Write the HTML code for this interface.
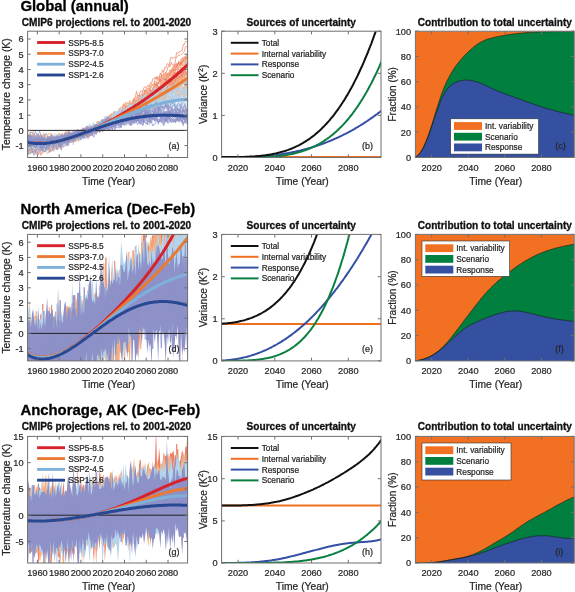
<!DOCTYPE html>
<html><head><meta charset="utf-8"><style>html,body{margin:0;padding:0;background:#fff;width:575px;height:592px;overflow:hidden}svg{display:block;will-change:transform}text{font-family:"Liberation Sans",sans-serif}</style></head>
<body><svg width="575" height="592" viewBox="0 0 575 592" font-family='"Liberation Sans", sans-serif'>
<rect width="575" height="592" fill="#fff"/>
<defs>
<clipPath id="c00"><rect x="27.6" y="31.2" width="160" height="126.3"/></clipPath>
<clipPath id="c01"><rect x="221.6" y="31.2" width="159.4" height="126.3"/></clipPath>
<clipPath id="c02"><rect x="415.4" y="31.2" width="158.8" height="126.3"/></clipPath>
<clipPath id="c10"><rect x="27.6" y="234.4" width="160" height="126.5"/></clipPath>
<clipPath id="c11"><rect x="221.6" y="234.4" width="159.4" height="126.5"/></clipPath>
<clipPath id="c12"><rect x="415.4" y="234.4" width="158.8" height="126.5"/></clipPath>
<clipPath id="c20"><rect x="27.6" y="436.4" width="160" height="126.6"/></clipPath>
<clipPath id="c21"><rect x="221.6" y="436.4" width="159.4" height="126.6"/></clipPath>
<clipPath id="c22"><rect x="415.4" y="436.4" width="158.8" height="126.6"/></clipPath>
</defs>
<g clip-path="url(#c00)">
<path d="M0 1415l1 17 1 -3 1 11 1 -18 1 -32 1 30 1 13 1 -20 1 -3 1 5 1 24 1 -12 1 -19 1 37 1 -7 1 28 1 -5 1 10 1 -32 1 11 1 -30 1 -7 1 4 1 50 1 -28 1 -20 1 -11 1 31 1 -15 1 5 1 -4 1 -42 1 25 1 -10 1 -25 1 22 1 -5 1 -9 1 -3 1 24 1 -23 1 -36 1 49 1 -39 1 1 1 15 1 -55 1 7 1 42 1 -18 1 -18 1 8 1 -20 1 8 1 -17 1 -24 1 35 1 -12 1 8 1 -14 1 21 1 -10 1 -17 1 -33 1 -20 1 41 1 -4 1 -37 1 40 1 -26 1 -20 1 -41 1 -5 1 14 1 0 1 -9 1 -46 1 23 1 -2 1 -21 1 -2 1 -4 1 12 1 -26 1 -5 1 -42 1 -8 1 6 1 -19 1 9 1 -33 1 6 1 -17 1 28 1 -33 1 27 1 8 1 -41 1 -6 1 -32 1 -60 1 40 1 1 1 -25 1 -21 1 1 1 -6 1 -29 1 -12 1 22 1 -21 1 -16 1 11 1 -33 1 7 1 -45 1 -5 1 -7 1 5 1 -17 1 27 1 -18 1 -45 1 31 1 -62 1 28 1 -53 1 9 1 -40 1 -6 1 24 1 -60 1 -31 1 14 1 0 1 -12 1 5 1 -51 1 10 1 -17 1 2 1 -12 1 0 1 -63 1 2 1 -33 1 0 1 6 1 -16" transform="translate(26.5,0) scale(1.0883,0.1)" fill="none" stroke="#EE7D62" stroke-width="0.7" vector-effect="non-scaling-stroke"/>
<path d="M0 1430l1 2 1 25 1 -4 1 -53 1 34 1 19 1 -23 1 -30 1 53 1 -11 1 6 1 25 1 -45 1 2 1 -2 1 17 1 -21 1 14 1 -5 1 18 1 7 1 -53 1 22 1 -11 1 2 1 8 1 2 1 -24 1 10 1 -1 1 -6 1 -28 1 0 1 5 1 20 1 21 1 -46 1 -16 1 17 1 -12 1 -11 1 -7 1 -6 1 25 1 -37 1 45 1 -34 1 -5 1 -13 1 -28 1 -3 1 53 1 24 1 -49 1 21 1 -18 1 -27 1 41 1 20 1 -49 1 -13 1 -1 1 -11 1 11 1 13 1 -30 1 4 1 10 1 -47 1 -7 1 -17 1 19 1 -6 1 1 1 -8 1 -30 1 6 1 -27 1 -14 1 -45 1 54 1 -38 1 4 1 -6 1 23 1 -20 1 -37 1 0 1 -9 1 0 1 -37 1 8 1 42 1 -25 1 14 1 25 1 -57 1 -63 1 2 1 21 1 -6 1 -52 1 -1 1 -5 1 -6 1 -10 1 -26 1 -9 1 -3 1 20 1 -35 1 9 1 -43 1 31 1 -22 1 -16 1 15 1 -67 1 -22 1 27 1 -25 1 -7 1 54 1 -52 1 -17 1 -15 1 12 1 -21 1 -17 1 -41 1 -3 1 -1 1 -41 1 24 1 -5 1 21 1 -74 1 -18 1 -13 1 -7 1 2 1 -11 1 -2 1 -10 1 -17 1 -46 1 -2 1 4 1 3" transform="translate(26.5,0) scale(1.0883,0.1)" fill="none" stroke="#EE7D62" stroke-width="0.7" vector-effect="non-scaling-stroke"/>
<path d="M0 1343l1 9 1 13 1 22 1 -15 1 -23 1 22 1 4 1 2 1 -5 1 35 1 -17 1 8 1 -33 1 25 1 -20 1 -27 1 32 1 16 1 -12 1 0 1 21 1 -24 1 -41 1 36 1 9 1 20 1 -24 1 26 1 4 1 -51 1 31 1 -34 1 -21 1 20 1 -2 1 -31 1 35 1 17 1 20 1 -25 1 -39 1 -3 1 38 1 8 1 -7 1 -21 1 3 1 -11 1 -6 1 8 1 -5 1 -9 1 1 1 -14 1 -36 1 14 1 13 1 39 1 -35 1 37 1 -4 1 -51 1 -16 1 10 1 33 1 -22 1 -3 1 -33 1 -47 1 25 1 26 1 12 1 -23 1 -8 1 14 1 -26 1 15 1 -47 1 -17 1 -9 1 26 1 -17 1 5 1 3 1 -4 1 15 1 4 1 -51 1 1 1 -12 1 -25 1 47 1 -11 1 -27 1 -18 1 7 1 -32 1 3 1 27 1 -3 1 -42 1 -10 1 43 1 -61 1 -7 1 -23 1 25 1 1 1 13 1 -79 1 30 1 -34 1 33 1 -13 1 30 1 -23 1 -41 1 30 1 -46 1 -3 1 23 1 -10 1 -9 1 -17 1 0 1 1 1 -17 1 5 1 2 1 -32 1 -35 1 36 1 -28 1 0 1 1 1 -45 1 10 1 -46 1 29 1 -22 1 0 1 5 1 -33 1 0 1 -23 1 1 1 16 1 -22 1 -17" transform="translate(26.5,0) scale(1.0883,0.1)" fill="none" stroke="#EE7D62" stroke-width="0.7" vector-effect="non-scaling-stroke"/>
<path d="M0 1462l1 37 1 -39 1 26 1 23 1 -30 1 -34 1 46 1 5 1 -7 1 6 1 -30 1 15 1 2 1 -28 1 20 1 -21 1 23 1 11 1 16 1 -76 1 23 1 -7 1 2 1 -4 1 -1 1 -42 1 49 1 24 1 -7 1 3 1 -46 1 -17 1 30 1 16 1 -19 1 -46 1 74 1 -52 1 16 1 -43 1 29 1 -10 1 19 1 -8 1 -56 1 -7 1 20 1 13 1 23 1 -29 1 -20 1 -8 1 -5 1 16 1 -21 1 -10 1 -35 1 -27 1 31 1 19 1 -13 1 3 1 0 1 -18 1 11 1 -36 1 0 1 -12 1 1 1 7 1 3 1 -19 1 -4 1 -22 1 -7 1 23 1 -29 1 17 1 -16 1 -16 1 28 1 -43 1 -19 1 -4 1 -1 1 -7 1 6 1 -19 1 -5 1 -20 1 16 1 -31 1 -13 1 -4 1 0 1 -27 1 34 1 -41 1 -14 1 -11 1 -11 1 13 1 -11 1 -28 1 -10 1 -4 1 29 1 -41 1 -32 1 -13 1 7 1 34 1 -50 1 2 1 45 1 -55 1 17 1 -6 1 -23 1 -54 1 12 1 -17 1 -43 1 -17 1 25 1 3 1 15 1 -14 1 -36 1 -17 1 -6 1 -28 1 22 1 -16 1 -30 1 -13 1 -22 1 0 1 8 1 -20 1 15 1 11 1 -53 1 -10 1 -19 1 29 1 -28 1 -11 1 -6" transform="translate(26.5,0) scale(1.0883,0.1)" fill="none" stroke="#EE7D62" stroke-width="0.7" vector-effect="non-scaling-stroke"/>
<path d="M0 1418l1 6 1 24 1 -5 1 -17 1 70 1 -35 1 -24 1 -10 1 -25 1 5 1 18 1 6 1 -9 1 25 1 -3 1 -22 1 -30 1 35 1 8 1 -4 1 -27 1 20 1 -27 1 43 1 -6 1 -2 1 -24 1 -14 1 49 1 0 1 -29 1 11 1 20 1 -51 1 -6 1 -3 1 17 1 -29 1 16 1 -27 1 33 1 6 1 -23 1 9 1 -29 1 -3 1 22 1 -18 1 1 1 -30 1 21 1 -1 1 -38 1 -37 1 -9 1 35 1 4 1 -31 1 23 1 22 1 -21 1 -17 1 21 1 21 1 -1 1 -48 1 14 1 -12 1 -14 1 -15 1 13 1 -17 1 22 1 -7 1 9 1 -46 1 8 1 14 1 -6 1 -8 1 -25 1 38 1 -3 1 -18 1 -71 1 10 1 22 1 -14 1 -36 1 35 1 10 1 -34 1 2 1 -7 1 20 1 -49 1 -14 1 17 1 -1 1 54 1 -44 1 1 1 -17 1 -14 1 14 1 30 1 -39 1 8 1 -10 1 -1 1 -9 1 35 1 -68 1 -4 1 -24 1 -29 1 29 1 44 1 -11 1 0 1 -19 1 -23 1 34 1 -44 1 22 1 -36 1 -6 1 -2 1 -10 1 3 1 -2 1 17 1 -34 1 -55 1 -23 1 2 1 9 1 28 1 -42 1 15 1 0 1 0 1 -13 1 3 1 -11 1 13 1 -17 1 -66 1 25" transform="translate(26.5,0) scale(1.0883,0.1)" fill="none" stroke="#EE7D62" stroke-width="0.7" vector-effect="non-scaling-stroke"/>
<path d="M0 1384l1 37 1 -8 1 -25 1 8 1 6 1 -28 1 40 1 -4 1 12 1 -39 1 62 1 -8 1 -6 1 -27 1 -7 1 -19 1 58 1 -33 1 12 1 11 1 -23 1 23 1 31 1 -28 1 15 1 -15 1 -27 1 -8 1 -31 1 27 1 36 1 -8 1 0 1 5 1 -36 1 11 1 30 1 -50 1 0 1 -12 1 0 1 -14 1 7 1 -26 1 7 1 1 1 -3 1 36 1 -19 1 -6 1 -15 1 27 1 -59 1 12 1 29 1 16 1 -28 1 -16 1 6 1 -19 1 7 1 -26 1 15 1 -13 1 -29 1 -46 1 59 1 2 1 5 1 -37 1 27 1 -10 1 -17 1 12 1 -1 1 -15 1 27 1 -10 1 -29 1 -25 1 -5 1 29 1 -24 1 -38 1 -11 1 6 1 15 1 -32 1 11 1 12 1 -9 1 -55 1 5 1 -23 1 24 1 -28 1 19 1 -8 1 -64 1 13 1 26 1 -6 1 -15 1 -29 1 23 1 29 1 -28 1 -20 1 -13 1 -35 1 6 1 -14 1 31 1 -38 1 -43 1 10 1 9 1 -1 1 -40 1 40 1 -11 1 -21 1 -18 1 14 1 -18 1 2 1 -14 1 -5 1 15 1 -26 1 -33 1 24 1 -15 1 -30 1 22 1 -26 1 12 1 -49 1 -47 1 -14 1 37 1 -16 1 2 1 -5 1 -40 1 43 1 -45 1 4 1 -37" transform="translate(26.5,0) scale(1.0883,0.1)" fill="none" stroke="#EE7D62" stroke-width="0.7" vector-effect="non-scaling-stroke"/>
<path d="M0 1445l1 -10 1 12 1 -5 1 20 1 41 1 -52 1 -12 1 9 1 4 1 -20 1 26 1 12 1 -7 1 -33 1 45 1 -43 1 26 1 16 1 -46 1 14 1 28 1 -12 1 -33 1 -17 1 28 1 -11 1 -11 1 23 1 -16 1 2 1 9 1 0 1 -14 1 -6 1 9 1 -3 1 -36 1 6 1 -15 1 -14 1 6 1 -36 1 52 1 -22 1 14 1 -45 1 -13 1 71 1 -3 1 -39 1 -17 1 -8 1 12 1 -11 1 -11 1 9 1 -25 1 59 1 -47 1 17 1 -41 1 10 1 13 1 -27 1 16 1 1 1 10 1 -33 1 -25 1 -23 1 14 1 -25 1 10 1 2 1 -18 1 -20 1 19 1 0 1 -6 1 -12 1 13 1 -41 1 13 1 -19 1 17 1 -24 1 -13 1 9 1 -54 1 14 1 -31 1 4 1 31 1 -2 1 -23 1 -4 1 -6 1 0 1 28 1 -31 1 28 1 -52 1 3 1 -5 1 -17 1 -21 1 24 1 9 1 -18 1 10 1 -25 1 -68 1 31 1 -33 1 27 1 -33 1 -2 1 -13 1 -23 1 -38 1 16 1 0 1 18 1 -34 1 1 1 -29 1 4 1 -43 1 60 1 -24 1 -39 1 8 1 5 1 -16 1 12 1 -35 1 -66 1 1 1 41 1 1 1 -17 1 -42 1 19 1 -4 1 -42 1 -19 1 13 1 13 1 5" transform="translate(26.5,0) scale(1.0883,0.1)" fill="none" stroke="#EE7D62" stroke-width="0.7" vector-effect="non-scaling-stroke"/>
<path d="M0 1502l1 25 1 -17 1 -34 1 4 1 50 1 -29 1 -15 1 35 1 14 1 -15 1 27 1 -59 1 64 1 -10 1 -22 1 -9 1 -13 1 -8 1 6 1 -29 1 60 1 -30 1 4 1 -19 1 -10 1 19 1 -3 1 -34 1 -3 1 18 1 -55 1 -25 1 70 1 -20 1 -55 1 16 1 14 1 10 1 7 1 -8 1 1 1 -30 1 11 1 1 1 13 1 -25 1 7 1 -17 1 -35 1 0 1 -7 1 -3 1 2 1 0 1 0 1 -27 1 26 1 -48 1 10 1 14 1 -5 1 -2 1 -21 1 9 1 -40 1 26 1 36 1 -26 1 17 1 -41 1 -39 1 -6 1 36 1 -4 1 -60 1 10 1 6 1 -24 1 -41 1 9 1 23 1 -1 1 -10 1 19 1 11 1 -24 1 10 1 -20 1 -13 1 -56 1 47 1 -6 1 -5 1 -19 1 -23 1 22 1 9 1 16 1 -15 1 -40 1 -6 1 16 1 -13 1 -17 1 -20 1 12 1 -8 1 27 1 -12 1 -67 1 56 1 -27 1 -25 1 0 1 4 1 -19 1 -12 1 -7 1 31 1 -33 1 0 1 -12 1 -25 1 -22 1 -17 1 19 1 -30 1 -20 1 -10 1 -15 1 23 1 2 1 -26 1 33 1 -29 1 1 1 -9 1 20 1 -17 1 -30 1 -35 1 -18 1 11 1 0 1 7 1 -30 1 -2 1 -25 1 -38" transform="translate(26.5,0) scale(1.0883,0.1)" fill="none" stroke="#EE7D62" stroke-width="0.7" vector-effect="non-scaling-stroke"/>
<path d="M0 1505l1 19 1 0 1 -53 1 7 1 39 1 -35 1 -23 1 27 1 14 1 -4 1 -15 1 -12 1 -17 1 -6 1 -3 1 -6 1 12 1 49 1 -16 1 -16 1 8 1 -26 1 17 1 15 1 -48 1 1 1 7 1 -15 1 -9 1 10 1 60 1 -22 1 -14 1 4 1 -26 1 -32 1 23 1 18 1 -65 1 31 1 22 1 -27 1 -16 1 17 1 -31 1 15 1 10 1 -23 1 -24 1 20 1 -19 1 0 1 -66 1 52 1 -33 1 17 1 2 1 -21 1 -14 1 -16 1 11 1 19 1 1 1 -26 1 -13 1 -24 1 9 1 -14 1 -18 1 20 1 37 1 1 1 1 1 -68 1 28 1 -40 1 -2 1 -29 1 2 1 20 1 4 1 -9 1 -9 1 8 1 -13 1 -43 1 53 1 -31 1 12 1 -25 1 -26 1 7 1 -21 1 40 1 -51 1 17 1 -26 1 -3 1 53 1 -28 1 -35 1 -43 1 8 1 -1 1 29 1 -56 1 -31 1 24 1 7 1 27 1 -51 1 -60 1 19 1 -11 1 6 1 29 1 -46 1 35 1 -17 1 -21 1 -25 1 -4 1 -6 1 17 1 10 1 -31 1 0 1 7 1 -5 1 -24 1 16 1 -12 1 -4 1 -47 1 -25 1 -48 1 54 1 -8 1 -43 1 5 1 -3 1 -51 1 22 1 17 1 1 1 -41 1 -19 1 23 1 -9" transform="translate(26.5,0) scale(1.0883,0.1)" fill="none" stroke="#EE7D62" stroke-width="0.7" vector-effect="non-scaling-stroke"/>
<path d="M0 1411l1 -21 1 -4 1 51 1 -16 1 -19 1 16 1 39 1 -27 1 -30 1 -26 1 73 1 -81 1 56 1 -28 1 -14 1 1 1 18 1 32 1 -28 1 19 1 44 1 -102 1 14 1 -20 1 51 1 -36 1 -15 1 -5 1 31 1 34 1 -14 1 38 1 -1 1 -40 1 9 1 -16 1 -8 1 -48 1 -2 1 25 1 -21 1 34 1 -1 1 -29 1 34 1 -12 1 16 1 -28 1 -44 1 36 1 -13 1 17 1 8 1 2 1 -60 1 -40 1 25 1 30 1 -25 1 12 1 -24 1 1 1 -4 1 -12 1 18 1 -2 1 23 1 -24 1 9 1 -28 1 4 1 -25 1 -20 1 30 1 -8 1 -5 1 -41 1 -38 1 2 1 22 1 -37 1 48 1 -55 1 25 1 48 1 -106 1 -14 1 46 1 -16 1 -2 1 -13 1 25 1 -14 1 -34 1 -11 1 -29 1 10 1 -51 1 45 1 -13 1 37 1 -9 1 -63 1 24 1 -30 1 -2 1 15 1 -16 1 -8 1 -8 1 -35 1 -14 1 16 1 6 1 -30 1 -7 1 -32 1 -51 1 17 1 18 1 2 1 9 1 -3 1 -5 1 -21 1 -12 1 -36 1 7 1 -8 1 12 1 -64 1 -2 1 -35 1 4 1 -21 1 24 1 -20 1 -56 1 60 1 -41 1 -30 1 10 1 -11 1 -22 1 27 1 -22 1 13 1 -8 1 -11" transform="translate(26.5,0) scale(1.0883,0.1)" fill="none" stroke="#EE7D62" stroke-width="0.7" vector-effect="non-scaling-stroke"/>
<path d="M0 1406l1 40 1 -62 1 1 1 10 1 28 1 2 1 -12 1 0 1 45 1 -39 1 -59 1 87 1 -37 1 3 1 11 1 -30 1 47 1 -16 1 -34 1 25 1 12 1 -9 1 9 1 -43 1 40 1 -28 1 37 1 -32 1 5 1 55 1 -42 1 9 1 -12 1 -49 1 41 1 10 1 -54 1 10 1 -30 1 16 1 28 1 -11 1 -34 1 -7 1 16 1 2 1 1 1 8 1 -55 1 22 1 29 1 -8 1 -32 1 -11 1 11 1 12 1 -15 1 30 1 -3 1 -50 1 10 1 -20 1 -27 1 0 1 11 1 -47 1 15 1 23 1 -21 1 -3 1 23 1 -17 1 -4 1 35 1 -33 1 -12 1 -4 1 21 1 -26 1 -18 1 -13 1 19 1 -38 1 25 1 -18 1 -44 1 27 1 -1 1 -39 1 15 1 -1 1 -17 1 -28 1 59 1 -18 1 -6 1 -4 1 -12 1 -8 1 -33 1 12 1 -24 1 -18 1 14 1 -20 1 -43 1 10 1 19 1 -12 1 10 1 -29 1 -26 1 23 1 -12 1 -38 1 19 1 -15 1 16 1 -5 1 -14 1 -67 1 29 1 5 1 -3 1 -15 1 -28 1 -5 1 -47 1 19 1 -26 1 11 1 -10 1 34 1 -24 1 -14 1 -7 1 32 1 -61 1 2 1 -5 1 -12 1 -11 1 -23 1 22 1 -8 1 -35 1 -14 1 0 1 -3" transform="translate(26.5,0) scale(1.0883,0.1)" fill="none" stroke="#EE7D62" stroke-width="0.7" vector-effect="non-scaling-stroke"/>
<path d="M0 1400l1 41 1 -41 1 3 1 29 1 -17 1 43 1 19 1 -3 1 -20 1 -8 1 2 1 -12 1 43 1 -43 1 27 1 -8 1 -8 1 12 1 8 1 -6 1 -24 1 -22 1 -6 1 30 1 3 1 3 1 -30 1 42 1 -58 1 17 1 10 1 -22 1 -24 1 6 1 -15 1 12 1 -21 1 -9 1 24 1 -28 1 16 1 4 1 21 1 -10 1 -29 1 34 1 -35 1 -7 1 -3 1 49 1 -33 1 -29 1 19 1 -16 1 45 1 -55 1 9 1 -34 1 45 1 -44 1 3 1 -25 1 26 1 -1 1 -65 1 43 1 7 1 -10 1 9 1 -47 1 -30 1 40 1 30 1 -56 1 -19 1 -3 1 -12 1 36 1 -8 1 20 1 3 1 -54 1 15 1 -62 1 25 1 18 1 -29 1 -34 1 14 1 36 1 -27 1 -33 1 25 1 10 1 -40 1 3 1 23 1 -13 1 0 1 -27 1 -8 1 -30 1 -3 1 42 1 -33 1 -25 1 -3 1 -18 1 24 1 11 1 -42 1 26 1 26 1 -65 1 13 1 -10 1 15 1 -2 1 -9 1 -25 1 -28 1 44 1 -58 1 19 1 -2 1 -43 1 -2 1 25 1 -70 1 32 1 -20 1 -10 1 -35 1 24 1 -30 1 23 1 -39 1 23 1 -7 1 -56 1 10 1 2 1 -51 1 19 1 25 1 -32 1 25 1 -48 1 -22" transform="translate(26.5,0) scale(1.0883,0.1)" fill="none" stroke="#EE7D62" stroke-width="0.7" vector-effect="non-scaling-stroke"/>
<path d="M0 1446l1 3 1 23 1 -26 1 49 1 -20 1 -6 1 -5 1 -13 1 28 1 -30 1 7 1 11 1 19 1 1 1 -34 1 18 1 -18 1 -27 1 -9 1 -15 1 34 1 26 1 -38 1 2 1 -19 1 17 1 -22 1 -1 1 1 1 3 1 1 1 2 1 -1 1 -19 1 24 1 -43 1 24 1 -19 1 15 1 5 1 -49 1 32 1 28 1 -7 1 -13 1 -60 1 21 1 -13 1 35 1 -22 1 -16 1 -33 1 41 1 -19 1 -3 1 24 1 -18 1 -4 1 40 1 -55 1 -18 1 11 1 20 1 -58 1 6 1 -18 1 -17 1 33 1 -23 1 13 1 -4 1 -4 1 -7 1 -29 1 8 1 5 1 1 1 -17 1 17 1 -7 1 -15 1 2 1 -13 1 3 1 -59 1 -8 1 13 1 10 1 -49 1 21 1 11 1 -10 1 -7 1 -30 1 17 1 -44 1 45 1 -24 1 24 1 -57 1 24 1 -3 1 -27 1 -19 1 39 1 -9 1 15 1 -33 1 -10 1 -2 1 1 1 -11 1 0 1 -33 1 -36 1 58 1 -26 1 -7 1 -27 1 18 1 -17 1 8 1 -40 1 -4 1 -2 1 -17 1 3 1 23 1 -45 1 -12 1 0 1 -30 1 -20 1 37 1 -1 1 -56 1 -20 1 34 1 14 1 -14 1 -13 1 13 1 -37 1 11 1 -5 1 -53 1 12 1 -16 1 -26" transform="translate(26.5,0) scale(1.0883,0.1)" fill="none" stroke="#EE7D62" stroke-width="0.7" vector-effect="non-scaling-stroke"/>
<path d="M0 1436l1 19 1 -48 1 10 1 41 1 -11 1 -18 1 0 1 -29 1 1 1 41 1 3 1 26 1 -26 1 -6 1 -56 1 38 1 57 1 -14 1 -22 1 22 1 -3 1 -12 1 -20 1 3 1 15 1 -33 1 17 1 3 1 18 1 -9 1 -35 1 36 1 -24 1 -27 1 14 1 -11 1 23 1 -47 1 -12 1 12 1 44 1 -5 1 -47 1 -32 1 17 1 -17 1 31 1 -2 1 -8 1 -14 1 34 1 -46 1 -25 1 42 1 14 1 -36 1 8 1 35 1 -61 1 -7 1 7 1 -56 1 21 1 21 1 -16 1 15 1 -5 1 -31 1 7 1 -5 1 -51 1 -2 1 -4 1 0 1 -4 1 -26 1 19 1 -39 1 43 1 -7 1 17 1 -21 1 -30 1 -34 1 30 1 -11 1 0 1 3 1 5 1 -31 1 24 1 -37 1 -15 1 5 1 3 1 4 1 -74 1 40 1 -55 1 -2 1 14 1 16 1 -48 1 -35 1 40 1 -7 1 -37 1 -2 1 -42 1 36 1 -19 1 26 1 -69 1 33 1 35 1 -41 1 -18 1 -56 1 25 1 -6 1 -21 1 -34 1 18 1 -25 1 -3 1 9 1 -12 1 -9 1 10 1 -49 1 33 1 -51 1 -18 1 9 1 10 1 -16 1 -27 1 -21 1 -4 1 -24 1 18 1 -19 1 25 1 -50 1 -10 1 1 1 -41 1 -11 1 64" transform="translate(26.5,0) scale(1.0883,0.1)" fill="none" stroke="#EE7D62" stroke-width="0.7" vector-effect="non-scaling-stroke"/>
<path d="M0 1462l1 -37 1 54 1 3 1 8 1 -10 1 -10 1 -17 1 43 1 -42 1 40 1 -14 1 -24 1 1 1 35 1 4 1 -5 1 -11 1 -30 1 41 1 -26 1 -13 1 -4 1 -2 1 -24 1 13 1 -6 1 2 1 -28 1 68 1 -49 1 15 1 3 1 13 1 21 1 -29 1 -4 1 -30 1 31 1 -56 1 5 1 10 1 9 1 2 1 4 1 -14 1 -20 1 -5 1 21 1 -21 1 3 1 -25 1 -48 1 9 1 19 1 29 1 1 1 2 1 -55 1 12 1 -19 1 5 1 -18 1 -36 1 30 1 -2 1 5 1 -38 1 26 1 6 1 3 1 -2 1 -45 1 -62 1 53 1 -29 1 2 1 25 1 -14 1 -10 1 3 1 -59 1 59 1 -35 1 -14 1 11 1 -17 1 -25 1 3 1 -9 1 -13 1 49 1 -65 1 -41 1 11 1 -3 1 46 1 -18 1 4 1 -8 1 -41 1 20 1 -13 1 29 1 -34 1 -21 1 6 1 -4 1 -62 1 43 1 3 1 -9 1 -51 1 -40 1 20 1 23 1 -5 1 -39 1 24 1 -48 1 -20 1 17 1 -13 1 -12 1 -27 1 42 1 -42 1 15 1 7 1 -23 1 -6 1 8 1 9 1 -17 1 -63 1 -36 1 10 1 -14 1 25 1 -9 1 -17 1 18 1 -4 1 -31 1 -7 1 6 1 -36 1 -4 1 -35 1 4" transform="translate(26.5,0) scale(1.0883,0.1)" fill="none" stroke="#EE7D62" stroke-width="0.7" vector-effect="non-scaling-stroke"/>
<path d="M0 1421l1 13 1 -1 1 -24 1 -4 1 -14 1 60 1 -10 1 -2 1 -12 1 9 1 5 1 -27 1 5 1 30 1 -45 1 -6 1 31 1 -21 1 26 1 -33 1 19 1 17 1 -6 1 6 1 -20 1 -6 1 -1 1 11 1 68 1 -61 1 23 1 -41 1 -33 1 7 1 14 1 -2 1 -3 1 5 1 1 1 5 1 -46 1 10 1 -21 1 18 1 -5 1 2 1 -16 1 -15 1 5 1 18 1 5 1 -53 1 22 1 4 1 -39 1 -7 1 6 1 19 1 -56 1 21 1 0 1 12 1 27 1 3 1 -40 1 -15 1 5 1 18 1 8 1 -25 1 13 1 -51 1 -24 1 -47 1 24 1 35 1 12 1 55 1 -49 1 -27 1 -37 1 -7 1 -6 1 2 1 -13 1 -25 1 41 1 -4 1 14 1 -65 1 -17 1 3 1 37 1 -22 1 -3 1 -12 1 -3 1 -20 1 8 1 -28 1 -1 1 7 1 -7 1 0 1 -32 1 9 1 -15 1 6 1 20 1 -51 1 22 1 -36 1 -10 1 36 1 -10 1 -17 1 -4 1 1 1 -46 1 1 1 -18 1 6 1 -19 1 11 1 -18 1 -24 1 -2 1 5 1 9 1 -30 1 -19 1 1 1 5 1 -32 1 -57 1 36 1 -9 1 -10 1 53 1 -47 1 -3 1 -52 1 13 1 8 1 -16 1 -20 1 3 1 -16 1 15" transform="translate(26.5,0) scale(1.0883,0.1)" fill="none" stroke="#EE7D62" stroke-width="0.7" vector-effect="non-scaling-stroke"/>
<path d="M0 1347l1 16 1 16 1 -14 1 1 1 -13 1 10 1 29 1 1 1 3 1 -1 1 2 1 22 1 35 1 -20 1 23 1 -38 1 -10 1 32 1 -41 1 -16 1 11 1 -31 1 -14 1 60 1 -30 1 3 1 0 1 -12 1 30 1 6 1 5 1 -1 1 -16 1 22 1 -3 1 -37 1 1 1 -11 1 43 1 -13 1 -10 1 -18 1 6 1 -33 1 9 1 -1 1 -3 1 -18 1 18 1 -31 1 2 1 4 1 2 1 -13 1 -17 1 -7 1 8 1 -12 1 10 1 -24 1 17 1 46 1 -63 1 4 1 25 1 -17 1 6 1 -65 1 11 1 43 1 -35 1 5 1 -51 1 44 1 35 1 -43 1 -8 1 -5 1 31 1 -49 1 -46 1 59 1 -53 1 18 1 -62 1 18 1 15 1 -28 1 0 1 19 1 -27 1 14 1 27 1 -78 1 22 1 8 1 -23 1 29 1 0 1 -23 1 -12 1 -21 1 -33 1 19 1 -20 1 -13 1 26 1 -25 1 13 1 -45 1 -5 1 2 1 25 1 -29 1 4 1 -35 1 2 1 9 1 -39 1 -13 1 18 1 -37 1 14 1 -1 1 -16 1 8 1 -10 1 -14 1 -47 1 -19 1 26 1 -39 1 18 1 -10 1 -20 1 1 1 -52 1 25 1 32 1 -51 1 15 1 -4 1 49 1 -77 1 -25 1 -14 1 -15 1 -27 1 22" transform="translate(26.5,0) scale(1.0883,0.1)" fill="none" stroke="#EE7D62" stroke-width="0.7" vector-effect="non-scaling-stroke"/>
<path d="M0 1462l1 -27 1 7 1 39 1 -24 1 5 1 15 1 -22 1 11 1 28 1 -2 1 -62 1 51 1 -22 1 -16 1 -6 1 37 1 -9 1 -13 1 -20 1 24 1 17 1 -42 1 -16 1 9 1 22 1 -17 1 0 1 -18 1 38 1 -20 1 -2 1 17 1 -25 1 -6 1 6 1 -18 1 31 1 -23 1 -19 1 -6 1 -21 1 40 1 15 1 -35 1 -18 1 -44 1 16 1 33 1 -29 1 23 1 18 1 -86 1 20 1 -6 1 -2 1 -31 1 20 1 -17 1 38 1 16 1 -59 1 -23 1 10 1 5 1 -2 1 14 1 -48 1 0 1 -1 1 -2 1 -19 1 1 1 -9 1 33 1 -31 1 -49 1 38 1 -2 1 -27 1 -15 1 -2 1 42 1 -37 1 19 1 -7 1 -36 1 2 1 -29 1 -63 1 26 1 3 1 30 1 -2 1 3 1 -16 1 2 1 -15 1 -19 1 5 1 5 1 -6 1 -46 1 -12 1 -30 1 -15 1 19 1 -22 1 32 1 -76 1 -6 1 22 1 21 1 -34 1 32 1 -20 1 -45 1 -6 1 4 1 -37 1 25 1 -27 1 1 1 2 1 -35 1 14 1 -65 1 27 1 -54 1 42 1 -31 1 23 1 2 1 -39 1 -30 1 25 1 -52 1 19 1 -22 1 -19 1 -19 1 38 1 -69 1 -6 1 11 1 8 1 8 1 -12 1 -53 1 -5" transform="translate(26.5,0) scale(1.0883,0.1)" fill="none" stroke="#EE7D62" stroke-width="0.7" vector-effect="non-scaling-stroke"/>
<path d="M0 1412l1 31 1 16 1 -36 1 8 1 12 1 18 1 26 1 -1 1 -15 1 -10 1 -16 1 -9 1 4 1 1 1 26 1 31 1 -26 1 0 1 -7 1 -11 1 16 1 1 1 -23 1 -13 1 12 1 -23 1 7 1 17 1 -19 1 -47 1 39 1 -30 1 -16 1 -9 1 45 1 -50 1 24 1 12 1 1 1 -20 1 3 1 3 1 -33 1 30 1 13 1 -38 1 -12 1 -15 1 38 1 -37 1 -2 1 -31 1 52 1 -19 1 1 1 25 1 -14 1 -48 1 17 1 6 1 -35 1 -17 1 -8 1 33 1 -9 1 -29 1 24 1 6 1 -35 1 -29 1 46 1 41 1 -15 1 -17 1 -28 1 -27 1 4 1 10 1 -19 1 15 1 -19 1 4 1 -74 1 14 1 36 1 10 1 -12 1 18 1 -18 1 -9 1 -41 1 12 1 7 1 10 1 -5 1 -29 1 -9 1 -36 1 23 1 -34 1 3 1 2 1 39 1 -7 1 -50 1 -34 1 11 1 -13 1 17 1 0 1 1 1 -39 1 -3 1 7 1 0 1 -24 1 -7 1 18 1 -54 1 10 1 4 1 -35 1 -6 1 17 1 -13 1 25 1 -7 1 28 1 -71 1 40 1 -48 1 12 1 2 1 -22 1 -21 1 -20 1 -36 1 14 1 -12 1 22 1 -27 1 -2 1 7 1 -11 1 -10 1 -15 1 -14 1 9 1 2" transform="translate(26.5,0) scale(1.0883,0.1)" fill="none" stroke="#EE7D62" stroke-width="0.7" vector-effect="non-scaling-stroke"/>
<path d="M0 1508l1 -42 1 79 1 -20 1 -35 1 39 1 -79 1 86 1 -60 1 -22 1 7 1 25 1 -5 1 24 1 -30 1 31 1 -11 1 -31 1 34 1 -7 1 -15 1 26 1 -48 1 2 1 38 1 -22 1 7 1 -3 1 -19 1 9 1 -35 1 22 1 -32 1 10 1 -19 1 21 1 3 1 12 1 -36 1 -22 1 -35 1 4 1 21 1 12 1 -12 1 2 1 -35 1 -3 1 34 1 3 1 -47 1 5 1 10 1 -32 1 20 1 0 1 0 1 28 1 -56 1 23 1 -11 1 -3 1 -37 1 2 1 -5 1 30 1 -28 1 16 1 -37 1 -17 1 -1 1 -48 1 13 1 -2 1 5 1 4 1 -29 1 -15 1 41 1 -42 1 -6 1 -16 1 1 1 31 1 3 1 -68 1 9 1 32 1 -32 1 0 1 26 1 12 1 -16 1 -50 1 -14 1 -5 1 -18 1 -18 1 47 1 -30 1 -4 1 2 1 -20 1 -20 1 -9 1 16 1 -21 1 -66 1 40 1 19 1 -42 1 -25 1 -11 1 24 1 -44 1 19 1 6 1 -15 1 -22 1 -31 1 -13 1 3 1 -26 1 4 1 -23 1 35 1 7 1 -54 1 23 1 -24 1 -18 1 -4 1 -9 1 -49 1 61 1 -61 1 -56 1 24 1 1 1 -23 1 -38 1 45 1 -21 1 -8 1 -26 1 -7 1 -21 1 9 1 -15 1 2" transform="translate(26.5,0) scale(1.0883,0.1)" fill="none" stroke="#EE7D62" stroke-width="0.7" vector-effect="non-scaling-stroke"/>
<path d="M0 1430l1 25 1 -50 1 23 1 34 1 -42 1 28 1 -19 1 7 1 -4 1 1 1 16 1 -8 1 -46 1 78 1 -27 1 -16 1 26 1 14 1 -72 1 32 1 -44 1 18 1 15 1 -6 1 -6 1 -15 1 9 1 8 1 0 1 -27 1 1 1 38 1 1 1 -22 1 11 1 -4 1 9 1 -14 1 -22 1 -21 1 13 1 -43 1 30 1 -63 1 25 1 15 1 24 1 53 1 -44 1 -23 1 -47 1 53 1 -57 1 26 1 -16 1 61 1 -41 1 -6 1 -27 1 2 1 23 1 -41 1 -12 1 -7 1 -15 1 -12 1 16 1 28 1 4 1 -62 1 -10 1 5 1 8 1 -13 1 -9 1 0 1 3 1 -66 1 17 1 17 1 15 1 -13 1 -41 1 -18 1 10 1 -8 1 0 1 11 1 -53 1 -2 1 -51 1 48 1 -4 1 -28 1 9 1 22 1 -8 1 -31 1 -20 1 -2 1 -30 1 -15 1 5 1 1 1 1 1 -23 1 -20 1 6 1 -12 1 7 1 19 1 -9 1 -46 1 -13 1 -35 1 17 1 -19 1 -21 1 -6 1 27 1 -8 1 -15 1 13 1 -34 1 -28 1 17 1 -53 1 25 1 -1 1 -6 1 2 1 -30 1 -8 1 -44 1 3 1 -5 1 8 1 20 1 -29 1 1 1 -46 1 0 1 -44 1 0 1 -10 1 2 1 -6 1 -20 1 -19" transform="translate(26.5,0) scale(1.0883,0.1)" fill="none" stroke="#F4AE7E" stroke-width="0.7" vector-effect="non-scaling-stroke"/>
<path d="M0 1344l1 43 1 19 1 16 1 22 1 -49 1 11 1 -1 1 -33 1 -23 1 66 1 -22 1 3 1 6 1 0 1 11 1 -32 1 11 1 9 1 -17 1 1 1 10 1 4 1 -30 1 17 1 17 1 20 1 -6 1 12 1 -23 1 -11 1 44 1 -33 1 -24 1 1 1 22 1 -43 1 28 1 17 1 0 1 -25 1 -31 1 -15 1 13 1 32 1 -4 1 1 1 -17 1 26 1 -35 1 -24 1 6 1 -13 1 23 1 15 1 -16 1 -46 1 -14 1 25 1 -31 1 20 1 -36 1 8 1 18 1 -26 1 21 1 6 1 8 1 -39 1 -9 1 -7 1 0 1 -43 1 21 1 9 1 -45 1 -21 1 12 1 43 1 -17 1 -35 1 -3 1 -38 1 45 1 -34 1 12 1 -43 1 12 1 -25 1 24 1 18 1 -6 1 -18 1 -1 1 -53 1 -24 1 11 1 25 1 -17 1 2 1 -50 1 4 1 -8 1 12 1 32 1 -22 1 -4 1 -39 1 -11 1 11 1 -11 1 -51 1 33 1 4 1 -19 1 -1 1 -12 1 -30 1 -40 1 58 1 -27 1 -14 1 -8 1 -6 1 -4 1 -36 1 15 1 -9 1 -11 1 -12 1 -3 1 -32 1 5 1 -8 1 -4 1 13 1 -6 1 -4 1 -34 1 3 1 1 1 -33 1 -23 1 35 1 -70 1 7 1 -1 1 -33 1 4 1 9" transform="translate(26.5,0) scale(1.0883,0.1)" fill="none" stroke="#F4AE7E" stroke-width="0.7" vector-effect="non-scaling-stroke"/>
<path d="M0 1469l1 -18 1 36 1 -9 1 -13 1 -46 1 56 1 -1 1 -15 1 7 1 30 1 -26 1 -2 1 -9 1 -17 1 -4 1 11 1 4 1 30 1 -13 1 -13 1 8 1 -9 1 15 1 -48 1 -29 1 43 1 -6 1 10 1 -31 1 6 1 7 1 6 1 -8 1 19 1 -32 1 17 1 -24 1 -1 1 -24 1 13 1 -21 1 32 1 -26 1 7 1 -10 1 -3 1 -23 1 53 1 -38 1 24 1 -53 1 48 1 -10 1 8 1 -72 1 37 1 -22 1 3 1 25 1 -28 1 -33 1 4 1 -28 1 15 1 -9 1 1 1 -20 1 -44 1 15 1 3 1 13 1 1 1 -51 1 34 1 1 1 -23 1 -4 1 -58 1 70 1 -43 1 -25 1 26 1 -8 1 -31 1 -40 1 37 1 20 1 -54 1 -33 1 24 1 41 1 -71 1 9 1 -32 1 10 1 5 1 -3 1 -47 1 -20 1 65 1 -12 1 -67 1 20 1 21 1 -28 1 -12 1 -10 1 0 1 -10 1 -6 1 -24 1 11 1 -14 1 -13 1 -41 1 1 1 5 1 -18 1 -9 1 -24 1 -1 1 -34 1 -7 1 21 1 8 1 -31 1 -9 1 5 1 24 1 8 1 -51 1 -31 1 -17 1 33 1 -46 1 12 1 -23 1 -14 1 14 1 -7 1 22 1 -25 1 4 1 -54 1 -16 1 -31 1 -5 1 12 1 -25" transform="translate(26.5,0) scale(1.0883,0.1)" fill="none" stroke="#F4AE7E" stroke-width="0.7" vector-effect="non-scaling-stroke"/>
<path d="M0 1388l1 28 1 -11 1 -3 1 8 1 -22 1 -23 1 39 1 12 1 44 1 -31 1 -3 1 37 1 -41 1 -19 1 22 1 -1 1 12 1 -33 1 38 1 -15 1 -53 1 23 1 -2 1 11 1 25 1 -19 1 -16 1 25 1 -23 1 -28 1 -6 1 53 1 2 1 12 1 -55 1 -9 1 -6 1 29 1 13 1 -24 1 -10 1 15 1 -19 1 -19 1 1 1 25 1 28 1 -34 1 -21 1 0 1 1 1 3 1 -32 1 4 1 -5 1 19 1 -5 1 -21 1 16 1 7 1 -20 1 -42 1 6 1 -29 1 23 1 7 1 22 1 -14 1 -50 1 5 1 -10 1 -6 1 10 1 4 1 -9 1 -18 1 -4 1 -6 1 3 1 16 1 -9 1 9 1 -43 1 50 1 -29 1 -67 1 34 1 24 1 -21 1 -37 1 16 1 -15 1 2 1 8 1 -77 1 39 1 21 1 2 1 -22 1 -11 1 -14 1 5 1 31 1 -36 1 3 1 -3 1 21 1 -17 1 -6 1 -20 1 20 1 -30 1 -14 1 18 1 -9 1 -1 1 -43 1 57 1 -34 1 14 1 -26 1 -39 1 16 1 -16 1 12 1 -60 1 0 1 -9 1 45 1 5 1 -50 1 8 1 0 1 -18 1 25 1 -41 1 0 1 -15 1 15 1 -25 1 14 1 -36 1 -20 1 -6 1 2 1 -7 1 64 1 -61 1 0" transform="translate(26.5,0) scale(1.0883,0.1)" fill="none" stroke="#F4AE7E" stroke-width="0.7" vector-effect="non-scaling-stroke"/>
<path d="M0 1463l1 -7 1 -27 1 -23 1 37 1 18 1 -44 1 37 1 -52 1 28 1 28 1 -31 1 -25 1 59 1 -46 1 25 1 -31 1 30 1 33 1 -35 1 -21 1 -32 1 -3 1 20 1 25 1 12 1 -3 1 9 1 -11 1 43 1 -47 1 -11 1 -61 1 18 1 30 1 -16 1 32 1 -7 1 23 1 -66 1 -4 1 34 1 -17 1 -29 1 -2 1 0 1 23 1 -1 1 -18 1 -27 1 27 1 11 1 -48 1 27 1 -38 1 3 1 -16 1 -26 1 11 1 -2 1 32 1 2 1 -32 1 -32 1 -9 1 -27 1 32 1 8 1 -18 1 12 1 2 1 18 1 -42 1 28 1 -29 1 29 1 -49 1 27 1 -35 1 37 1 -17 1 -43 1 25 1 -15 1 4 1 36 1 -49 1 -21 1 23 1 -33 1 15 1 5 1 -23 1 3 1 -66 1 58 1 -35 1 -20 1 53 1 7 1 -51 1 3 1 -22 1 -27 1 20 1 17 1 36 1 -55 1 3 1 -30 1 -11 1 27 1 -63 1 -9 1 -2 1 38 1 -9 1 -4 1 -9 1 9 1 -36 1 -10 1 -11 1 11 1 -39 1 7 1 60 1 -32 1 -26 1 -35 1 12 1 -2 1 4 1 -32 1 9 1 1 1 -2 1 -33 1 9 1 21 1 -47 1 9 1 -25 1 -14 1 -27 1 -10 1 27 1 -7 1 17 1 -64" transform="translate(26.5,0) scale(1.0883,0.1)" fill="none" stroke="#F4AE7E" stroke-width="0.7" vector-effect="non-scaling-stroke"/>
<path d="M0 1368l1 42 1 -62 1 14 1 5 1 5 1 -10 1 1 1 46 1 -42 1 23 1 6 1 -44 1 4 1 29 1 41 1 -30 1 -17 1 8 1 27 1 -2 1 10 1 -29 1 -23 1 -11 1 33 1 -11 1 -11 1 18 1 -3 1 -50 1 25 1 -9 1 25 1 -4 1 34 1 -27 1 -35 1 -32 1 8 1 12 1 15 1 17 1 -6 1 -21 1 22 1 -32 1 29 1 24 1 -12 1 9 1 -6 1 -58 1 9 1 -9 1 -25 1 -12 1 32 1 -32 1 8 1 8 1 -10 1 35 1 -8 1 -20 1 -25 1 10 1 -6 1 -29 1 -22 1 3 1 -13 1 28 1 2 1 -17 1 5 1 2 1 -50 1 21 1 19 1 -30 1 -41 1 20 1 -22 1 25 1 5 1 1 1 -15 1 -51 1 44 1 -50 1 37 1 -10 1 -29 1 -9 1 0 1 37 1 -36 1 15 1 -77 1 32 1 -3 1 23 1 -11 1 9 1 -50 1 7 1 -20 1 17 1 -4 1 -44 1 31 1 22 1 -44 1 15 1 -15 1 -38 1 21 1 -35 1 18 1 -45 1 -15 1 29 1 -2 1 8 1 -24 1 -33 1 41 1 -43 1 30 1 -6 1 13 1 -84 1 13 1 -5 1 13 1 -39 1 51 1 -35 1 -63 1 31 1 -5 1 -21 1 20 1 -17 1 -31 1 1 1 -9 1 7 1 -18" transform="translate(26.5,0) scale(1.0883,0.1)" fill="none" stroke="#F4AE7E" stroke-width="0.7" vector-effect="non-scaling-stroke"/>
<path d="M0 1343l1 19 1 55 1 -49 1 -14 1 33 1 34 1 -6 1 -45 1 30 1 -3 1 -15 1 -25 1 20 1 8 1 12 1 -43 1 0 1 24 1 36 1 -3 1 -30 1 18 1 -29 1 2 1 1 1 -8 1 0 1 28 1 -3 1 -59 1 57 1 0 1 -34 1 14 1 17 1 15 1 -37 1 -23 1 -16 1 22 1 -16 1 37 1 -16 1 11 1 -16 1 -20 1 -14 1 37 1 -39 1 24 1 16 1 -15 1 20 1 -27 1 -17 1 3 1 -17 1 10 1 -6 1 27 1 -27 1 9 1 -10 1 -13 1 -14 1 32 1 4 1 -29 1 -29 1 -10 1 -18 1 -17 1 8 1 10 1 21 1 1 1 -14 1 -23 1 -10 1 -2 1 -1 1 -21 1 -1 1 -6 1 -6 1 13 1 10 1 -33 1 -12 1 6 1 2 1 -61 1 43 1 -3 1 -15 1 22 1 -25 1 -47 1 1 1 2 1 -2 1 5 1 -20 1 13 1 6 1 -14 1 -25 1 0 1 -11 1 50 1 -58 1 -46 1 4 1 32 1 16 1 -23 1 16 1 -36 1 11 1 -32 1 -23 1 61 1 -36 1 6 1 13 1 -18 1 -18 1 -37 1 39 1 -48 1 -40 1 14 1 0 1 7 1 22 1 -34 1 -12 1 -16 1 -49 1 19 1 7 1 -27 1 49 1 5 1 -20 1 -6 1 -36 1 6 1 -48" transform="translate(26.5,0) scale(1.0883,0.1)" fill="none" stroke="#F4AE7E" stroke-width="0.7" vector-effect="non-scaling-stroke"/>
<path d="M0 1396l1 -16 1 -7 1 39 1 -17 1 -12 1 8 1 -25 1 1 1 44 1 -6 1 19 1 -24 1 24 1 -31 1 2 1 -12 1 20 1 34 1 -59 1 23 1 -27 1 12 1 -3 1 -26 1 23 1 -17 1 56 1 -35 1 12 1 0 1 -5 1 -10 1 -32 1 63 1 -23 1 8 1 -40 1 20 1 -15 1 12 1 -21 1 -16 1 23 1 -4 1 27 1 -31 1 -23 1 21 1 -32 1 56 1 9 1 -9 1 -25 1 -21 1 -7 1 -5 1 -21 1 16 1 19 1 3 1 -74 1 70 1 -30 1 -48 1 1 1 24 1 -15 1 -27 1 -20 1 34 1 -29 1 -3 1 -24 1 -18 1 27 1 27 1 -36 1 -45 1 5 1 6 1 -49 1 54 1 -31 1 18 1 -13 1 -10 1 -38 1 36 1 -3 1 17 1 -45 1 2 1 -23 1 19 1 -14 1 -39 1 9 1 -20 1 -9 1 11 1 24 1 -53 1 -3 1 -24 1 51 1 3 1 6 1 -31 1 -56 1 -11 1 3 1 -8 1 -21 1 11 1 -17 1 -6 1 43 1 -31 1 -53 1 16 1 -6 1 2 1 -7 1 -43 1 11 1 14 1 42 1 -47 1 10 1 -7 1 -63 1 -24 1 43 1 -53 1 -13 1 16 1 -34 1 33 1 -5 1 -3 1 -15 1 -53 1 24 1 -3 1 -13 1 -35 1 -6 1 -35 1 16" transform="translate(26.5,0) scale(1.0883,0.1)" fill="none" stroke="#F4AE7E" stroke-width="0.7" vector-effect="non-scaling-stroke"/>
<path d="M0 1442l1 22 1 -18 1 -37 1 40 1 0 1 -28 1 35 1 15 1 10 1 -29 1 -11 1 10 1 -1 1 -27 1 0 1 47 1 -16 1 -8 1 -16 1 14 1 12 1 -2 1 26 1 -31 1 2 1 -24 1 23 1 -8 1 8 1 2 1 -39 1 11 1 -18 1 25 1 -20 1 29 1 -19 1 -8 1 -28 1 -2 1 4 1 -23 1 4 1 -9 1 -10 1 11 1 6 1 -15 1 9 1 -18 1 -24 1 -5 1 22 1 22 1 -23 1 -8 1 -32 1 18 1 -1 1 -24 1 15 1 -6 1 -44 1 -11 1 12 1 9 1 26 1 -27 1 0 1 -7 1 11 1 -10 1 -2 1 -14 1 -31 1 11 1 43 1 -5 1 9 1 -17 1 -37 1 -10 1 15 1 -17 1 14 1 15 1 1 1 -14 1 -56 1 39 1 -46 1 -19 1 23 1 1 1 10 1 -13 1 -22 1 5 1 -23 1 -14 1 10 1 1 1 5 1 -10 1 24 1 -28 1 -7 1 17 1 -62 1 44 1 8 1 -25 1 36 1 -17 1 8 1 -14 1 -25 1 -20 1 -26 1 -5 1 -13 1 5 1 21 1 -31 1 21 1 5 1 -47 1 -2 1 8 1 -13 1 -10 1 41 1 -19 1 14 1 -27 1 4 1 -45 1 0 1 25 1 -14 1 17 1 -25 1 -23 1 -4 1 41 1 -26 1 -30 1 -9 1 -25" transform="translate(26.5,0) scale(1.0883,0.1)" fill="none" stroke="#F4AE7E" stroke-width="0.7" vector-effect="non-scaling-stroke"/>
<path d="M0 1416l1 -11 1 -6 1 -7 1 26 1 -7 1 28 1 14 1 -37 1 2 1 35 1 -6 1 -20 1 -38 1 -1 1 5 1 56 1 -19 1 -19 1 -4 1 -3 1 13 1 -40 1 -7 1 31 1 27 1 -58 1 37 1 -27 1 -25 1 52 1 -13 1 9 1 -18 1 -3 1 -37 1 15 1 16 1 -22 1 22 1 6 1 -56 1 46 1 5 1 -13 1 18 1 25 1 -63 1 18 1 -2 1 -7 1 8 1 2 1 -29 1 -59 1 15 1 2 1 45 1 -21 1 16 1 -40 1 6 1 -7 1 -2 1 8 1 19 1 -41 1 26 1 1 1 -21 1 0 1 -24 1 -26 1 6 1 0 1 1 1 -20 1 48 1 -35 1 14 1 8 1 -27 1 -3 1 -24 1 -22 1 64 1 -32 1 -56 1 4 1 -14 1 21 1 36 1 1 1 -41 1 -21 1 26 1 -5 1 -15 1 35 1 -23 1 -52 1 -30 1 36 1 -33 1 37 1 14 1 31 1 -62 1 7 1 -59 1 22 1 6 1 41 1 -61 1 18 1 -3 1 40 1 -58 1 -22 1 24 1 -12 1 -13 1 -19 1 9 1 -36 1 28 1 13 1 -3 1 40 1 -29 1 -51 1 -3 1 19 1 -23 1 39 1 -28 1 -30 1 -16 1 22 1 -33 1 -34 1 34 1 -18 1 39 1 17 1 -54 1 -9 1 -10 1 10 1 -8" transform="translate(26.5,0) scale(1.0883,0.1)" fill="none" stroke="#F4AE7E" stroke-width="0.7" vector-effect="non-scaling-stroke"/>
<path d="M0 1355l1 36 1 -50 1 2 1 0 1 12 1 -40 1 37 1 3 1 53 1 -10 1 0 1 -14 1 -11 1 21 1 -47 1 46 1 1 1 -14 1 28 1 -31 1 -11 1 17 1 -43 1 26 1 3 1 27 1 23 1 -17 1 -12 1 -2 1 -27 1 58 1 -11 1 11 1 -66 1 20 1 3 1 12 1 -40 1 14 1 -11 1 43 1 -57 1 -2 1 -6 1 -19 1 24 1 4 1 -20 1 -1 1 11 1 -4 1 8 1 -26 1 -15 1 13 1 -38 1 59 1 -13 1 -47 1 28 1 32 1 -59 1 -4 1 33 1 -37 1 24 1 10 1 -26 1 -5 1 7 1 -17 1 4 1 -25 1 -10 1 -24 1 15 1 19 1 1 1 -27 1 -50 1 -5 1 26 1 -30 1 31 1 -41 1 13 1 -25 1 -9 1 12 1 -13 1 21 1 -19 1 -35 1 -80 1 45 1 22 1 25 1 -41 1 41 1 -10 1 -33 1 19 1 -57 1 -13 1 27 1 4 1 12 1 1 1 -44 1 -22 1 -5 1 -5 1 12 1 -21 1 28 1 -28 1 -45 1 -15 1 28 1 1 1 -41 1 -26 1 57 1 -11 1 -22 1 -33 1 29 1 -29 1 7 1 -61 1 18 1 12 1 3 1 -35 1 -8 1 30 1 -24 1 20 1 -12 1 2 1 -5 1 -21 1 -6 1 -40 1 -24 1 9 1 15 1 -42" transform="translate(26.5,0) scale(1.0883,0.1)" fill="none" stroke="#F4AE7E" stroke-width="0.7" vector-effect="non-scaling-stroke"/>
<path d="M0 1492l1 -3 1 -7 1 24 1 29 1 -7 1 -26 1 21 1 4 1 16 1 -1 1 -45 1 -5 1 31 1 7 1 -11 1 -28 1 27 1 -15 1 36 1 -10 1 -41 1 -24 1 34 1 0 1 -36 1 12 1 5 1 -24 1 -3 1 -23 1 -3 1 26 1 -5 1 -6 1 23 1 -4 1 -46 1 37 1 -47 1 -2 1 5 1 -17 1 -7 1 -21 1 24 1 0 1 -3 1 -50 1 1 1 36 1 -5 1 2 1 -18 1 -14 1 -53 1 68 1 -44 1 -5 1 19 1 -11 1 0 1 -16 1 -26 1 43 1 -49 1 18 1 -36 1 9 1 -17 1 7 1 -11 1 16 1 21 1 -28 1 -12 1 -36 1 75 1 -19 1 -35 1 37 1 -14 1 -57 1 -4 1 45 1 -39 1 -9 1 4 1 7 1 2 1 22 1 -4 1 -30 1 1 1 -39 1 32 1 51 1 -31 1 -26 1 -12 1 0 1 16 1 -47 1 29 1 -23 1 11 1 20 1 -52 1 65 1 -19 1 -35 1 3 1 -26 1 8 1 7 1 -57 1 31 1 5 1 18 1 -4 1 -34 1 -12 1 6 1 13 1 -28 1 39 1 -20 1 -11 1 6 1 -23 1 8 1 2 1 -59 1 2 1 -12 1 17 1 -17 1 -5 1 -14 1 -32 1 42 1 -1 1 2 1 71 1 -27 1 -42 1 -29 1 13 1 -36 1 -18" transform="translate(26.5,0) scale(1.0883,0.1)" fill="none" stroke="#F4AE7E" stroke-width="0.7" vector-effect="non-scaling-stroke"/>
<path d="M0 1323l1 19 1 39 1 -39 1 25 1 13 1 -5 1 14 1 -29 1 -2 1 -9 1 12 1 34 1 -3 1 -23 1 21 1 -64 1 48 1 22 1 -31 1 -1 1 16 1 9 1 -12 1 -12 1 -3 1 21 1 -10 1 -13 1 -3 1 80 1 -24 1 -10 1 -17 1 -14 1 -22 1 -2 1 14 1 0 1 -39 1 37 1 -10 1 -32 1 15 1 53 1 -37 1 3 1 -7 1 -29 1 1 1 14 1 -22 1 0 1 5 1 -5 1 -3 1 10 1 3 1 -12 1 15 1 8 1 -55 1 14 1 -4 1 -1 1 -7 1 -6 1 -5 1 13 1 -36 1 21 1 -34 1 49 1 -6 1 -50 1 7 1 9 1 -22 1 20 1 -22 1 39 1 -29 1 -8 1 -31 1 -20 1 27 1 -48 1 30 1 36 1 14 1 -83 1 7 1 10 1 2 1 4 1 -55 1 11 1 -40 1 26 1 50 1 -56 1 5 1 -5 1 -44 1 22 1 -27 1 13 1 16 1 -26 1 12 1 -39 1 -10 1 12 1 -12 1 -6 1 12 1 -25 1 12 1 -18 1 24 1 -19 1 -17 1 17 1 -7 1 -4 1 -32 1 17 1 -24 1 -35 1 11 1 41 1 -30 1 -32 1 14 1 -30 1 -3 1 -1 1 10 1 3 1 -9 1 -14 1 -19 1 -8 1 8 1 -10 1 -15 1 34 1 -13 1 -9 1 -20" transform="translate(26.5,0) scale(1.0883,0.1)" fill="none" stroke="#F4AE7E" stroke-width="0.7" vector-effect="non-scaling-stroke"/>
<path d="M0 1450l1 -26 1 2 1 43 1 -22 1 19 1 -55 1 31 1 8 1 -8 1 4 1 -2 1 -35 1 18 1 -8 1 -10 1 42 1 -45 1 7 1 -5 1 37 1 -26 1 0 1 18 1 -55 1 18 1 21 1 -4 1 -18 1 -12 1 6 1 -14 1 -11 1 52 1 -2 1 6 1 -22 1 -38 1 3 1 35 1 -8 1 -33 1 21 1 -6 1 -13 1 39 1 -47 1 -8 1 -10 1 28 1 0 1 -6 1 -23 1 -7 1 -6 1 -40 1 -5 1 38 1 7 1 -52 1 25 1 -33 1 -17 1 37 1 2 1 -10 1 14 1 3 1 -14 1 -35 1 14 1 -4 1 1 1 16 1 -59 1 60 1 -21 1 -36 1 27 1 -38 1 -28 1 33 1 -17 1 20 1 -32 1 -5 1 -7 1 -31 1 7 1 -21 1 6 1 37 1 -24 1 -16 1 33 1 -53 1 7 1 -8 1 21 1 -18 1 -14 1 5 1 -11 1 40 1 -66 1 29 1 28 1 -22 1 -13 1 -37 1 16 1 -25 1 15 1 -67 1 12 1 -31 1 50 1 -25 1 23 1 -30 1 -15 1 40 1 -2 1 -4 1 1 1 -20 1 -5 1 4 1 -36 1 -24 1 28 1 -13 1 -20 1 -5 1 4 1 -36 1 -16 1 -6 1 12 1 -47 1 -14 1 36 1 1 1 -33 1 27 1 -22 1 -4 1 10 1 -13 1 20" transform="translate(26.5,0) scale(1.0883,0.1)" fill="none" stroke="#F4AE7E" stroke-width="0.7" vector-effect="non-scaling-stroke"/>
<path d="M0 1457l1 3 1 7 1 22 1 -8 1 -9 1 3 1 3 1 39 1 -18 1 15 1 17 1 4 1 -34 1 -24 1 43 1 -55 1 -12 1 34 1 10 1 -7 1 -27 1 20 1 19 1 -28 1 41 1 -37 1 -35 1 5 1 -11 1 0 1 -8 1 7 1 20 1 -9 1 -10 1 -34 1 -21 1 16 1 27 1 4 1 -14 1 -41 1 7 1 6 1 14 1 -35 1 -1 1 3 1 -6 1 -40 1 24 1 -36 1 -6 1 20 1 -16 1 13 1 15 1 -12 1 6 1 -33 1 -3 1 -17 1 -13 1 77 1 -53 1 26 1 -37 1 8 1 -22 1 -37 1 52 1 -29 1 -6 1 34 1 -47 1 -5 1 7 1 4 1 -87 1 48 1 41 1 -10 1 -18 1 -9 1 -12 1 13 1 -33 1 9 1 17 1 -9 1 -16 1 -35 1 -6 1 13 1 -8 1 -10 1 -45 1 39 1 -15 1 -13 1 28 1 -20 1 -9 1 7 1 -23 1 -21 1 -12 1 21 1 -6 1 -51 1 54 1 -16 1 -22 1 5 1 -13 1 2 1 -15 1 -20 1 22 1 -6 1 0 1 3 1 -11 1 16 1 -39 1 -36 1 -15 1 0 1 44 1 -44 1 30 1 -9 1 -48 1 44 1 -32 1 -2 1 4 1 12 1 -28 1 5 1 -35 1 -19 1 45 1 -9 1 -12 1 10 1 -3 1 -32 1 -8" transform="translate(26.5,0) scale(1.0883,0.1)" fill="none" stroke="#F4AE7E" stroke-width="0.7" vector-effect="non-scaling-stroke"/>
<path d="M0 1433l1 35 1 6 1 -51 1 -9 1 61 1 12 1 -32 1 24 1 -13 1 0 1 -21 1 59 1 10 1 -18 1 -54 1 8 1 35 1 -38 1 -17 1 15 1 4 1 -16 1 -23 1 15 1 -6 1 9 1 9 1 12 1 -24 1 3 1 -2 1 -28 1 -1 1 -11 1 47 1 -34 1 12 1 5 1 0 1 -46 1 -9 1 28 1 14 1 -23 1 1 1 -48 1 49 1 19 1 -31 1 -18 1 -11 1 -20 1 -37 1 37 1 12 1 26 1 -38 1 -28 1 12 1 -30 1 11 1 -31 1 13 1 32 1 -2 1 16 1 6 1 -43 1 -29 1 -34 1 30 1 10 1 19 1 -41 1 -3 1 18 1 -25 1 -7 1 47 1 -45 1 -3 1 8 1 0 1 -49 1 -13 1 -13 1 57 1 3 1 -35 1 32 1 -4 1 19 1 -75 1 -8 1 7 1 5 1 11 1 1 1 -25 1 18 1 -39 1 22 1 12 1 -46 1 14 1 -13 1 13 1 40 1 -50 1 22 1 -48 1 38 1 15 1 -44 1 -20 1 -2 1 25 1 -41 1 35 1 -14 1 -1 1 -12 1 -33 1 18 1 -23 1 -13 1 44 1 -2 1 -21 1 -5 1 -24 1 37 1 -49 1 -19 1 11 1 25 1 -26 1 1 1 -28 1 3 1 -21 1 15 1 -40 1 65 1 -12 1 -40 1 27 1 -44 1 24" transform="translate(26.5,0) scale(1.0883,0.1)" fill="none" stroke="#F4AE7E" stroke-width="0.7" vector-effect="non-scaling-stroke"/>
<path d="M0 1470l1 -9 1 4 1 8 1 -51 1 30 1 31 1 -31 1 -7 1 -11 1 -16 1 53 1 -27 1 -10 1 20 1 0 1 69 1 -32 1 -62 1 57 1 -11 1 -22 1 -15 1 -28 1 62 1 -21 1 -26 1 37 1 -18 1 -49 1 -5 1 13 1 69 1 -35 1 -23 1 5 1 -6 1 -72 1 46 1 27 1 -20 1 3 1 -3 1 -8 1 -24 1 1 1 28 1 -17 1 -22 1 11 1 -35 1 -6 1 33 1 -22 1 -45 1 -9 1 29 1 -15 1 25 1 20 1 -40 1 -9 1 -12 1 4 1 -9 1 11 1 -21 1 -17 1 10 1 -19 1 46 1 -11 1 -54 1 -27 1 21 1 10 1 24 1 -31 1 -22 1 38 1 -36 1 -13 1 -7 1 28 1 -31 1 30 1 -58 1 7 1 26 1 -49 1 -15 1 30 1 -56 1 48 1 -18 1 -28 1 62 1 -56 1 3 1 -5 1 17 1 -29 1 18 1 -1 1 -16 1 8 1 -62 1 40 1 -5 1 -15 1 -15 1 -26 1 -13 1 16 1 3 1 -13 1 -25 1 -9 1 19 1 34 1 -84 1 -4 1 9 1 -3 1 12 1 10 1 -16 1 -12 1 1 1 13 1 -25 1 -31 1 8 1 -13 1 36 1 -34 1 -17 1 14 1 10 1 -48 1 6 1 -30 1 4 1 -26 1 8 1 22 1 -29 1 -10 1 -29 1 10" transform="translate(26.5,0) scale(1.0883,0.1)" fill="none" stroke="#F4AE7E" stroke-width="0.7" vector-effect="non-scaling-stroke"/>
<path d="M0 1359l1 4 1 -3 1 13 1 -1 1 -2 1 11 1 12 1 2 1 -46 1 37 1 17 1 9 1 -5 1 -7 1 27 1 27 1 -41 1 28 1 -32 1 -7 1 -24 1 -19 1 21 1 25 1 20 1 -3 1 -20 1 38 1 -36 1 -10 1 -18 1 14 1 -7 1 15 1 -4 1 26 1 -35 1 -43 1 15 1 -2 1 27 1 -46 1 31 1 -26 1 4 1 22 1 -38 1 8 1 -4 1 -9 1 5 1 6 1 -18 1 10 1 -9 1 10 1 17 1 -14 1 -11 1 -17 1 -33 1 48 1 -27 1 39 1 -17 1 -20 1 29 1 -4 1 -47 1 -15 1 -4 1 10 1 -63 1 27 1 19 1 -51 1 4 1 18 1 -31 1 10 1 -11 1 1 1 24 1 -38 1 2 1 22 1 -2 1 -41 1 12 1 -9 1 -19 1 2 1 32 1 -40 1 -22 1 -8 1 -23 1 17 1 -8 1 -23 1 29 1 -38 1 -15 1 12 1 -23 1 11 1 36 1 -36 1 3 1 -5 1 0 1 -30 1 5 1 24 1 -22 1 -16 1 23 1 -4 1 -6 1 -1 1 -25 1 -26 1 -30 1 1 1 0 1 -6 1 -11 1 30 1 -19 1 -2 1 5 1 4 1 -2 1 -10 1 13 1 -38 1 -4 1 -9 1 -12 1 -17 1 19 1 -10 1 24 1 16 1 -6 1 -81 1 42 1 -41 1 -39" transform="translate(26.5,0) scale(1.0883,0.1)" fill="none" stroke="#F4AE7E" stroke-width="0.7" vector-effect="non-scaling-stroke"/>
<path d="M0 1312l1 10 1 -25 1 32 1 40 1 -13 1 18 1 25 1 8 1 -73 1 40 1 2 1 15 1 -12 1 5 1 6 1 19 1 10 1 -11 1 -25 1 -46 1 8 1 -15 1 24 1 19 1 32 1 -20 1 39 1 -28 1 -50 1 11 1 -14 1 27 1 28 1 -12 1 -7 1 -37 1 -30 1 48 1 5 1 -5 1 1 1 18 1 -25 1 -15 1 -7 1 30 1 -16 1 28 1 -50 1 24 1 -11 1 -2 1 0 1 8 1 15 1 -72 1 7 1 0 1 -42 1 32 1 -6 1 6 1 -26 1 4 1 2 1 10 1 -12 1 -26 1 59 1 -28 1 -5 1 -7 1 30 1 -52 1 15 1 -12 1 -1 1 21 1 -23 1 19 1 -17 1 -22 1 -16 1 -10 1 -2 1 -53 1 17 1 37 1 -5 1 -4 1 -15 1 1 1 2 1 -57 1 14 1 9 1 -3 1 -5 1 -40 1 4 1 -16 1 82 1 -53 1 -35 1 -34 1 28 1 42 1 -41 1 10 1 24 1 -21 1 -46 1 -21 1 0 1 34 1 -70 1 54 1 -11 1 22 1 -57 1 -2 1 -14 1 8 1 2 1 -8 1 37 1 -55 1 -18 1 18 1 -7 1 -13 1 -36 1 10 1 6 1 10 1 19 1 -18 1 -24 1 -5 1 -13 1 -23 1 -5 1 -3 1 -13 1 1 1 0 1 -16 1 37 1 -57" transform="translate(26.5,0) scale(1.0883,0.1)" fill="none" stroke="#F4AE7E" stroke-width="0.7" vector-effect="non-scaling-stroke"/>
<path d="M0 1382l1 -21 1 18 1 28 1 -33 1 10 1 6 1 3 1 -18 1 0 1 13 1 42 1 -11 1 -14 1 -40 1 18 1 15 1 -23 1 21 1 4 1 -3 1 34 1 -43 1 -2 1 14 1 21 1 -23 1 -34 1 33 1 17 1 -27 1 33 1 22 1 -33 1 -6 1 -13 1 1 1 -21 1 4 1 8 1 -3 1 -26 1 -17 1 -6 1 0 1 83 1 -26 1 -25 1 -21 1 31 1 -59 1 4 1 19 1 -14 1 4 1 7 1 -27 1 10 1 20 1 -13 1 -18 1 12 1 -49 1 33 1 -53 1 -1 1 37 1 -15 1 -30 1 18 1 24 1 -24 1 -50 1 57 1 -30 1 0 1 0 1 3 1 -4 1 -33 1 -3 1 30 1 -49 1 44 1 -32 1 -2 1 -26 1 7 1 -15 1 15 1 -20 1 5 1 -41 1 46 1 -30 1 4 1 4 1 14 1 -21 1 32 1 4 1 -47 1 32 1 -58 1 16 1 -10 1 -2 1 -12 1 9 1 1 1 -8 1 -31 1 -15 1 -10 1 13 1 12 1 32 1 -43 1 -21 1 17 1 -24 1 -21 1 15 1 -19 1 7 1 42 1 -18 1 -11 1 -26 1 18 1 -8 1 6 1 -22 1 -13 1 -27 1 -8 1 7 1 -3 1 -2 1 -5 1 -36 1 71 1 -32 1 -24 1 -29 1 35 1 -25 1 -22 1 16 1 32" transform="translate(26.5,0) scale(1.0883,0.1)" fill="none" stroke="#F4AE7E" stroke-width="0.7" vector-effect="non-scaling-stroke"/>
<path d="M0 1454l1 29 1 -47 1 21 1 27 1 2 1 13 1 -27 1 -32 1 26 1 -17 1 35 1 -17 1 -49 1 64 1 -38 1 -11 1 61 1 7 1 -9 1 -45 1 14 1 -2 1 -22 1 5 1 -3 1 9 1 -30 1 29 1 -46 1 27 1 16 1 -28 1 -7 1 47 1 -35 1 20 1 -8 1 -39 1 20 1 -23 1 6 1 -50 1 25 1 27 1 4 1 -6 1 -28 1 -8 1 -27 1 6 1 -1 1 -8 1 4 1 -11 1 -18 1 -8 1 22 1 29 1 -16 1 -31 1 46 1 -33 1 -35 1 6 1 9 1 -64 1 -16 1 25 1 -31 1 -14 1 43 1 -74 1 50 1 -5 1 12 1 -27 1 17 1 -28 1 -37 1 2 1 6 1 -42 1 35 1 -35 1 12 1 -13 1 -4 1 -9 1 -3 1 9 1 -6 1 -29 1 -1 1 17 1 -9 1 -8 1 -21 1 -15 1 -8 1 9 1 -16 1 21 1 34 1 -55 1 14 1 -16 1 -3 1 -44 1 22 1 -29 1 4 1 13 1 7 1 -45 1 -15 1 -17 1 -31 1 21 1 3 1 6 1 -6 1 4 1 10 1 -61 1 61 1 -30 1 -16 1 -1 1 21 1 -12 1 -1 1 11 1 -21 1 -1 1 1 1 -28 1 27 1 -25 1 13 1 -20 1 1 1 -5 1 23 1 2 1 1 1 -23 1 -19 1 -14 1 29" transform="translate(26.5,0) scale(1.0883,0.1)" fill="none" stroke="#B3D4EC" stroke-width="0.7" vector-effect="non-scaling-stroke"/>
<path d="M0 1539l1 -14 1 -8 1 16 1 10 1 -46 1 15 1 22 1 -78 1 21 1 17 1 -17 1 24 1 -43 1 52 1 10 1 -23 1 5 1 -47 1 49 1 -5 1 -24 1 -16 1 -16 1 7 1 -40 1 43 1 -3 1 -18 1 18 1 2 1 2 1 1 1 9 1 -13 1 15 1 -40 1 27 1 -72 1 -17 1 4 1 26 1 13 1 -38 1 7 1 -9 1 21 1 -35 1 25 1 -15 1 31 1 -17 1 -33 1 6 1 -2 1 -30 1 5 1 -30 1 65 1 -48 1 -17 1 35 1 1 1 -51 1 22 1 -7 1 -33 1 5 1 -20 1 18 1 -23 1 -29 1 3 1 50 1 -50 1 -7 1 14 1 -50 1 48 1 -68 1 29 1 -43 1 17 1 28 1 -26 1 -18 1 -14 1 -20 1 31 1 -24 1 -17 1 12 1 13 1 0 1 -40 1 -18 1 26 1 14 1 -55 1 39 1 -29 1 8 1 19 1 -39 1 -8 1 -41 1 -34 1 38 1 -18 1 -9 1 27 1 12 1 -53 1 23 1 -4 1 1 1 -6 1 5 1 -30 1 -23 1 25 1 26 1 -26 1 23 1 -14 1 -47 1 -39 1 27 1 36 1 -31 1 53 1 -19 1 -55 1 -2 1 43 1 17 1 -50 1 2 1 11 1 -19 1 13 1 32 1 -50 1 15 1 11 1 9 1 -31 1 12 1 -27 1 10" transform="translate(26.5,0) scale(1.0883,0.1)" fill="none" stroke="#B3D4EC" stroke-width="0.7" vector-effect="non-scaling-stroke"/>
<path d="M0 1456l1 34 1 -8 1 -40 1 -61 1 74 1 18 1 -23 1 -10 1 21 1 -9 1 33 1 -19 1 -31 1 -25 1 30 1 10 1 -13 1 -19 1 7 1 27 1 -16 1 -20 1 29 1 20 1 -34 1 -9 1 -17 1 11 1 18 1 -1 1 10 1 -1 1 -11 1 -7 1 -38 1 36 1 -17 1 4 1 -45 1 10 1 14 1 -24 1 6 1 11 1 -43 1 2 1 -24 1 2 1 6 1 12 1 27 1 -33 1 0 1 -16 1 7 1 13 1 7 1 -37 1 -27 1 22 1 -13 1 -26 1 34 1 -4 1 12 1 -50 1 1 1 11 1 25 1 -28 1 -38 1 12 1 3 1 -26 1 27 1 -23 1 -22 1 18 1 2 1 -26 1 -4 1 -3 1 -14 1 -9 1 18 1 -4 1 -29 1 -27 1 -17 1 37 1 -33 1 -7 1 10 1 -11 1 -15 1 -28 1 48 1 -25 1 5 1 -1 1 -32 1 -7 1 34 1 -9 1 -17 1 26 1 -44 1 4 1 -8 1 -9 1 -37 1 24 1 12 1 -44 1 31 1 7 1 18 1 -50 1 0 1 -7 1 1 1 5 1 12 1 2 1 -28 1 -4 1 -35 1 38 1 3 1 10 1 -49 1 38 1 -32 1 -26 1 24 1 -12 1 55 1 -22 1 19 1 -34 1 -8 1 13 1 -33 1 1 1 19 1 4 1 21 1 -21 1 -56" transform="translate(26.5,0) scale(1.0883,0.1)" fill="none" stroke="#B3D4EC" stroke-width="0.7" vector-effect="non-scaling-stroke"/>
<path d="M0 1417l1 -23 1 3 1 16 1 38 1 -14 1 -40 1 20 1 -12 1 20 1 35 1 -37 1 -9 1 16 1 1 1 -14 1 14 1 -16 1 6 1 47 1 -33 1 -1 1 3 1 -26 1 10 1 -19 1 -19 1 13 1 38 1 -7 1 -38 1 11 1 14 1 -13 1 -18 1 -2 1 -11 1 26 1 -6 1 -5 1 -8 1 39 1 -30 1 12 1 -56 1 -23 1 -12 1 13 1 28 1 -25 1 15 1 -16 1 25 1 -2 1 -26 1 -38 1 24 1 -44 1 -26 1 74 1 -7 1 14 1 -16 1 1 1 -12 1 -28 1 -11 1 9 1 5 1 -4 1 -4 1 -13 1 5 1 -12 1 32 1 -38 1 -34 1 20 1 37 1 -50 1 17 1 59 1 -44 1 -33 1 -8 1 -23 1 3 1 9 1 44 1 -7 1 -33 1 -23 1 27 1 -4 1 -26 1 40 1 10 1 -36 1 -24 1 6 1 38 1 -40 1 14 1 -40 1 1 1 -9 1 -13 1 18 1 -25 1 -19 1 10 1 -19 1 34 1 -25 1 5 1 25 1 -13 1 4 1 -1 1 -15 1 -27 1 19 1 -5 1 30 1 -26 1 -31 1 -4 1 5 1 21 1 14 1 -16 1 21 1 2 1 -46 1 24 1 -51 1 52 1 -25 1 26 1 -22 1 18 1 -18 1 -2 1 5 1 -19 1 -28 1 36 1 -21 1 10 1 5" transform="translate(26.5,0) scale(1.0883,0.1)" fill="none" stroke="#B3D4EC" stroke-width="0.7" vector-effect="non-scaling-stroke"/>
<path d="M0 1529l1 29 1 -23 1 -9 1 -88 1 46 1 -17 1 5 1 38 1 -9 1 -29 1 22 1 5 1 -6 1 39 1 -4 1 -27 1 -14 1 25 1 -7 1 -9 1 -3 1 -22 1 4 1 -2 1 30 1 -1 1 -31 1 28 1 -34 1 7 1 3 1 -33 1 15 1 5 1 -5 1 -20 1 -67 1 80 1 -24 1 -5 1 -31 1 15 1 46 1 -70 1 26 1 -17 1 18 1 -4 1 -17 1 -38 1 -15 1 22 1 -21 1 9 1 -12 1 -9 1 -16 1 17 1 -9 1 -15 1 -5 1 13 1 -55 1 25 1 -24 1 0 1 -27 1 60 1 -78 1 20 1 23 1 -28 1 -58 1 15 1 36 1 -11 1 -46 1 39 1 -20 1 -8 1 -60 1 29 1 -30 1 28 1 6 1 -41 1 -10 1 42 1 -42 1 -18 1 16 1 -17 1 -11 1 8 1 -1 1 -3 1 -14 1 14 1 -28 1 18 1 -32 1 -11 1 13 1 -41 1 -39 1 -3 1 51 1 -44 1 5 1 3 1 9 1 -14 1 -37 1 2 1 18 1 7 1 -7 1 -26 1 -39 1 47 1 -11 1 1 1 6 1 -26 1 -14 1 35 1 -1 1 -50 1 1 1 -6 1 17 1 0 1 -19 1 12 1 14 1 -21 1 -27 1 31 1 -36 1 -5 1 30 1 -11 1 -3 1 -16 1 -7 1 39 1 12 1 -48 1 5" transform="translate(26.5,0) scale(1.0883,0.1)" fill="none" stroke="#B3D4EC" stroke-width="0.7" vector-effect="non-scaling-stroke"/>
<path d="M0 1377l1 51 1 -32 1 32 1 -23 1 -18 1 52 1 -21 1 9 1 3 1 -6 1 22 1 5 1 -33 1 -14 1 25 1 26 1 -72 1 3 1 16 1 34 1 0 1 -19 1 19 1 -49 1 15 1 -3 1 28 1 5 1 -3 1 -25 1 3 1 -1 1 -14 1 -5 1 -29 1 24 1 23 1 -17 1 -38 1 29 1 -6 1 4 1 -17 1 -5 1 19 1 -9 1 -30 1 -15 1 -3 1 -3 1 22 1 4 1 -28 1 33 1 -17 1 30 1 -25 1 -3 1 6 1 -38 1 13 1 -7 1 -8 1 4 1 -47 1 22 1 -11 1 24 1 -13 1 -11 1 -7 1 0 1 -19 1 -39 1 20 1 3 1 2 1 -64 1 -3 1 17 1 -1 1 26 1 -8 1 -13 1 -6 1 15 1 0 1 -31 1 -8 1 44 1 -36 1 -39 1 25 1 -14 1 28 1 -43 1 25 1 7 1 -21 1 -65 1 39 1 22 1 -32 1 -8 1 -35 1 48 1 18 1 -24 1 -25 1 -10 1 -21 1 45 1 -3 1 -18 1 -28 1 -4 1 16 1 14 1 -37 1 -15 1 -44 1 45 1 -26 1 49 1 -1 1 1 1 -7 1 5 1 -7 1 -14 1 2 1 -24 1 7 1 -1 1 -33 1 13 1 6 1 5 1 -2 1 -12 1 24 1 -35 1 -20 1 2 1 35 1 32 1 -15 1 -17 1 -20" transform="translate(26.5,0) scale(1.0883,0.1)" fill="none" stroke="#B3D4EC" stroke-width="0.7" vector-effect="non-scaling-stroke"/>
<path d="M0 1405l1 38 1 -24 1 -3 1 46 1 -19 1 13 1 12 1 22 1 2 1 -42 1 5 1 -13 1 24 1 -9 1 -4 1 24 1 10 1 -42 1 -8 1 20 1 -13 1 -21 1 -32 1 46 1 -19 1 -39 1 29 1 -22 1 77 1 -64 1 10 1 40 1 -46 1 -21 1 -12 1 -6 1 22 1 19 1 -3 1 -12 1 -15 1 11 1 -10 1 -24 1 2 1 -43 1 -13 1 62 1 4 1 13 1 -2 1 -39 1 17 1 4 1 -19 1 -31 1 12 1 0 1 -30 1 -3 1 -4 1 -14 1 33 1 -18 1 9 1 -35 1 -10 1 34 1 -44 1 37 1 -41 1 4 1 21 1 9 1 -18 1 -15 1 7 1 -27 1 29 1 -23 1 -10 1 33 1 -39 1 18 1 28 1 -34 1 -21 1 -34 1 17 1 -40 1 -14 1 0 1 -7 1 15 1 20 1 -22 1 -16 1 8 1 9 1 28 1 -41 1 -9 1 30 1 -23 1 -23 1 8 1 -19 1 -7 1 42 1 -15 1 -23 1 -18 1 -19 1 62 1 -22 1 -25 1 -21 1 -18 1 48 1 0 1 13 1 -38 1 32 1 -45 1 -10 1 5 1 55 1 -16 1 -37 1 34 1 -17 1 -9 1 -25 1 4 1 0 1 14 1 -6 1 0 1 -19 1 12 1 -23 1 50 1 -46 1 14 1 -24 1 14 1 -12 1 -18 1 38" transform="translate(26.5,0) scale(1.0883,0.1)" fill="none" stroke="#B3D4EC" stroke-width="0.7" vector-effect="non-scaling-stroke"/>
<path d="M0 1427l1 39 1 -18 1 -3 1 11 1 -8 1 26 1 -53 1 4 1 -29 1 50 1 21 1 -25 1 34 1 -30 1 10 1 -6 1 -14 1 -1 1 -39 1 13 1 43 1 -36 1 37 1 -20 1 20 1 -4 1 -48 1 24 1 7 1 -2 1 -7 1 -41 1 41 1 11 1 -37 1 33 1 -19 1 -39 1 9 1 11 1 6 1 3 1 -8 1 -21 1 -32 1 -7 1 28 1 9 1 -30 1 41 1 -20 1 -11 1 10 1 -3 1 -32 1 30 1 -10 1 -12 1 -22 1 21 1 -49 1 12 1 -1 1 -1 1 3 1 4 1 -47 1 2 1 5 1 -26 1 25 1 -24 1 3 1 16 1 -33 1 34 1 -38 1 18 1 -26 1 -31 1 4 1 23 1 -8 1 1 1 14 1 -1 1 -27 1 -22 1 39 1 -27 1 -24 1 -2 1 20 1 -40 1 32 1 -32 1 -33 1 64 1 -33 1 -13 1 -5 1 16 1 -8 1 18 1 -29 1 -20 1 16 1 8 1 -10 1 -15 1 -9 1 -1 1 -7 1 24 1 35 1 -62 1 -38 1 46 1 -4 1 -23 1 -23 1 -3 1 -16 1 22 1 -6 1 -3 1 15 1 -32 1 1 1 -8 1 24 1 -24 1 35 1 -21 1 55 1 -18 1 -43 1 11 1 -11 1 33 1 -57 1 2 1 13 1 -6 1 -1 1 -24 1 18 1 40 1 -14" transform="translate(26.5,0) scale(1.0883,0.1)" fill="none" stroke="#B3D4EC" stroke-width="0.7" vector-effect="non-scaling-stroke"/>
<path d="M0 1413l1 -16 1 7 1 -7 1 45 1 0 1 -32 1 10 1 -9 1 -35 1 37 1 0 1 16 1 7 1 -10 1 26 1 21 1 -66 1 10 1 -23 1 13 1 3 1 -11 1 -5 1 37 1 -40 1 32 1 -16 1 -55 1 34 1 -25 1 33 1 -11 1 6 1 -7 1 22 1 6 1 -26 1 30 1 -8 1 -36 1 14 1 7 1 5 1 -28 1 1 1 -13 1 0 1 -45 1 32 1 39 1 -35 1 -10 1 -9 1 31 1 -50 1 6 1 -1 1 29 1 -37 1 -3 1 -33 1 24 1 20 1 -27 1 10 1 -29 1 18 1 -19 1 -7 1 -11 1 3 1 2 1 -19 1 1 1 -19 1 -1 1 36 1 -38 1 -46 1 4 1 -9 1 -4 1 14 1 18 1 -43 1 -23 1 0 1 -2 1 -4 1 4 1 -9 1 -2 1 -11 1 19 1 -4 1 -30 1 5 1 41 1 -44 1 33 1 -80 1 -4 1 -3 1 22 1 13 1 -18 1 -14 1 9 1 -20 1 -20 1 -8 1 28 1 29 1 -39 1 -1 1 -26 1 -36 1 -13 1 21 1 -13 1 -18 1 25 1 0 1 -14 1 11 1 11 1 6 1 -16 1 6 1 -29 1 12 1 -35 1 -7 1 46 1 -35 1 18 1 -32 1 6 1 12 1 -12 1 20 1 -13 1 -6 1 8 1 -10 1 25 1 -25 1 28 1 -29" transform="translate(26.5,0) scale(1.0883,0.1)" fill="none" stroke="#B3D4EC" stroke-width="0.7" vector-effect="non-scaling-stroke"/>
<path d="M0 1409l1 -67 1 47 1 8 1 22 1 -37 1 29 1 -20 1 33 1 -14 1 10 1 -24 1 18 1 18 1 -22 1 27 1 3 1 -34 1 42 1 -41 1 11 1 13 1 -20 1 -15 1 19 1 -4 1 -22 1 -6 1 13 1 17 1 7 1 -6 1 -30 1 -8 1 1 1 -23 1 25 1 8 1 0 1 -48 1 63 1 -30 1 -15 1 1 1 -47 1 7 1 7 1 34 1 -21 1 9 1 -8 1 -8 1 8 1 -22 1 -30 1 1 1 14 1 44 1 -50 1 -17 1 17 1 8 1 -23 1 18 1 -30 1 25 1 1 1 -22 1 20 1 -27 1 -23 1 27 1 -40 1 14 1 -22 1 -3 1 9 1 0 1 20 1 -18 1 -7 1 -54 1 -7 1 42 1 -35 1 -2 1 8 1 -18 1 -15 1 19 1 -4 1 -13 1 15 1 -22 1 -4 1 7 1 2 1 -26 1 -22 1 1 1 21 1 -29 1 0 1 -12 1 -18 1 33 1 -8 1 4 1 3 1 -59 1 1 1 51 1 -31 1 8 1 -34 1 8 1 5 1 -7 1 -9 1 1 1 4 1 -3 1 -16 1 26 1 -17 1 -5 1 4 1 -25 1 31 1 -11 1 5 1 -28 1 10 1 -9 1 -11 1 35 1 -32 1 13 1 -7 1 -6 1 -21 1 -6 1 -23 1 24 1 19 1 6 1 -22 1 -26 1 17 1 22" transform="translate(26.5,0) scale(1.0883,0.1)" fill="none" stroke="#B3D4EC" stroke-width="0.7" vector-effect="non-scaling-stroke"/>
<path d="M0 1411l1 17 1 42 1 -26 1 -38 1 6 1 51 1 -29 1 29 1 -67 1 16 1 33 1 -30 1 22 1 -20 1 4 1 25 1 -30 1 31 1 -45 1 11 1 24 1 22 1 -62 1 -17 1 48 1 -45 1 15 1 10 1 -1 1 2 1 -35 1 14 1 41 1 -67 1 2 1 37 1 -5 1 7 1 -19 1 -14 1 -4 1 13 1 6 1 -34 1 7 1 -48 1 44 1 -21 1 6 1 15 1 -41 1 10 1 20 1 -8 1 -32 1 33 1 -46 1 -2 1 15 1 -31 1 -20 1 14 1 9 1 -34 1 -7 1 43 1 -5 1 -4 1 -1 1 18 1 -46 1 -1 1 -4 1 -31 1 27 1 -6 1 -12 1 7 1 -8 1 -23 1 5 1 -29 1 30 1 -14 1 25 1 -22 1 2 1 -44 1 -4 1 0 1 -30 1 -5 1 10 1 28 1 21 1 -26 1 -4 1 1 1 -10 1 22 1 -60 1 32 1 -3 1 -29 1 33 1 -45 1 -16 1 17 1 18 1 -9 1 22 1 -61 1 6 1 15 1 5 1 -30 1 -31 1 45 1 -3 1 21 1 -45 1 -6 1 -46 1 33 1 14 1 7 1 -31 1 39 1 -38 1 -3 1 13 1 10 1 -38 1 -29 1 37 1 -10 1 -29 1 38 1 3 1 19 1 -17 1 -7 1 4 1 7 1 18 1 0 1 -8 1 -35 1 12" transform="translate(26.5,0) scale(1.0883,0.1)" fill="none" stroke="#B3D4EC" stroke-width="0.7" vector-effect="non-scaling-stroke"/>
<path d="M0 1384l1 25 1 7 1 -23 1 0 1 26 1 -14 1 3 1 -22 1 34 1 -25 1 2 1 31 1 -33 1 -7 1 43 1 -54 1 47 1 9 1 -10 1 -26 1 -4 1 11 1 -27 1 11 1 -18 1 -36 1 42 1 68 1 -25 1 5 1 -25 1 -8 1 22 1 4 1 -19 1 -9 1 45 1 -62 1 -1 1 -1 1 -9 1 22 1 -15 1 -30 1 -12 1 7 1 15 1 13 1 -42 1 1 1 17 1 39 1 -18 1 14 1 -64 1 -1 1 17 1 -7 1 -65 1 6 1 53 1 -13 1 17 1 12 1 -38 1 -61 1 -3 1 28 1 14 1 -10 1 -24 1 43 1 18 1 -75 1 8 1 -28 1 17 1 -23 1 34 1 -16 1 -30 1 0 1 28 1 -23 1 23 1 21 1 -38 1 -32 1 -1 1 41 1 -35 1 -9 1 19 1 46 1 -63 1 -19 1 1 1 44 1 6 1 -54 1 -14 1 0 1 14 1 -12 1 14 1 -3 1 8 1 -23 1 5 1 -30 1 -6 1 29 1 -50 1 46 1 -22 1 -21 1 -13 1 68 1 -49 1 -21 1 -13 1 72 1 -13 1 -17 1 0 1 -39 1 29 1 -33 1 3 1 43 1 1 1 -12 1 -16 1 -26 1 17 1 -20 1 47 1 44 1 -45 1 -32 1 7 1 16 1 -27 1 -41 1 31 1 22 1 9 1 -58 1 25" transform="translate(26.5,0) scale(1.0883,0.1)" fill="none" stroke="#B3D4EC" stroke-width="0.7" vector-effect="non-scaling-stroke"/>
<path d="M0 1346l1 39 1 -27 1 -4 1 8 1 -8 1 33 1 0 1 11 1 -23 1 24 1 -15 1 28 1 -12 1 2 1 -4 1 -7 1 5 1 2 1 40 1 -56 1 20 1 -3 1 11 1 -36 1 29 1 -22 1 -22 1 -18 1 4 1 12 1 41 1 -42 1 -12 1 3 1 0 1 14 1 15 1 -31 1 -15 1 43 1 -31 1 3 1 -14 1 7 1 -18 1 -6 1 -1 1 46 1 -35 1 3 1 24 1 -34 1 32 1 -41 1 -32 1 35 1 -23 1 1 1 -6 1 38 1 -33 1 -2 1 -18 1 6 1 -24 1 6 1 -10 1 -22 1 15 1 -16 1 7 1 -8 1 16 1 -26 1 -21 1 17 1 -17 1 -1 1 28 1 -26 1 -32 1 25 1 31 1 -36 1 3 1 -56 1 20 1 2 1 10 1 -19 1 7 1 6 1 -19 1 6 1 -46 1 35 1 -16 1 4 1 13 1 -63 1 56 1 -61 1 39 1 -23 1 -56 1 72 1 3 1 -58 1 3 1 13 1 -10 1 14 1 -21 1 -38 1 25 1 -6 1 -26 1 -27 1 43 1 -8 1 13 1 4 1 -7 1 1 1 21 1 10 1 -26 1 -27 1 -33 1 25 1 -2 1 -20 1 -9 1 14 1 1 1 -41 1 32 1 12 1 26 1 -36 1 2 1 -45 1 32 1 -15 1 -8 1 -18 1 56 1 -44 1 19" transform="translate(26.5,0) scale(1.0883,0.1)" fill="none" stroke="#B3D4EC" stroke-width="0.7" vector-effect="non-scaling-stroke"/>
<path d="M0 1441l1 3 1 43 1 -45 1 -4 1 21 1 -12 1 -52 1 24 1 24 1 -37 1 41 1 -1 1 8 1 -5 1 -22 1 -4 1 25 1 -6 1 -7 1 7 1 -6 1 11 1 2 1 -17 1 16 1 -27 1 3 1 15 1 -4 1 -6 1 -10 1 -11 1 2 1 12 1 -47 1 -5 1 13 1 -16 1 5 1 12 1 -6 1 -58 1 14 1 1 1 27 1 -15 1 -42 1 23 1 -10 1 -9 1 7 1 -21 1 19 1 -3 1 19 1 -65 1 26 1 9 1 -28 1 28 1 -5 1 11 1 -16 1 0 1 -22 1 4 1 8 1 -7 1 -9 1 2 1 -33 1 -7 1 5 1 26 1 -31 1 25 1 -26 1 -8 1 7 1 4 1 -5 1 -61 1 26 1 4 1 -27 1 1 1 -17 1 39 1 6 1 -92 1 38 1 14 1 -8 1 -23 1 35 1 -23 1 -3 1 -18 1 1 1 13 1 7 1 32 1 -63 1 28 1 -16 1 -50 1 25 1 -16 1 10 1 -19 1 6 1 10 1 -37 1 19 1 26 1 -15 1 -25 1 24 1 -34 1 -11 1 -34 1 45 1 -15 1 41 1 -15 1 -17 1 -13 1 4 1 0 1 9 1 -2 1 -17 1 -12 1 -7 1 -10 1 -9 1 58 1 -10 1 -11 1 5 1 -34 1 -5 1 16 1 -1 1 -24 1 25 1 6 1 -23 1 1" transform="translate(26.5,0) scale(1.0883,0.1)" fill="none" stroke="#B3D4EC" stroke-width="0.7" vector-effect="non-scaling-stroke"/>
<path d="M0 1390l1 23 1 17 1 -13 1 51 1 -46 1 -25 1 12 1 10 1 -23 1 16 1 -15 1 -30 1 22 1 2 1 9 1 7 1 2 1 4 1 -20 1 48 1 -14 1 -23 1 22 1 -9 1 8 1 -22 1 -17 1 -18 1 13 1 27 1 -14 1 -12 1 -22 1 64 1 -34 1 33 1 -44 1 -10 1 -6 1 -12 1 4 1 20 1 -16 1 -25 1 17 1 0 1 22 1 -44 1 18 1 8 1 -6 1 3 1 -14 1 -38 1 -4 1 -17 1 -9 1 43 1 -18 1 -30 1 -27 1 64 1 14 1 -38 1 0 1 9 1 -29 1 10 1 29 1 -41 1 -20 1 -21 1 -17 1 6 1 6 1 6 1 17 1 -24 1 -41 1 -9 1 -36 1 30 1 37 1 -46 1 -22 1 33 1 15 1 -36 1 -26 1 25 1 -13 1 1 1 5 1 -1 1 -33 1 -4 1 1 1 35 1 -82 1 27 1 -13 1 13 1 -31 1 25 1 -28 1 -7 1 -28 1 29 1 -4 1 -13 1 -55 1 53 1 -23 1 9 1 -21 1 -16 1 3 1 -5 1 -5 1 14 1 -7 1 25 1 -22 1 0 1 -13 1 -27 1 -3 1 -5 1 -17 1 64 1 -40 1 -5 1 -2 1 22 1 -32 1 -24 1 -6 1 19 1 -10 1 -11 1 -22 1 4 1 22 1 7 1 0 1 -3 1 14 1 -22 1 22" transform="translate(26.5,0) scale(1.0883,0.1)" fill="none" stroke="#B3D4EC" stroke-width="0.7" vector-effect="non-scaling-stroke"/>
<path d="M0 1419l1 -2 1 39 1 -46 1 4 1 4 1 -10 1 3 1 20 1 -49 1 36 1 -18 1 -23 1 43 1 -1 1 17 1 -33 1 18 1 21 1 -44 1 -6 1 35 1 -33 1 9 1 -49 1 4 1 46 1 7 1 13 1 -18 1 -5 1 -17 1 6 1 32 1 -6 1 -49 1 -11 1 21 1 4 1 0 1 -6 1 30 1 -45 1 15 1 -14 1 48 1 -44 1 -38 1 58 1 -61 1 0 1 22 1 21 1 -52 1 0 1 -10 1 12 1 11 1 -33 1 24 1 -33 1 39 1 -6 1 6 1 -57 1 42 1 -2 1 -40 1 -6 1 -45 1 -9 1 20 1 1 1 49 1 -7 1 -16 1 -11 1 18 1 -6 1 -6 1 -44 1 -3 1 12 1 -1 1 -14 1 13 1 -7 1 24 1 -44 1 -22 1 3 1 -4 1 -1 1 -38 1 24 1 36 1 2 1 -37 1 -21 1 -3 1 -5 1 10 1 34 1 -8 1 18 1 -26 1 10 1 -29 1 -6 1 33 1 -48 1 -16 1 36 1 -22 1 -21 1 13 1 -22 1 6 1 -19 1 11 1 9 1 -13 1 -12 1 6 1 15 1 10 1 -8 1 1 1 -17 1 -6 1 2 1 -2 1 -6 1 -31 1 -3 1 34 1 -11 1 11 1 -2 1 1 1 8 1 16 1 27 1 -47 1 -35 1 32 1 -20 1 12 1 -11 1 19" transform="translate(26.5,0) scale(1.0883,0.1)" fill="none" stroke="#B3D4EC" stroke-width="0.7" vector-effect="non-scaling-stroke"/>
<path d="M0 1476l1 -36 1 -3 1 48 1 -49 1 0 1 -4 1 -4 1 15 1 18 1 -7 1 -3 1 -55 1 -9 1 45 1 11 1 -12 1 -9 1 22 1 12 1 -57 1 -1 1 53 1 19 1 -15 1 -27 1 -17 1 12 1 28 1 -31 1 -19 1 5 1 10 1 -21 1 5 1 21 1 -21 1 20 1 -43 1 -5 1 27 1 -20 1 -30 1 59 1 -26 1 -48 1 49 1 -16 1 18 1 -25 1 37 1 -7 1 -28 1 -25 1 -16 1 -9 1 -20 1 0 1 -4 1 31 1 -11 1 -76 1 -7 1 25 1 6 1 -6 1 24 1 -45 1 32 1 1 1 -51 1 71 1 -33 1 31 1 -17 1 -19 1 -4 1 -15 1 12 1 -13 1 15 1 -15 1 13 1 -42 1 26 1 -38 1 9 1 -2 1 -35 1 9 1 42 1 -41 1 56 1 -53 1 -4 1 16 1 -28 1 -4 1 -52 1 32 1 -43 1 -3 1 38 1 13 1 -44 1 15 1 -4 1 5 1 19 1 -15 1 6 1 11 1 -25 1 -54 1 -14 1 28 1 3 1 -10 1 -23 1 13 1 19 1 2 1 -34 1 -43 1 54 1 45 1 -49 1 2 1 -5 1 -27 1 15 1 33 1 22 1 -35 1 11 1 -28 1 23 1 -13 1 18 1 -19 1 -4 1 -25 1 -24 1 25 1 21 1 -54 1 17 1 -1 1 -1 1 -18" transform="translate(26.5,0) scale(1.0883,0.1)" fill="none" stroke="#B3D4EC" stroke-width="0.7" vector-effect="non-scaling-stroke"/>
<path d="M0 1378l1 32 1 6 1 -7 1 -6 1 1 1 -5 1 6 1 12 1 29 1 -43 1 -7 1 29 1 -20 1 -4 1 6 1 42 1 -1 1 -14 1 -51 1 36 1 0 1 15 1 -9 1 -22 1 44 1 28 1 -67 1 -8 1 10 1 -32 1 -11 1 61 1 -25 1 -36 1 25 1 -2 1 -29 1 15 1 23 1 -6 1 9 1 -39 1 35 1 -50 1 39 1 -27 1 22 1 -20 1 -37 1 -16 1 -11 1 23 1 1 1 -5 1 -13 1 15 1 -30 1 5 1 -19 1 6 1 -5 1 25 1 -3 1 13 1 -21 1 -13 1 -29 1 32 1 -91 1 41 1 -22 1 -5 1 70 1 -32 1 -50 1 64 1 -53 1 16 1 -9 1 -21 1 34 1 -38 1 2 1 -1 1 -35 1 -74 1 41 1 4 1 10 1 13 1 -20 1 -37 1 13 1 -15 1 16 1 -58 1 68 1 -31 1 -12 1 -1 1 25 1 5 1 -22 1 -16 1 19 1 -1 1 -38 1 -25 1 24 1 6 1 0 1 -72 1 18 1 14 1 -21 1 -37 1 10 1 56 1 -15 1 0 1 -4 1 15 1 -15 1 7 1 -30 1 -5 1 28 1 12 1 -25 1 -33 1 -9 1 8 1 70 1 -41 1 -9 1 -12 1 13 1 -14 1 0 1 -74 1 20 1 24 1 3 1 1 1 -6 1 9 1 -5 1 -25 1 -4" transform="translate(26.5,0) scale(1.0883,0.1)" fill="none" stroke="#B3D4EC" stroke-width="0.7" vector-effect="non-scaling-stroke"/>
<path d="M0 1362l1 28 1 26 1 -13 1 -16 1 -13 1 -17 1 31 1 15 1 -28 1 -16 1 31 1 -8 1 -24 1 16 1 13 1 47 1 -58 1 -3 1 10 1 15 1 21 1 -18 1 -6 1 -29 1 41 1 -46 1 16 1 -21 1 39 1 -18 1 -25 1 15 1 37 1 -14 1 -25 1 33 1 9 1 -35 1 14 1 -33 1 28 1 21 1 -18 1 -56 1 31 1 -11 1 -10 1 20 1 -40 1 6 1 -7 1 42 1 11 1 23 1 -51 1 -16 1 -28 1 -27 1 26 1 6 1 -16 1 -30 1 37 1 -23 1 8 1 1 1 -27 1 22 1 9 1 -37 1 -1 1 2 1 -6 1 -18 1 9 1 -25 1 -3 1 -28 1 -7 1 3 1 20 1 -4 1 11 1 -74 1 40 1 -8 1 -23 1 48 1 -1 1 -13 1 6 1 4 1 -18 1 -47 1 -5 1 9 1 0 1 33 1 -43 1 -11 1 26 1 -22 1 -2 1 4 1 8 1 -7 1 1 1 -33 1 -10 1 -5 1 6 1 4 1 -53 1 64 1 -48 1 1 1 4 1 11 1 -5 1 17 1 7 1 -27 1 23 1 -49 1 -22 1 88 1 -15 1 -46 1 -14 1 -4 1 -9 1 -11 1 -8 1 -23 1 29 1 -10 1 48 1 -18 1 17 1 -52 1 -37 1 27 1 46 1 -12 1 -8 1 -6 1 -21 1 -4 1 75" transform="translate(26.5,0) scale(1.0883,0.1)" fill="none" stroke="#B3D4EC" stroke-width="0.7" vector-effect="non-scaling-stroke"/>
<path d="M0 1457l1 -37 1 25 1 32 1 10 1 -27 1 -25 1 -20 1 30 1 15 1 -40 1 32 1 -32 1 17 1 4 1 11 1 -9 1 12 1 8 1 -10 1 6 1 -19 1 -3 1 6 1 -2 1 -1 1 -44 1 22 1 18 1 -3 1 -24 1 10 1 -1 1 0 1 -11 1 -10 1 -7 1 40 1 -3 1 30 1 -66 1 -30 1 -15 1 17 1 -19 1 17 1 4 1 28 1 -10 1 -11 1 -38 1 -30 1 33 1 -11 1 -5 1 18 1 22 1 -17 1 6 1 -26 1 -14 1 -7 1 -6 1 -20 1 20 1 -38 1 39 1 -29 1 -20 1 14 1 18 1 -47 1 9 1 -32 1 -14 1 8 1 -3 1 -26 1 1 1 24 1 -21 1 -19 1 -2 1 -5 1 1 1 -4 1 11 1 10 1 -56 1 17 1 -18 1 27 1 -31 1 7 1 -82 1 56 1 11 1 -41 1 -20 1 58 1 -36 1 -28 1 32 1 -34 1 11 1 10 1 -14 1 -6 1 15 1 -76 1 30 1 12 1 -33 1 6 1 -31 1 21 1 -10 1 0 1 -5 1 4 1 -4 1 -42 1 35 1 5 1 -5 1 -24 1 -6 1 -15 1 41 1 -24 1 0 1 1 1 -12 1 40 1 -37 1 -11 1 29 1 -21 1 -43 1 27 1 -14 1 12 1 15 1 5 1 -10 1 -40 1 -2 1 30 1 -27 1 15" transform="translate(26.5,0) scale(1.0883,0.1)" fill="none" stroke="#B3D4EC" stroke-width="0.7" vector-effect="non-scaling-stroke"/>
<path d="M0 1423l1 22 1 -51 1 52 1 -33 1 35 1 -20 1 -2 1 6 1 39 1 -32 1 -11 1 16 1 -13 1 -27 1 28 1 -12 1 25 1 -25 1 -13 1 -44 1 19 1 15 1 -17 1 44 1 -32 1 24 1 7 1 -36 1 6 1 -23 1 50 1 -23 1 8 1 -5 1 31 1 -53 1 -2 1 22 1 12 1 -9 1 -52 1 13 1 6 1 -17 1 2 1 -6 1 -15 1 1 1 -13 1 37 1 -18 1 1 1 -12 1 -3 1 9 1 -6 1 -32 1 20 1 17 1 -35 1 -22 1 17 1 -5 1 17 1 -11 1 -33 1 -6 1 10 1 10 1 29 1 -34 1 -15 1 -19 1 -28 1 24 1 -7 1 39 1 -39 1 -6 1 -14 1 8 1 5 1 -21 1 36 1 -18 1 -16 1 32 1 16 1 -30 1 -4 1 -13 1 -6 1 27 1 -17 1 -23 1 23 1 4 1 18 1 -36 1 -36 1 57 1 -28 1 -12 1 26 1 3 1 14 1 -3 1 -21 1 -17 1 5 1 -14 1 9 1 30 1 -46 1 -8 1 36 1 -41 1 14 1 11 1 -34 1 82 1 5 1 -46 1 5 1 17 1 -47 1 8 1 39 1 -2 1 -31 1 -29 1 70 1 -25 1 5 1 30 1 -23 1 23 1 -15 1 -49 1 9 1 -3 1 3 1 7 1 -11 1 42 1 -4 1 -26 1 26 1 2" transform="translate(26.5,0) scale(1.0883,0.1)" fill="none" stroke="#8E92C8" stroke-width="0.7" vector-effect="non-scaling-stroke"/>
<path d="M0 1366l1 12 1 -24 1 2 1 22 1 -18 1 -3 1 11 1 -55 1 18 1 17 1 2 1 -39 1 28 1 46 1 -7 1 3 1 14 1 -12 1 -4 1 5 1 10 1 -25 1 43 1 -39 1 5 1 -5 1 53 1 -70 1 49 1 -4 1 -34 1 15 1 -1 1 36 1 -28 1 -24 1 -18 1 13 1 -8 1 -9 1 19 1 5 1 -56 1 39 1 -33 1 12 1 -27 1 34 1 -16 1 -3 1 9 1 -11 1 18 1 -12 1 2 1 -26 1 8 1 28 1 -16 1 -12 1 11 1 -45 1 1 1 -12 1 26 1 -4 1 -34 1 37 1 -30 1 -6 1 6 1 -14 1 17 1 -25 1 19 1 3 1 -58 1 24 1 33 1 -58 1 16 1 60 1 -58 1 -41 1 -3 1 -32 1 26 1 -10 1 28 1 -18 1 -37 1 8 1 7 1 45 1 -22 1 10 1 -42 1 17 1 -20 1 21 1 -56 1 45 1 -15 1 -59 1 32 1 31 1 -23 1 -17 1 -3 1 57 1 -29 1 39 1 -74 1 16 1 15 1 -20 1 -3 1 34 1 -50 1 24 1 39 1 -55 1 -20 1 0 1 14 1 35 1 -28 1 -28 1 14 1 -13 1 47 1 -24 1 -5 1 50 1 18 1 -13 1 -20 1 -14 1 11 1 0 1 2 1 -3 1 -11 1 -1 1 13 1 -3 1 15 1 -21 1 22" transform="translate(26.5,0) scale(1.0883,0.1)" fill="none" stroke="#8E92C8" stroke-width="0.7" vector-effect="non-scaling-stroke"/>
<path d="M0 1412l1 22 1 0 1 -10 1 2 1 15 1 17 1 -20 1 -7 1 -11 1 -17 1 28 1 44 1 -26 1 28 1 -4 1 -51 1 -6 1 23 1 6 1 -11 1 31 1 -39 1 5 1 -47 1 46 1 -31 1 24 1 -30 1 32 1 -29 1 14 1 11 1 -14 1 -19 1 -6 1 -30 1 6 1 72 1 -28 1 23 1 -30 1 -33 1 30 1 3 1 -30 1 -3 1 -43 1 11 1 -3 1 -30 1 36 1 -2 1 17 1 -24 1 -26 1 -18 1 22 1 18 1 4 1 12 1 -32 1 -38 1 63 1 10 1 -77 1 37 1 -35 1 19 1 -41 1 -17 1 4 1 -16 1 7 1 -12 1 -35 1 1 1 34 1 10 1 -13 1 -7 1 -12 1 7 1 -28 1 1 1 -9 1 1 1 -15 1 30 1 -52 1 7 1 -3 1 -7 1 -14 1 0 1 8 1 9 1 32 1 -33 1 0 1 -3 1 -60 1 70 1 -21 1 -33 1 -6 1 -10 1 50 1 6 1 -33 1 9 1 -42 1 18 1 5 1 -5 1 13 1 -5 1 15 1 -10 1 6 1 -15 1 31 1 10 1 -38 1 -7 1 23 1 -9 1 15 1 -62 1 59 1 -52 1 38 1 -14 1 10 1 6 1 -26 1 -4 1 22 1 21 1 -57 1 -2 1 27 1 18 1 -7 1 4 1 -22 1 40 1 -8 1 15 1 -39" transform="translate(26.5,0) scale(1.0883,0.1)" fill="none" stroke="#8E92C8" stroke-width="0.7" vector-effect="non-scaling-stroke"/>
<path d="M0 1406l1 -19 1 32 1 24 1 -33 1 2 1 17 1 -30 1 18 1 49 1 -31 1 0 1 -41 1 28 1 12 1 -11 1 1 1 34 1 -22 1 1 1 -37 1 -34 1 64 1 15 1 0 1 -5 1 -3 1 -18 1 -29 1 40 1 16 1 9 1 -62 1 -26 1 51 1 16 1 -36 1 -33 1 -11 1 12 1 -9 1 2 1 17 1 -50 1 23 1 28 1 -8 1 18 1 -30 1 -35 1 37 1 -43 1 -36 1 23 1 37 1 2 1 -13 1 13 1 1 1 -24 1 -11 1 -23 1 29 1 -63 1 -5 1 -3 1 28 1 -47 1 26 1 -43 1 -1 1 37 1 -2 1 -55 1 -2 1 20 1 -5 1 -6 1 15 1 -11 1 2 1 -7 1 -25 1 19 1 -34 1 0 1 -18 1 -11 1 -14 1 6 1 -3 1 15 1 -14 1 24 1 -9 1 -27 1 6 1 -11 1 27 1 -47 1 26 1 -15 1 2 1 -22 1 20 1 17 1 23 1 -29 1 9 1 -36 1 -31 1 67 1 -1 1 -35 1 -32 1 10 1 1 1 -4 1 -3 1 -25 1 14 1 44 1 -4 1 -16 1 17 1 -7 1 3 1 5 1 -28 1 14 1 20 1 -2 1 -16 1 -49 1 25 1 -18 1 16 1 62 1 -35 1 17 1 16 1 0 1 -61 1 55 1 -4 1 -38 1 0 1 52 1 -18 1 4" transform="translate(26.5,0) scale(1.0883,0.1)" fill="none" stroke="#8E92C8" stroke-width="0.7" vector-effect="non-scaling-stroke"/>
<path d="M0 1394l1 1 1 -36 1 62 1 -12 1 -20 1 33 1 -3 1 15 1 -26 1 10 1 -27 1 -13 1 17 1 15 1 -9 1 1 1 28 1 -42 1 6 1 -11 1 42 1 -36 1 -38 1 19 1 49 1 -18 1 -5 1 -8 1 6 1 -16 1 15 1 -13 1 15 1 -14 1 -26 1 23 1 -20 1 25 1 -5 1 -7 1 -36 1 31 1 -36 1 45 1 -17 1 -30 1 -7 1 33 1 12 1 -44 1 30 1 -33 1 12 1 -10 1 -55 1 -3 1 13 1 49 1 -25 1 -3 1 -1 1 -33 1 53 1 -30 1 -8 1 14 1 -52 1 47 1 -17 1 -8 1 44 1 -6 1 -14 1 -45 1 -19 1 0 1 5 1 52 1 -39 1 2 1 -38 1 -17 1 -27 1 23 1 3 1 39 1 -15 1 23 1 -42 1 31 1 -13 1 7 1 -7 1 -24 1 14 1 -15 1 21 1 -47 1 29 1 -29 1 -34 1 88 1 -7 1 -19 1 -37 1 24 1 -13 1 19 1 -23 1 31 1 -36 1 72 1 -3 1 -82 1 10 1 26 1 -60 1 7 1 0 1 33 1 -13 1 -1 1 46 1 -35 1 6 1 -30 1 -10 1 40 1 11 1 -14 1 -14 1 19 1 0 1 -16 1 0 1 -16 1 15 1 30 1 28 1 -47 1 11 1 4 1 1 1 28 1 -17 1 44 1 -34 1 1 1 -59" transform="translate(26.5,0) scale(1.0883,0.1)" fill="none" stroke="#8E92C8" stroke-width="0.7" vector-effect="non-scaling-stroke"/>
<path d="M0 1421l1 -11 1 31 1 -1 1 3 1 -60 1 36 1 56 1 -43 1 -52 1 62 1 -78 1 54 1 -7 1 31 1 3 1 21 1 2 1 24 1 -66 1 29 1 -25 1 -8 1 17 1 -11 1 -2 1 7 1 -12 1 -5 1 20 1 10 1 -9 1 -26 1 -38 1 -15 1 18 1 -10 1 12 1 -20 1 13 1 -4 1 11 1 -6 1 -46 1 52 1 -14 1 6 1 -35 1 -32 1 35 1 61 1 -58 1 -21 1 42 1 -22 1 -14 1 43 1 -56 1 -14 1 -3 1 25 1 -3 1 -5 1 -30 1 21 1 -51 1 5 1 55 1 -71 1 9 1 15 1 -12 1 35 1 -36 1 45 1 -22 1 -61 1 -19 1 27 1 19 1 -39 1 8 1 -6 1 -14 1 31 1 -34 1 52 1 -66 1 45 1 -9 1 -4 1 -35 1 -12 1 3 1 -5 1 -2 1 10 1 42 1 19 1 5 1 -51 1 -12 1 -7 1 -12 1 5 1 18 1 15 1 12 1 -66 1 -14 1 45 1 -12 1 -20 1 -32 1 38 1 -6 1 -25 1 57 1 -6 1 -17 1 9 1 -60 1 9 1 17 1 31 1 -31 1 -5 1 25 1 5 1 25 1 -24 1 -28 1 -11 1 7 1 -4 1 31 1 7 1 -35 1 7 1 30 1 -19 1 -13 1 0 1 13 1 19 1 -14 1 -33 1 25 1 27 1 -14" transform="translate(26.5,0) scale(1.0883,0.1)" fill="none" stroke="#8E92C8" stroke-width="0.7" vector-effect="non-scaling-stroke"/>
<path d="M0 1414l1 -23 1 14 1 -15 1 -31 1 48 1 29 1 -19 1 7 1 -3 1 17 1 -21 1 5 1 51 1 -28 1 -21 1 -26 1 31 1 14 1 -40 1 26 1 -9 1 -12 1 -10 1 12 1 27 1 -41 1 19 1 5 1 -56 1 7 1 43 1 -2 1 -7 1 6 1 26 1 -54 1 -18 1 4 1 13 1 -12 1 -15 1 30 1 -9 1 0 1 -30 1 -2 1 31 1 -8 1 -58 1 41 1 -15 1 10 1 -41 1 14 1 10 1 16 1 -18 1 -32 1 -9 1 39 1 -54 1 21 1 22 1 -21 1 8 1 0 1 -1 1 -14 1 3 1 26 1 -44 1 9 1 -38 1 2 1 -3 1 7 1 -24 1 27 1 21 1 -25 1 59 1 -36 1 -25 1 5 1 -37 1 0 1 11 1 13 1 -30 1 29 1 1 1 -26 1 -6 1 -34 1 38 1 47 1 -43 1 -27 1 22 1 -32 1 -16 1 49 1 9 1 19 1 -34 1 -15 1 -3 1 39 1 1 1 14 1 8 1 -4 1 4 1 -31 1 -22 1 -12 1 10 1 17 1 -9 1 -16 1 14 1 -4 1 7 1 7 1 -11 1 23 1 -41 1 45 1 -31 1 31 1 -54 1 -2 1 36 1 4 1 16 1 -19 1 -15 1 -52 1 71 1 -36 1 30 1 -10 1 -16 1 3 1 4 1 15 1 1 1 -3 1 -23" transform="translate(26.5,0) scale(1.0883,0.1)" fill="none" stroke="#8E92C8" stroke-width="0.7" vector-effect="non-scaling-stroke"/>
<path d="M0 1469l1 4 1 -1 1 -40 1 -35 1 8 1 59 1 -9 1 24 1 -28 1 -26 1 7 1 -4 1 21 1 45 1 13 1 -38 1 -27 1 -24 1 27 1 -2 1 -6 1 -21 1 17 1 26 1 -42 1 1 1 -2 1 34 1 -19 1 29 1 13 1 -37 1 -9 1 -27 1 -30 1 21 1 -36 1 39 1 -21 1 36 1 -23 1 0 1 -5 1 -22 1 45 1 -33 1 7 1 -21 1 -15 1 9 1 0 1 14 1 -36 1 13 1 -24 1 31 1 -55 1 33 1 -41 1 20 1 -19 1 7 1 -17 1 7 1 -27 1 3 1 -1 1 -23 1 43 1 -33 1 15 1 37 1 -33 1 3 1 -42 1 34 1 -4 1 -6 1 43 1 -41 1 19 1 -49 1 -21 1 29 1 41 1 -27 1 -10 1 -16 1 17 1 23 1 -17 1 11 1 -57 1 36 1 8 1 -11 1 21 1 -12 1 -11 1 4 1 -5 1 -35 1 6 1 40 1 -9 1 -29 1 22 1 -11 1 -1 1 -13 1 11 1 2 1 16 1 -22 1 21 1 -53 1 23 1 11 1 -19 1 13 1 0 1 3 1 15 1 9 1 -2 1 -41 1 26 1 3 1 2 1 -24 1 -36 1 53 1 -16 1 5 1 11 1 -15 1 35 1 -35 1 3 1 28 1 -48 1 2 1 -6 1 56 1 -9 1 3 1 -24 1 -22 1 64" transform="translate(26.5,0) scale(1.0883,0.1)" fill="none" stroke="#8E92C8" stroke-width="0.7" vector-effect="non-scaling-stroke"/>
<path d="M0 1404l1 18 1 34 1 -12 1 16 1 1 1 -17 1 7 1 -14 1 35 1 -73 1 2 1 12 1 47 1 33 1 -19 1 -20 1 -60 1 1 1 39 1 -27 1 -9 1 22 1 -21 1 12 1 23 1 17 1 -20 1 -32 1 40 1 15 1 -44 1 56 1 -85 1 22 1 -21 1 -33 1 60 1 6 1 -72 1 31 1 3 1 -9 1 -23 1 -16 1 19 1 13 1 -5 1 -12 1 -28 1 14 1 -35 1 45 1 -20 1 -35 1 -3 1 17 1 28 1 3 1 -15 1 -17 1 4 1 25 1 -11 1 -33 1 -20 1 40 1 -13 1 22 1 -20 1 -98 1 43 1 20 1 9 1 13 1 16 1 -37 1 -9 1 -43 1 53 1 -32 1 -31 1 60 1 -41 1 35 1 -38 1 -34 1 20 1 -3 1 19 1 -17 1 -26 1 20 1 3 1 -13 1 -14 1 47 1 -24 1 8 1 -25 1 -21 1 9 1 -20 1 42 1 -1 1 11 1 -20 1 -8 1 3 1 22 1 -19 1 2 1 -23 1 11 1 -28 1 11 1 48 1 -22 1 20 1 -47 1 -24 1 24 1 -3 1 40 1 29 1 -28 1 -15 1 23 1 -28 1 -14 1 -11 1 -23 1 10 1 28 1 -1 1 -11 1 33 1 -42 1 -3 1 25 1 16 1 -91 1 37 1 10 1 -15 1 13 1 22 1 -4 1 35 1 -25" transform="translate(26.5,0) scale(1.0883,0.1)" fill="none" stroke="#8E92C8" stroke-width="0.7" vector-effect="non-scaling-stroke"/>
<path d="M0 1389l1 45 1 -60 1 50 1 -31 1 26 1 -9 1 19 1 -62 1 14 1 -12 1 19 1 7 1 15 1 12 1 -14 1 5 1 7 1 29 1 -15 1 -26 1 15 1 -14 1 5 1 20 1 2 1 -4 1 -13 1 -6 1 -33 1 36 1 30 1 -52 1 7 1 -7 1 -62 1 3 1 18 1 -5 1 14 1 -16 1 27 1 8 1 -5 1 -49 1 -16 1 40 1 -29 1 17 1 -24 1 21 1 -24 1 13 1 6 1 -7 1 -9 1 12 1 18 1 -65 1 24 1 36 1 18 1 15 1 -45 1 -59 1 47 1 -17 1 26 1 -58 1 -3 1 -1 1 -25 1 -16 1 8 1 35 1 26 1 0 1 14 1 -76 1 20 1 -3 1 -3 1 -43 1 43 1 -27 1 10 1 11 1 41 1 -51 1 20 1 -2 1 -16 1 -4 1 -24 1 31 1 -10 1 -7 1 3 1 -15 1 15 1 -28 1 33 1 25 1 -24 1 -35 1 26 1 10 1 -4 1 -13 1 3 1 -10 1 41 1 -59 1 2 1 32 1 -40 1 8 1 -21 1 52 1 -47 1 21 1 53 1 -46 1 9 1 18 1 -12 1 34 1 -45 1 4 1 2 1 -36 1 20 1 21 1 13 1 -16 1 -29 1 28 1 18 1 -37 1 8 1 4 1 -44 1 59 1 -13 1 40 1 -20 1 -25 1 -19 1 47 1 -32" transform="translate(26.5,0) scale(1.0883,0.1)" fill="none" stroke="#8E92C8" stroke-width="0.7" vector-effect="non-scaling-stroke"/>
<path d="M0 1368l1 41 1 33 1 -18 1 46 1 -60 1 -4 1 29 1 -12 1 -2 1 -31 1 47 1 29 1 24 1 -31 1 19 1 -26 1 -21 1 11 1 14 1 -44 1 16 1 -6 1 -18 1 42 1 3 1 -76 1 34 1 28 1 -11 1 2 1 13 1 -16 1 -16 1 -7 1 -16 1 42 1 6 1 -51 1 9 1 -36 1 7 1 37 1 -35 1 22 1 -25 1 -31 1 -31 1 35 1 -8 1 3 1 -13 1 67 1 -30 1 -27 1 -15 1 20 1 -31 1 -19 1 15 1 8 1 2 1 -13 1 -30 1 -20 1 34 1 17 1 -1 1 -43 1 1 1 -5 1 -8 1 -4 1 7 1 19 1 -7 1 -21 1 -15 1 9 1 1 1 -42 1 25 1 -10 1 6 1 11 1 15 1 -19 1 -3 1 -39 1 29 1 -9 1 -29 1 6 1 -13 1 -14 1 49 1 -15 1 6 1 -51 1 15 1 -10 1 -31 1 34 1 -1 1 -9 1 11 1 -31 1 -1 1 -6 1 18 1 13 1 3 1 1 1 27 1 -37 1 -21 1 11 1 13 1 -8 1 -7 1 -5 1 -34 1 48 1 -13 1 -11 1 10 1 10 1 20 1 -4 1 -29 1 -25 1 39 1 -13 1 -5 1 -11 1 13 1 0 1 -9 1 42 1 -13 1 36 1 16 1 -20 1 10 1 -40 1 -22 1 22 1 3 1 4 1 3" transform="translate(26.5,0) scale(1.0883,0.1)" fill="none" stroke="#8E92C8" stroke-width="0.7" vector-effect="non-scaling-stroke"/>
<path d="M0 1412l1 13 1 0 1 -27 1 20 1 -34 1 28 1 -25 1 48 1 4 1 -23 1 -7 1 12 1 -44 1 30 1 4 1 19 1 -43 1 4 1 10 1 47 1 -30 1 7 1 -17 1 -17 1 29 1 -14 1 -19 1 8 1 11 1 17 1 -4 1 9 1 -47 1 3 1 27 1 -20 1 19 1 47 1 -85 1 -27 1 47 1 -5 1 -23 1 3 1 8 1 -7 1 -10 1 1 1 -19 1 2 1 9 1 -17 1 29 1 -61 1 48 1 -24 1 -19 1 -9 1 -3 1 -24 1 41 1 -13 1 -11 1 7 1 2 1 -43 1 27 1 1 1 -7 1 -6 1 -13 1 2 1 -15 1 -2 1 -10 1 -25 1 38 1 -45 1 29 1 -17 1 3 1 8 1 36 1 -67 1 28 1 7 1 -40 1 7 1 -38 1 -9 1 16 1 13 1 -9 1 40 1 -21 1 -8 1 10 1 -15 1 31 1 -42 1 -22 1 47 1 -18 1 -36 1 11 1 34 1 8 1 -38 1 -33 1 51 1 -9 1 14 1 -7 1 -16 1 3 1 14 1 -56 1 31 1 9 1 -25 1 16 1 9 1 -22 1 35 1 -27 1 -14 1 3 1 19 1 2 1 37 1 -22 1 -16 1 -16 1 10 1 15 1 14 1 -12 1 -7 1 -25 1 19 1 17 1 -3 1 7 1 -2 1 41 1 0 1 -8 1 -36 1 1" transform="translate(26.5,0) scale(1.0883,0.1)" fill="none" stroke="#8E92C8" stroke-width="0.7" vector-effect="non-scaling-stroke"/>
<path d="M0 1391l1 -36 1 7 1 28 1 -37 1 53 1 10 1 -14 1 -17 1 9 1 45 1 -25 1 -11 1 -59 1 8 1 29 1 34 1 -20 1 25 1 -21 1 -10 1 12 1 -10 1 8 1 7 1 -43 1 6 1 19 1 15 1 -17 1 -15 1 -12 1 -18 1 15 1 36 1 -57 1 -1 1 5 1 -11 1 55 1 -9 1 -2 1 -38 1 36 1 -9 1 -43 1 3 1 20 1 -43 1 52 1 -24 1 5 1 -16 1 9 1 13 1 -21 1 24 1 -34 1 6 1 -27 1 19 1 8 1 -22 1 -28 1 59 1 -31 1 -23 1 33 1 -4 1 -36 1 18 1 -2 1 -52 1 37 1 7 1 30 1 -19 1 -5 1 -66 1 -12 1 46 1 -56 1 6 1 20 1 -18 1 2 1 23 1 25 1 -12 1 -25 1 -1 1 5 1 -36 1 30 1 -33 1 17 1 -9 1 21 1 -18 1 9 1 22 1 -31 1 -10 1 -23 1 4 1 27 1 -1 1 37 1 -18 1 -57 1 -23 1 9 1 11 1 -3 1 0 1 47 1 -5 1 -45 1 -14 1 15 1 16 1 6 1 5 1 9 1 24 1 -37 1 2 1 -5 1 -42 1 11 1 31 1 -18 1 39 1 -42 1 4 1 11 1 -12 1 -22 1 34 1 22 1 -59 1 27 1 -22 1 39 1 -10 1 19 1 -20 1 13 1 13 1 -42" transform="translate(26.5,0) scale(1.0883,0.1)" fill="none" stroke="#8E92C8" stroke-width="0.7" vector-effect="non-scaling-stroke"/>
<path d="M0 1511l1 17 1 12 1 -9 1 -5 1 -12 1 14 1 26 1 -20 1 -37 1 36 1 -32 1 -7 1 16 1 -13 1 18 1 -4 1 10 1 -30 1 -30 1 33 1 -32 1 58 1 -11 1 -3 1 -61 1 28 1 -23 1 50 1 -33 1 -23 1 3 1 55 1 -48 1 -31 1 -23 1 9 1 44 1 -21 1 -34 1 23 1 -26 1 11 1 -12 1 -21 1 21 1 -73 1 32 1 2 1 20 1 -15 1 -1 1 21 1 4 1 -41 1 -8 1 48 1 0 1 -42 1 -22 1 -25 1 29 1 -35 1 7 1 3 1 -10 1 -30 1 -3 1 -10 1 27 1 -3 1 15 1 -11 1 -10 1 -4 1 -29 1 -5 1 -11 1 7 1 -20 1 12 1 -17 1 2 1 -7 1 13 1 27 1 10 1 -72 1 10 1 0 1 11 1 7 1 -70 1 62 1 -6 1 -4 1 21 1 7 1 -11 1 -13 1 -2 1 -30 1 32 1 -25 1 -32 1 2 1 43 1 50 1 -67 1 -13 1 18 1 -35 1 24 1 -4 1 22 1 -22 1 8 1 4 1 -33 1 8 1 38 1 -35 1 -14 1 31 1 0 1 -10 1 4 1 -7 1 -14 1 21 1 -49 1 45 1 10 1 -50 1 -24 1 44 1 18 1 24 1 -39 1 9 1 25 1 -19 1 -25 1 7 1 -30 1 14 1 20 1 17 1 -7 1 -15" transform="translate(26.5,0) scale(1.0883,0.1)" fill="none" stroke="#8E92C8" stroke-width="0.7" vector-effect="non-scaling-stroke"/>
<path d="M0 1370l1 -10 1 -10 1 28 1 35 1 -53 1 10 1 26 1 -5 1 9 1 35 1 -21 1 20 1 -28 1 -1 1 -27 1 18 1 -5 1 13 1 5 1 23 1 -45 1 4 1 16 1 -13 1 9 1 8 1 -20 1 -27 1 22 1 30 1 -10 1 -56 1 37 1 -33 1 19 1 -17 1 11 1 33 1 -17 1 -60 1 27 1 -8 1 14 1 -2 1 -12 1 -9 1 -42 1 32 1 12 1 11 1 15 1 9 1 -48 1 37 1 -61 1 -9 1 20 1 22 1 -21 1 -8 1 -29 1 30 1 -3 1 -12 1 -2 1 4 1 21 1 1 1 -23 1 -20 1 -35 1 -42 1 -3 1 24 1 -27 1 31 1 15 1 -59 1 52 1 -2 1 -6 1 -41 1 28 1 -23 1 16 1 19 1 -28 1 -9 1 23 1 -1 1 -5 1 -40 1 -4 1 1 1 -6 1 16 1 -17 1 16 1 19 1 -10 1 -24 1 -6 1 -24 1 50 1 -18 1 -19 1 21 1 -20 1 7 1 16 1 -44 1 39 1 -40 1 18 1 16 1 2 1 -2 1 1 1 -24 1 37 1 -55 1 -8 1 -14 1 45 1 43 1 -24 1 -17 1 -15 1 13 1 -5 1 -6 1 34 1 -61 1 45 1 -16 1 -22 1 33 1 -6 1 -36 1 31 1 -19 1 11 1 5 1 -8 1 18 1 6 1 -23 1 9 1 -2" transform="translate(26.5,0) scale(1.0883,0.1)" fill="none" stroke="#8E92C8" stroke-width="0.7" vector-effect="non-scaling-stroke"/>
<path d="M0 1392l1 2 1 14 1 24 1 10 1 -18 1 -25 1 22 1 -19 1 29 1 -24 1 41 1 -14 1 23 1 -30 1 -8 1 30 1 4 1 -6 1 19 1 -7 1 -4 1 -38 1 -25 1 30 1 4 1 -11 1 11 1 -4 1 -26 1 3 1 5 1 10 1 -42 1 29 1 -9 1 20 1 -6 1 -18 1 2 1 -21 1 1 1 28 1 26 1 -65 1 11 1 -43 1 16 1 19 1 -26 1 8 1 -7 1 16 1 -32 1 -22 1 25 1 -44 1 34 1 -10 1 35 1 13 1 -84 1 -14 1 1 1 58 1 -25 1 -14 1 1 1 -6 1 22 1 -11 1 16 1 -14 1 -22 1 17 1 -8 1 -1 1 -11 1 -24 1 5 1 -3 1 36 1 -13 1 -31 1 25 1 -3 1 9 1 -48 1 22 1 12 1 -27 1 -20 1 6 1 -10 1 13 1 9 1 9 1 3 1 2 1 -22 1 3 1 -4 1 -13 1 9 1 30 1 -4 1 5 1 18 1 -39 1 16 1 6 1 -3 1 -43 1 12 1 -25 1 15 1 12 1 -18 1 -7 1 8 1 27 1 -5 1 14 1 -15 1 -13 1 -33 1 -9 1 14 1 -2 1 14 1 -49 1 12 1 -21 1 43 1 12 1 -10 1 16 1 2 1 29 1 -32 1 7 1 -11 1 18 1 40 1 -37 1 -25 1 45 1 8 1 -12 1 -4" transform="translate(26.5,0) scale(1.0883,0.1)" fill="none" stroke="#8E92C8" stroke-width="0.7" vector-effect="non-scaling-stroke"/>
<path d="M0 1323l1 32 1 38 1 -33 1 -43 1 14 1 -1 1 46 1 -9 1 35 1 -63 1 13 1 61 1 14 1 -45 1 -6 1 9 1 -17 1 -35 1 24 1 54 1 -19 1 18 1 -6 1 -26 1 2 1 19 1 -17 1 11 1 -27 1 8 1 -12 1 9 1 -20 1 11 1 0 1 10 1 -13 1 35 1 -86 1 44 1 -5 1 9 1 2 1 -20 1 11 1 0 1 19 1 -6 1 1 1 -65 1 46 1 6 1 -27 1 -36 1 54 1 11 1 -34 1 -17 1 30 1 16 1 -15 1 -43 1 2 1 -18 1 12 1 0 1 -16 1 10 1 -7 1 21 1 -2 1 -25 1 6 1 11 1 -28 1 -7 1 8 1 17 1 -32 1 -45 1 56 1 30 1 -8 1 0 1 5 1 -1 1 -45 1 -15 1 -19 1 9 1 27 1 -26 1 28 1 1 1 17 1 -47 1 -10 1 27 1 4 1 -7 1 -6 1 -17 1 11 1 -4 1 38 1 -14 1 26 1 -68 1 -13 1 10 1 -6 1 -21 1 16 1 58 1 -12 1 41 1 -20 1 3 1 -26 1 -17 1 23 1 -7 1 -14 1 5 1 2 1 48 1 -27 1 -35 1 1 1 38 1 -15 1 -16 1 22 1 -28 1 23 1 -3 1 -5 1 -52 1 40 1 17 1 -22 1 19 1 -8 1 50 1 -39 1 -5 1 26 1 -48 1 20" transform="translate(26.5,0) scale(1.0883,0.1)" fill="none" stroke="#8E92C8" stroke-width="0.7" vector-effect="non-scaling-stroke"/>
<path d="M0 1513l1 -10 1 18 1 -36 1 -19 1 27 1 29 1 -17 1 9 1 -23 1 -8 1 10 1 -8 1 -24 1 -22 1 39 1 -15 1 14 1 21 1 -46 1 4 1 5 1 -5 1 7 1 20 1 -57 1 -1 1 12 1 -14 1 -14 1 25 1 -12 1 14 1 -20 1 11 1 -57 1 39 1 -10 1 -4 1 12 1 -26 1 10 1 8 1 -10 1 9 1 -41 1 -4 1 -12 1 43 1 -25 1 11 1 -18 1 -34 1 8 1 8 1 -29 1 -9 1 -25 1 69 1 -30 1 4 1 7 1 -22 1 19 1 25 1 -23 1 -23 1 -55 1 37 1 18 1 20 1 -31 1 -14 1 -15 1 27 1 -9 1 28 1 -46 1 21 1 29 1 -77 1 -11 1 -2 1 -2 1 26 1 -38 1 31 1 -55 1 17 1 48 1 -45 1 -39 1 34 1 -19 1 19 1 14 1 44 1 -69 1 13 1 -15 1 27 1 2 1 -44 1 18 1 5 1 18 1 -26 1 -22 1 20 1 -1 1 21 1 -51 1 28 1 -2 1 -41 1 28 1 36 1 -3 1 -13 1 -50 1 18 1 14 1 -18 1 -16 1 39 1 -35 1 2 1 9 1 63 1 -36 1 -36 1 25 1 -48 1 34 1 34 1 -25 1 0 1 -12 1 20 1 -27 1 33 1 -5 1 29 1 -1 1 -21 1 12 1 0 1 -5 1 -11 1 -13" transform="translate(26.5,0) scale(1.0883,0.1)" fill="none" stroke="#8E92C8" stroke-width="0.7" vector-effect="non-scaling-stroke"/>
<path d="M0 1373l1 18 1 30 1 -16 1 7 1 26 1 -66 1 57 1 -29 1 -13 1 15 1 -56 1 39 1 29 1 -46 1 42 1 26 1 -2 1 -8 1 -18 1 -12 1 36 1 -30 1 -51 1 48 1 0 1 -18 1 -18 1 34 1 15 1 4 1 -46 1 -11 1 62 1 16 1 -16 1 -1 1 -44 1 -10 1 -43 1 10 1 16 1 -20 1 36 1 20 1 -27 1 -30 1 44 1 -43 1 -14 1 23 1 -10 1 4 1 -9 1 -20 1 26 1 -34 1 -9 1 -6 1 59 1 13 1 -54 1 9 1 2 1 -2 1 9 1 -23 1 -1 1 -5 1 -29 1 24 1 -46 1 56 1 -89 1 54 1 -29 1 -19 1 12 1 -16 1 11 1 36 1 -37 1 -31 1 24 1 30 1 -17 1 -28 1 -10 1 -23 1 3 1 -1 1 53 1 -79 1 22 1 -13 1 20 1 0 1 -6 1 -37 1 -11 1 14 1 -27 1 43 1 -9 1 17 1 -34 1 16 1 -17 1 -23 1 75 1 -71 1 18 1 19 1 39 1 -24 1 36 1 -42 1 -8 1 -46 1 32 1 -21 1 -8 1 -23 1 44 1 -10 1 47 1 5 1 -17 1 -10 1 23 1 -11 1 -27 1 17 1 -1 1 16 1 -44 1 -22 1 28 1 16 1 -34 1 17 1 30 1 25 1 -9 1 -63 1 43 1 -63 1 45 1 19 1 -27" transform="translate(26.5,0) scale(1.0883,0.1)" fill="none" stroke="#8E92C8" stroke-width="0.7" vector-effect="non-scaling-stroke"/>
<path d="M0 1426l1 14 1 -4 1 -21 1 14 1 34 1 -42 1 3 1 4 1 9 1 39 1 -72 1 24 1 -15 1 -24 1 -1 1 19 1 10 1 -4 1 -15 1 2 1 22 1 -14 1 -4 1 -9 1 6 1 -24 1 16 1 -11 1 13 1 16 1 11 1 -16 1 -21 1 -25 1 20 1 14 1 1 1 -41 1 12 1 14 1 -25 1 35 1 -23 1 -6 1 -2 1 19 1 -43 1 -31 1 54 1 -18 1 -19 1 -44 1 43 1 22 1 -17 1 -51 1 24 1 1 1 -36 1 72 1 20 1 -64 1 -18 1 39 1 -33 1 -1 1 -7 1 18 1 -5 1 5 1 -21 1 -2 1 -45 1 7 1 48 1 -31 1 -34 1 13 1 -16 1 18 1 -13 1 30 1 -31 1 36 1 -49 1 44 1 25 1 -52 1 -2 1 -9 1 -11 1 5 1 19 1 -20 1 -11 1 -7 1 -37 1 48 1 -5 1 -13 1 16 1 21 1 -9 1 -39 1 16 1 -15 1 23 1 -19 1 18 1 8 1 -19 1 -5 1 -33 1 57 1 -30 1 -34 1 -5 1 36 1 18 1 0 1 -17 1 -3 1 -5 1 -7 1 35 1 11 1 6 1 4 1 -26 1 -17 1 -53 1 28 1 20 1 -25 1 40 1 -11 1 -17 1 -1 1 9 1 19 1 26 1 -16 1 6 1 -26 1 10 1 -11 1 44 1 -42 1 27" transform="translate(26.5,0) scale(1.0883,0.1)" fill="none" stroke="#8E92C8" stroke-width="0.7" vector-effect="non-scaling-stroke"/>
<path d="M27.6 130.4H187.6" stroke="#222" stroke-width="1"/>
<polyline points="26.5,142.2 27.6,142.4 28.7,142.5 29.8,142.7 30.9,142.8 32,142.9 33,142.9 34.1,143 35.2,143.1 36.3,143.1 37.4,143.1 38.5,143.1 39.6,143.1 40.7,143.1 41.8,143.1 42.8,143 43.9,143 45,142.9 46.1,142.8 47.2,142.7 48.3,142.6 49.4,142.5 50.5,142.3 51.5,142.2 52.6,142 53.7,141.9 54.8,141.7 55.9,141.5 57,141.3 58.1,141.1 59.2,140.9 60.3,140.6 61.3,140.4 62.4,140.1 63.5,139.9 64.6,139.6 65.7,139.3 66.8,139 67.9,138.7 69,138.4 70,138.1 71.1,137.8 72.2,137.4 73.3,137.1 74.4,136.7 75.5,136.4 76.6,136 77.7,135.6 78.8,135.2 79.8,134.8 80.9,134.4 82,134 83.1,133.6 84.2,133.2 85.3,132.7 86.4,132.3 87.5,131.8 88.6,131.4 89.6,130.9 90.7,130.4 91.8,130 92.9,129.5 94,129 95.1,128.5 96.2,128 97.3,127.5 98.3,127 99.4,126.4 100.5,125.9 101.6,125.4 102.7,124.8 103.8,124.3 104.9,123.7 106,123.1 107.1,122.6 108.1,122 109.2,121.4 110.3,120.8 111.4,120.2 112.5,119.7 113.6,119 114.7,118.4 115.8,117.8 116.8,117.2 117.9,116.6 119,115.9 120.1,115.3 121.2,114.7 122.3,114 123.4,113.4 124.5,112.7 125.6,112 126.6,111.4 127.7,110.7 128.8,110 129.9,109.3 131,108.6 132.1,108 133.2,107.3 134.3,106.5 135.3,105.8 136.4,105.1 137.5,104.4 138.6,103.7 139.7,102.9 140.8,102.2 141.9,101.5 143,100.7 144.1,100 145.1,99.2 146.2,98.4 147.3,97.7 148.4,96.9 149.5,96.1 150.6,95.3 151.7,94.5 152.8,93.7 153.8,92.9 154.9,92.1 156,91.3 157.1,90.5 158.2,89.6 159.3,88.8 160.4,88 161.5,87.1 162.6,86.3 163.6,85.4 164.7,84.6 165.8,83.7 166.9,82.8 168,81.9 169.1,81 170.2,80.1 171.3,79.2 172.3,78.3 173.4,77.4 174.5,76.5 175.6,75.6 176.7,74.6 177.8,73.7 178.9,72.7 180,71.8 181.1,70.8 182.1,69.9 183.2,68.9 184.3,67.9 185.4,66.9 186.5,65.9 187.6,64.9 188.7,63.9" fill="none" stroke="#D8212A" stroke-width="3"/>
<polyline points="26.5,142.1 27.6,142.3 28.7,142.5 29.8,142.7 30.9,142.8 32,142.9 33,143.1 34.1,143.2 35.2,143.2 36.3,143.3 37.4,143.3 38.5,143.3 39.6,143.3 40.7,143.3 41.8,143.3 42.8,143.3 43.9,143.2 45,143.1 46.1,143 47.2,142.9 48.3,142.8 49.4,142.7 50.5,142.5 51.5,142.4 52.6,142.2 53.7,142 54.8,141.8 55.9,141.6 57,141.4 58.1,141.2 59.2,141 60.3,140.7 61.3,140.4 62.4,140.2 63.5,139.9 64.6,139.6 65.7,139.3 66.8,139 67.9,138.7 69,138.3 70,138 71.1,137.7 72.2,137.3 73.3,137 74.4,136.6 75.5,136.2 76.6,135.8 77.7,135.4 78.8,135.1 79.8,134.7 80.9,134.2 82,133.8 83.1,133.4 84.2,133 85.3,132.6 86.4,132.1 87.5,131.7 88.6,131.2 89.6,130.8 90.7,130.3 91.8,129.9 92.9,129.4 94,128.9 95.1,128.5 96.2,128 97.3,127.5 98.3,127 99.4,126.5 100.5,126 101.6,125.6 102.7,125.1 103.8,124.6 104.9,124.1 106,123.5 107.1,123 108.1,122.5 109.2,122 110.3,121.5 111.4,121 112.5,120.4 113.6,119.9 114.7,119.4 115.8,118.9 116.8,118.3 117.9,117.8 119,117.3 120.1,116.7 121.2,116.2 122.3,115.6 123.4,115.1 124.5,114.6 125.6,114 126.6,113.5 127.7,112.9 128.8,112.3 129.9,111.8 131,111.2 132.1,110.7 133.2,110.1 134.3,109.5 135.3,109 136.4,108.4 137.5,107.8 138.6,107.3 139.7,106.7 140.8,106.1 141.9,105.5 143,105 144.1,104.4 145.1,103.8 146.2,103.2 147.3,102.6 148.4,102 149.5,101.4 150.6,100.8 151.7,100.2 152.8,99.6 153.8,99 154.9,98.4 156,97.8 157.1,97.2 158.2,96.5 159.3,95.9 160.4,95.3 161.5,94.7 162.6,94 163.6,93.4 164.7,92.7 165.8,92.1 166.9,91.4 168,90.8 169.1,90.1 170.2,89.5 171.3,88.8 172.3,88.1 173.4,87.4 174.5,86.7 175.6,86 176.7,85.3 177.8,84.6 178.9,83.9 180,83.2 181.1,82.5 182.1,81.7 183.2,81 184.3,80.3 185.4,79.5 186.5,78.7 187.6,78 188.7,77.2" fill="none" stroke="#EA7A33" stroke-width="3"/>
<polyline points="26.5,142.2 27.6,142.4 28.7,142.5 29.8,142.7 30.9,142.8 32,142.9 33,143 34.1,143.1 35.2,143.2 36.3,143.2 37.4,143.3 38.5,143.3 39.6,143.3 40.7,143.2 41.8,143.2 42.8,143.2 43.9,143.1 45,143 46.1,142.9 47.2,142.8 48.3,142.7 49.4,142.6 50.5,142.4 51.5,142.3 52.6,142.1 53.7,141.9 54.8,141.7 55.9,141.5 57,141.3 58.1,141.1 59.2,140.9 60.3,140.6 61.3,140.3 62.4,140.1 63.5,139.8 64.6,139.5 65.7,139.2 66.8,138.9 67.9,138.6 69,138.3 70,137.9 71.1,137.6 72.2,137.3 73.3,136.9 74.4,136.5 75.5,136.2 76.6,135.8 77.7,135.4 78.8,135 79.8,134.6 80.9,134.2 82,133.8 83.1,133.4 84.2,133 85.3,132.6 86.4,132.2 87.5,131.7 88.6,131.3 89.6,130.9 90.7,130.4 91.8,130 92.9,129.5 94,129.1 95.1,128.6 96.2,128.2 97.3,127.7 98.3,127.2 99.4,126.8 100.5,126.3 101.6,125.9 102.7,125.4 103.8,124.9 104.9,124.5 106,124 107.1,123.5 108.1,123 109.2,122.6 110.3,122.1 111.4,121.6 112.5,121.2 113.6,120.7 114.7,120.2 115.8,119.8 116.8,119.3 117.9,118.8 119,118.4 120.1,117.9 121.2,117.4 122.3,117 123.4,116.5 124.5,116.1 125.6,115.6 126.6,115.2 127.7,114.7 128.8,114.3 129.9,113.9 131,113.4 132.1,113 133.2,112.6 134.3,112.1 135.3,111.7 136.4,111.3 137.5,110.9 138.6,110.5 139.7,110.1 140.8,109.7 141.9,109.3 143,108.9 144.1,108.5 145.1,108.2 146.2,107.8 147.3,107.4 148.4,107.1 149.5,106.7 150.6,106.4 151.7,106 152.8,105.7 153.8,105.4 154.9,105.1 156,104.8 157.1,104.5 158.2,104.2 159.3,103.9 160.4,103.6 161.5,103.3 162.6,103 163.6,102.8 164.7,102.5 165.8,102.3 166.9,102 168,101.8 169.1,101.6 170.2,101.4 171.3,101.2 172.3,101 173.4,100.8 174.5,100.6 175.6,100.4 176.7,100.3 177.8,100.1 178.9,100 180,99.8 181.1,99.7 182.1,99.6 183.2,99.5 184.3,99.4 185.4,99.3 186.5,99.2 187.6,99.2 188.7,99.1" fill="none" stroke="#7EB0DA" stroke-width="3"/>
<polyline points="26.5,142 27.6,142.2 28.7,142.5 29.8,142.7 30.9,142.9 32,143.1 33,143.2 34.1,143.3 35.2,143.4 36.3,143.5 37.4,143.5 38.5,143.6 39.6,143.6 40.7,143.6 41.8,143.5 42.8,143.5 43.9,143.4 45,143.4 46.1,143.3 47.2,143.1 48.3,143 49.4,142.9 50.5,142.7 51.5,142.5 52.6,142.3 53.7,142.1 54.8,141.9 55.9,141.7 57,141.4 58.1,141.2 59.2,140.9 60.3,140.6 61.3,140.4 62.4,140.1 63.5,139.8 64.6,139.5 65.7,139.1 66.8,138.8 67.9,138.5 69,138.1 70,137.8 71.1,137.5 72.2,137.1 73.3,136.7 74.4,136.4 75.5,136 76.6,135.6 77.7,135.2 78.8,134.9 79.8,134.5 80.9,134.1 82,133.7 83.1,133.3 84.2,132.9 85.3,132.5 86.4,132.1 87.5,131.7 88.6,131.4 89.6,131 90.7,130.6 91.8,130.2 92.9,129.8 94,129.4 95.1,129 96.2,128.6 97.3,128.2 98.3,127.9 99.4,127.5 100.5,127.1 101.6,126.7 102.7,126.4 103.8,126 104.9,125.6 106,125.3 107.1,124.9 108.1,124.6 109.2,124.2 110.3,123.9 111.4,123.6 112.5,123.2 113.6,122.9 114.7,122.6 115.8,122.3 116.8,122 117.9,121.7 119,121.4 120.1,121.1 121.2,120.8 122.3,120.5 123.4,120.2 124.5,120 125.6,119.7 126.6,119.5 127.7,119.2 128.8,119 129.9,118.8 131,118.5 132.1,118.3 133.2,118.1 134.3,117.9 135.3,117.7 136.4,117.5 137.5,117.4 138.6,117.2 139.7,117 140.8,116.9 141.9,116.7 143,116.6 144.1,116.4 145.1,116.3 146.2,116.2 147.3,116.1 148.4,116 149.5,115.9 150.6,115.8 151.7,115.7 152.8,115.6 153.8,115.6 154.9,115.5 156,115.4 157.1,115.4 158.2,115.3 159.3,115.3 160.4,115.3 161.5,115.3 162.6,115.2 163.6,115.2 164.7,115.2 165.8,115.2 166.9,115.2 168,115.2 169.1,115.3 170.2,115.3 171.3,115.3 172.3,115.3 173.4,115.4 174.5,115.4 175.6,115.4 176.7,115.5 177.8,115.5 178.9,115.6 180,115.7 181.1,115.7 182.1,115.8 183.2,115.9 184.3,115.9 185.4,116 186.5,116.1 187.6,116.1 188.7,116.2" fill="none" stroke="#284894" stroke-width="3"/>
</g>
<path d="M37.1 42.5H65" stroke="#D8212A" stroke-width="2.9"/>
<text x="68.2" y="45.5" font-size="8.3" text-anchor="start" font-weight="normal" fill="#262626" stroke="#262626" stroke-width="0.22" >SSP5-8.5</text>
<path d="M37.1 53.4H65" stroke="#EA7A33" stroke-width="2.9"/>
<text x="68.2" y="56.4" font-size="8.3" text-anchor="start" font-weight="normal" fill="#262626" stroke="#262626" stroke-width="0.22" >SSP3-7.0</text>
<path d="M37.1 64.2H65" stroke="#7EB0DA" stroke-width="2.9"/>
<text x="68.2" y="67.2" font-size="8.3" text-anchor="start" font-weight="normal" fill="#262626" stroke="#262626" stroke-width="0.22" >SSP2-4.5</text>
<path d="M37.1 75H65" stroke="#284894" stroke-width="2.9"/>
<text x="68.2" y="78" font-size="8.3" text-anchor="start" font-weight="normal" fill="#262626" stroke="#262626" stroke-width="0.22" >SSP1-2.6</text>
<text x="168.6" y="149" font-size="9" text-anchor="start" font-weight="normal" fill="#262626" stroke="#262626" stroke-width="0.22" >(a)</text>
<rect x="27.6" y="31.2" width="160" height="126.3" fill="none" stroke="#707070" stroke-width="1"/>
<path d="M37.4 157.5v-3.2M37.4 31.2v3.2" stroke="#707070" stroke-width="1"/>
<path d="M59.2 157.5v-3.2M59.2 31.2v3.2" stroke="#707070" stroke-width="1"/>
<path d="M80.9 157.5v-3.2M80.9 31.2v3.2" stroke="#707070" stroke-width="1"/>
<path d="M102.7 157.5v-3.2M102.7 31.2v3.2" stroke="#707070" stroke-width="1"/>
<path d="M124.5 157.5v-3.2M124.5 31.2v3.2" stroke="#707070" stroke-width="1"/>
<path d="M146.2 157.5v-3.2M146.2 31.2v3.2" stroke="#707070" stroke-width="1"/>
<path d="M168 157.5v-3.2M168 31.2v3.2" stroke="#707070" stroke-width="1"/>
<path d="M27.6 145.6h3.2M187.6 145.6h-3.2" stroke="#707070" stroke-width="1"/>
<path d="M27.6 130.4h3.2M187.6 130.4h-3.2" stroke="#707070" stroke-width="1"/>
<path d="M27.6 115.2h3.2M187.6 115.2h-3.2" stroke="#707070" stroke-width="1"/>
<path d="M27.6 99.9h3.2M187.6 99.9h-3.2" stroke="#707070" stroke-width="1"/>
<path d="M27.6 84.7h3.2M187.6 84.7h-3.2" stroke="#707070" stroke-width="1"/>
<path d="M27.6 69.5h3.2M187.6 69.5h-3.2" stroke="#707070" stroke-width="1"/>
<path d="M27.6 54.2h3.2M187.6 54.2h-3.2" stroke="#707070" stroke-width="1"/>
<path d="M27.6 39h3.2M187.6 39h-3.2" stroke="#707070" stroke-width="1"/>
<text x="37.4" y="170.7" font-size="9.2" text-anchor="middle" font-weight="normal" fill="#262626" stroke="#262626" stroke-width="0.22" >1960</text>
<text x="59.2" y="170.7" font-size="9.2" text-anchor="middle" font-weight="normal" fill="#262626" stroke="#262626" stroke-width="0.22" >1980</text>
<text x="80.9" y="170.7" font-size="9.2" text-anchor="middle" font-weight="normal" fill="#262626" stroke="#262626" stroke-width="0.22" >2000</text>
<text x="102.7" y="170.7" font-size="9.2" text-anchor="middle" font-weight="normal" fill="#262626" stroke="#262626" stroke-width="0.22" >2020</text>
<text x="124.5" y="170.7" font-size="9.2" text-anchor="middle" font-weight="normal" fill="#262626" stroke="#262626" stroke-width="0.22" >2040</text>
<text x="146.2" y="170.7" font-size="9.2" text-anchor="middle" font-weight="normal" fill="#262626" stroke="#262626" stroke-width="0.22" >2060</text>
<text x="168" y="170.7" font-size="9.2" text-anchor="middle" font-weight="normal" fill="#262626" stroke="#262626" stroke-width="0.22" >2080</text>
<text x="23.6" y="148.9" font-size="9.2" text-anchor="end" font-weight="normal" fill="#262626" stroke="#262626" stroke-width="0.22" >-1</text>
<text x="23.6" y="133.7" font-size="9.2" text-anchor="end" font-weight="normal" fill="#262626" stroke="#262626" stroke-width="0.22" >0</text>
<text x="23.6" y="118.5" font-size="9.2" text-anchor="end" font-weight="normal" fill="#262626" stroke="#262626" stroke-width="0.22" >1</text>
<text x="23.6" y="103.2" font-size="9.2" text-anchor="end" font-weight="normal" fill="#262626" stroke="#262626" stroke-width="0.22" >2</text>
<text x="23.6" y="88" font-size="9.2" text-anchor="end" font-weight="normal" fill="#262626" stroke="#262626" stroke-width="0.22" >3</text>
<text x="23.6" y="72.8" font-size="9.2" text-anchor="end" font-weight="normal" fill="#262626" stroke="#262626" stroke-width="0.22" >4</text>
<text x="23.6" y="57.5" font-size="9.2" text-anchor="end" font-weight="normal" fill="#262626" stroke="#262626" stroke-width="0.22" >5</text>
<text x="23.6" y="42.3" font-size="9.2" text-anchor="end" font-weight="normal" fill="#262626" stroke="#262626" stroke-width="0.22" >6</text>
<text x="108.6" y="184.6" font-size="10.3" text-anchor="middle" font-weight="normal" fill="#262626" stroke="#262626" stroke-width="0.22" >Time (Year)</text>
<text transform="translate(9.6,94.3) rotate(-90)" font-size="10.4" text-anchor="middle" fill="#262626" stroke="#262626" stroke-width="0.22">Temperature change (K)</text>
<g clip-path="url(#c10)">
<path d="M0 3264l1 -74 1 129 1 -99 1 64 1 -67 1 180 1 -116 1 69 1 -132 1 119 1 -73 1 -76 1 84 1 -132 1 200 1 -10 1 65 1 -323 1 223 1 155 1 -175 1 -151 1 247 1 -215 1 191 1 -43 1 75 1 -85 1 30 1 -106 1 194 1 -222 1 150 1 -40 1 -47 1 -32 1 -132 1 212 1 -144 1 152 1 -2 1 -176 1 21 1 91 1 4 1 -264 1 263 1 -10 1 -50 1 54 1 32 1 -220 1 183 1 -37 1 -69 1 -163 1 244 1 -75 1 -91 1 -22 1 146 1 -195 1 133 1 -91 1 45 1 17 1 -223 1 70 1 -80 1 99 1 -103 1 200 1 -46 1 -55 1 -118 1 -3 1 90 1 63 1 -2 1 -13 1 -157 1 73 1 -49 1 -4 1 14 1 -101 1 -21 1 28 1 -65 1 141 1 -124 1 -199 1 234 1 98 1 -141 1 -79 1 135 1 -78 1 -15 1 -47 1 53 1 -36 1 -39 1 -64 1 87 1 20 1 -259 1 -112 1 90 1 212 1 -73 1 -63 1 136 1 -34 1 -142 1 -29 1 22 1 -3 1 38 1 -6 1 -156 1 116 1 -259 1 64 1 46 1 -164 1 110 1 -227 1 292 1 -47 1 -120 1 49 1 -51 1 74 1 -141 1 -41 1 109 1 -26 1 -33 1 -244 1 -57 1 292 1 -1 1 -233 1 58 1 -31 1 -73 1 -132 1 70L149 2512l-1 -97 -1 -58 -1 35 -1 88 -1 -70 -1 212 -1 -140 -1 87 -1 -90 -1 56 -1 476 -1 -373 -1 3 -1 83 -1 -30 -1 -10 -1 83 -1 190 -1 -107 -1 -66 -1 155 -1 -227 -1 39 -1 135 -1 -76 -1 59 -1 -9 -1 -179 -1 92 -1 148 -1 49 -1 236 -1 -377 -1 228 -1 287 -1 -82 -1 58 -1 -162 -1 -77 -1 -48 -1 -36 -1 130 -1 51 -1 -124 -1 351 -1 200 -1 -482 -1 -134 -1 127 -1 190 -1 -117 -1 118 -1 7 -1 183 -1 -322 -1 343 -1 -300 -1 264 -1 -318 -1 187 -1 49 -1 60 -1 -153 -1 -31 -1 88 -1 145 -1 216 -1 -331 -1 168 -1 -104 -1 121 -1 -159 -1 298 -1 -154 -1 -73 -1 -81 -1 167 -1 -117 -1 -35 -1 187 -1 149 -1 -114 -1 -133 -1 324 -1 -272 -1 -98 -1 183 -1 -55 -1 -40 -1 -109 -1 66 -1 271 -1 -226 -1 387 -1 130 -1 -494 -1 -68 -1 172 -1 -144 -1 476 -1 -333 -1 44 -1 113 -1 -117 -1 -34 -1 65 -1 -22 -1 55 -1 131 -1 -210 -1 285 -1 660 -1 -836 -1 7 -1 -166 -1 132 -1 156 -1 147 -1 -299 -1 -128 -1 196 -1 86 -1 -56 -1 -163 -1 242 -1 -168 -1 46 -1 19 -1 -39 -1 157 -1 -140 -1 -47 -1 20 -1 -31 -1 500 -1 -384 -1 6 -1 223 -1 -285 -1 240 -1 222 -1 -509 -1 188 -1 -228 -1 65 -1 309 -1 -137 -1 -118 -1 -215z" transform="translate(26.5,0) scale(1.0883,0.1)" fill="#EE7D62"/>
<path d="M0 3304l1 253 1 -6 1 338 1 -344 1 -49 1 -231 1 561 1 -85 1 35 1 -393 1 714 1 -299 1 -653 1 293 1 412 1 -263 1 -189 1 60 1 159 1 117 1 -339 1 172 1 -172 1 83 1 176 1 -399 1 399 1 -197 1 217 1 -88 1 -1 1 81 1 -192 1 -228 1 -119 1 82 1 327 1 -343 1 208 1 -292 1 627 1 -575 1 424 1 -371 1 329 1 -293 1 240 1 323 1 -197 1 -158 1 -63 1 460 1 -224 1 -105 1 -116 1 -98 1 206 1 135 1 -385 1 122 1 -262 1 283 1 -251 1 308 1 -249 1 27 1 -85 1 276 1 -178 1 140 1 -153 1 -172 1 -499 1 599 1 -151 1 113 1 -222 1 128 1 -131 1 131 1 -433 1 200 1 625 1 -425 1 34 1 460 1 -289 1 -95 1 45 1 -190 1 385 1 -537 1 -17 1 74 1 129 1 -82 1 85 1 -345 1 119 1 -320 1 474 1 -388 1 405 1 -97 1 167 1 -337 1 106 1 -154 1 -193 1 304 1 -104 1 -121 1 182 1 86 1 -201 1 -46 1 -72 1 -27 1 294 1 -246 1 -178 1 333 1 -187 1 185 1 -179 1 -341 1 304 1 217 1 -289 1 9 1 -205 1 493 1 -113 1 -192 1 283 1 -574 1 630 1 -267 1 111 1 -191 1 -322 1 18 1 -90 1 43 1 519 1 -505 1 417 1 -302 1 -48" transform="translate(26.5,0) scale(1.0883,0.1)" fill="none" stroke="#EE7D62" stroke-width="0.8" vector-effect="non-scaling-stroke"/>
<path d="M0 3425l1 274 1 -517 1 239 1 -115 1 91 1 -24 1 196 1 -410 1 623 1 -309 1 96 1 48 1 -110 1 220 1 -333 1 17 1 141 1 -133 1 364 1 157 1 -254 1 -73 1 -564 1 557 1 -263 1 35 1 -263 1 406 1 -115 1 170 1 133 1 24 1 -50 1 -461 1 230 1 85 1 -42 1 114 1 -116 1 -5 1 -149 1 -60 1 517 1 -392 1 -242 1 485 1 -166 1 -94 1 -199 1 95 1 160 1 -156 1 -119 1 124 1 -310 1 286 1 294 1 -64 1 -142 1 6 1 -180 1 46 1 -289 1 176 1 -148 1 452 1 -78 1 -239 1 112 1 -119 1 67 1 169 1 -487 1 105 1 544 1 -203 1 -142 1 -145 1 144 1 254 1 -461 1 203 1 -301 1 174 1 -154 1 23 1 -21 1 274 1 -326 1 158 1 286 1 -187 1 -23 1 -177 1 -56 1 357 1 -389 1 150 1 191 1 -400 1 314 1 76 1 -412 1 -42 1 306 1 -364 1 -2 1 298 1 -529 1 407 1 -72 1 521 1 -633 1 243 1 -232 1 426 1 -602 1 -77 1 -104 1 977 1 -741 1 33 1 674 1 -486 1 -149 1 -326 1 445 1 -231 1 36 1 -105 1 138 1 -283 1 -35 1 458 1 -528 1 363 1 -117 1 -308 1 189 1 -119 1 -66 1 17 1 210 1 62 1 -358 1 -40 1 58 1 87 1 -240" transform="translate(26.5,0) scale(1.0883,0.1)" fill="none" stroke="#EE7D62" stroke-width="0.8" vector-effect="non-scaling-stroke"/>
<path d="M0 3799l1 -332 1 -40 1 -50 1 346 1 -25 1 -218 1 163 1 -75 1 -203 1 113 1 -291 1 315 1 -290 1 133 1 -304 1 517 1 20 1 -286 1 371 1 -12 1 -148 1 -29 1 361 1 -342 1 112 1 -61 1 -45 1 70 1 -262 1 115 1 132 1 -58 1 -202 1 46 1 -104 1 280 1 -62 1 -389 1 412 1 -357 1 163 1 253 1 191 1 -422 1 265 1 -7 1 201 1 -603 1 213 1 8 1 -83 1 22 1 22 1 -95 1 153 1 461 1 -685 1 55 1 72 1 -328 1 599 1 296 1 -902 1 209 1 410 1 -262 1 -219 1 364 1 -370 1 -329 1 138 1 280 1 -83 1 249 1 -230 1 84 1 124 1 61 1 -678 1 365 1 215 1 -133 1 -400 1 -38 1 444 1 -176 1 -153 1 241 1 157 1 -52 1 -212 1 148 1 95 1 -228 1 -250 1 39 1 173 1 -447 1 536 1 -157 1 250 1 -449 1 171 1 304 1 -187 1 -547 1 205 1 111 1 -167 1 488 1 -171 1 87 1 -115 1 -106 1 -200 1 -112 1 -9 1 -363 1 632 1 -112 1 -124 1 256 1 -126 1 -158 1 246 1 -293 1 -171 1 459 1 221 1 -501 1 211 1 -266 1 107 1 -172 1 -189 1 44 1 219 1 145 1 246 1 -84 1 -303 1 -203 1 135 1 -39 1 181 1 -13 1 -9 1 -502 1 505" transform="translate(26.5,0) scale(1.0883,0.1)" fill="none" stroke="#EE7D62" stroke-width="0.8" vector-effect="non-scaling-stroke"/>
<path d="M0 3176l1 1 1 -8 1 -163 1 264 1 -81 1 149 1 -75 1 -124 1 57 1 -40 1 150 1 -119 1 79 1 -27 1 -16 1 112 1 -79 1 -51 1 -53 1 47 1 -42 1 123 1 14 1 -33 1 21 1 5 1 -41 1 -110 1 117 1 -289 1 245 1 -104 1 141 1 -11 1 -82 1 54 1 21 1 -48 1 -74 1 -74 1 209 1 -242 1 60 1 139 1 -265 1 77 1 77 1 -87 1 -112 1 265 1 -165 1 187 1 -303 1 132 1 65 1 -166 1 130 1 -7 1 16 1 70 1 -130 1 106 1 -182 1 102 1 -57 1 65 1 -64 1 63 1 -195 1 35 1 61 1 9 1 -67 1 83 1 -104 1 122 1 -12 1 -323 1 230 1 39 1 -287 1 236 1 -43 1 -24 1 -74 1 98 1 -138 1 -27 1 47 1 171 1 -178 1 -104 1 80 1 69 1 -41 1 9 1 13 1 -134 1 5 1 104 1 -117 1 19 1 58 1 -56 1 58 1 -400 1 307 1 -35 1 -34 1 -42 1 11 1 86 1 -85 1 -85 1 107 1 17 1 -102 1 -112 1 161 1 -23 1 -11 1 -348 1 154 1 238 1 -122 1 -87 1 -148 1 181 1 -51 1 -76 1 123 1 -136 1 192 1 -197 1 148 1 -136 1 -31 1 94 1 -67 1 -131 1 176 1 -77 1 -11 1 -57 1 84 1 -61 1 -206 1 239 1 -88L149 2643l-1 76 -1 207 -1 -63 -1 -229 -1 193 -1 895 -1 -996 -1 149 -1 -117 -1 -91 -1 -16 -1 387 -1 80 -1 -384 -1 167 -1 -130 -1 26 -1 556 -1 -229 -1 -288 -1 223 -1 -193 -1 415 -1 -341 -1 -53 -1 434 -1 -237 -1 -18 -1 -73 -1 -29 -1 37 -1 102 -1 -150 -1 247 -1 54 -1 -195 -1 90 -1 -129 -1 -3 -1 333 -1 -205 -1 174 -1 -64 -1 24 -1 59 -1 -8 -1 91 -1 -74 -1 -175 -1 202 -1 -26 -1 15 -1 -53 -1 374 -1 -160 -1 -12 -1 17 -1 -58 -1 568 -1 -688 -1 -62 -1 0 -1 147 -1 344 -1 -69 -1 -151 -1 -314 -1 129 -1 136 -1 -195 -1 308 -1 40 -1 -178 -1 -49 -1 -13 -1 513 -1 -556 -1 117 -1 -81 -1 185 -1 -189 -1 383 -1 -102 -1 -159 -1 -5 -1 -60 -1 72 -1 264 -1 -235 -1 131 -1 341 -1 -456 -1 41 -1 -133 -1 208 -1 -21 -1 55 -1 -144 -1 162 -1 85 -1 -248 -1 126 -1 16 -1 -52 -1 75 -1 34 -1 196 -1 -272 -1 123 -1 -146 -1 507 -1 -426 -1 51 -1 13 -1 -178 -1 141 -1 96 -1 -192 -1 60 -1 8 -1 38 -1 209 -1 -79 -1 150 -1 -191 -1 42 -1 -80 -1 207 -1 -330 -1 210 -1 -127 -1 143 -1 -113 -1 42 -1 73 -1 47 -1 -131 -1 125 -1 -88 -1 -2 -1 -37 -1 -92 -1 216 -1 -134 -1 109 -1 95 -1 132 -1 -4 -1 -252z" transform="translate(26.5,0) scale(1.0883,0.1)" fill="#F4AE7E"/>
<path d="M0 3225l1 425 1 -312 1 176 1 -187 1 230 1 587 1 -435 1 165 1 -485 1 81 1 105 1 -86 1 51 1 150 1 -492 1 334 1 83 1 248 1 -166 1 -125 1 35 1 56 1 -86 1 207 1 -224 1 300 1 -137 1 -28 1 -317 1 70 1 76 1 234 1 -151 1 -239 1 -93 1 526 1 -210 1 -110 1 -54 1 61 1 -136 1 406 1 -592 1 520 1 -242 1 -98 1 -133 1 44 1 -2 1 -86 1 271 1 -184 1 -163 1 440 1 117 1 -85 1 -481 1 25 1 304 1 -127 1 -53 1 -122 1 564 1 -268 1 -67 1 -122 1 38 1 68 1 -128 1 551 1 -1114 1 431 1 -21 1 293 1 -220 1 -330 1 36 1 332 1 249 1 -285 1 81 1 -235 1 408 1 -224 1 -99 1 135 1 -308 1 419 1 10 1 -183 1 -241 1 212 1 47 1 -284 1 104 1 137 1 -137 1 61 1 -176 1 81 1 175 1 -73 1 -23 1 -164 1 -11 1 227 1 -137 1 -108 1 -165 1 156 1 -344 1 368 1 -150 1 198 1 121 1 -227 1 -85 1 21 1 24 1 83 1 85 1 -113 1 -162 1 -107 1 823 1 -777 1 -104 1 -47 1 161 1 -68 1 208 1 -82 1 -133 1 307 1 -72 1 -206 1 288 1 -285 1 290 1 -343 1 20 1 103 1 61 1 -98 1 327 1 -376 1 -115 1 -228 1 323" transform="translate(26.5,0) scale(1.0883,0.1)" fill="none" stroke="#F4AE7E" stroke-width="0.8" vector-effect="non-scaling-stroke"/>
<path d="M0 3261l1 -63 1 443 1 -298 1 -21 1 134 1 299 1 -6 1 -296 1 -343 1 496 1 -342 1 -63 1 619 1 -127 1 -415 1 104 1 84 1 109 1 -127 1 246 1 -618 1 717 1 125 1 -386 1 -258 1 378 1 -90 1 187 1 -191 1 182 1 -8 1 88 1 -187 1 -480 1 373 1 -54 1 -408 1 559 1 66 1 -306 1 339 1 -315 1 -169 1 434 1 -117 1 -445 1 537 1 -82 1 -189 1 101 1 98 1 -491 1 422 1 -188 1 138 1 -44 1 217 1 -462 1 259 1 -345 1 472 1 -143 1 -199 1 64 1 142 1 -111 1 220 1 -276 1 524 1 -566 1 -243 1 82 1 -1 1 241 1 -189 1 167 1 -72 1 -7 1 635 1 -857 1 83 1 -86 1 344 1 -335 1 32 1 527 1 -103 1 -369 1 132 1 -138 1 113 1 -432 1 661 1 -116 1 -87 1 67 1 -166 1 -118 1 249 1 -348 1 -197 1 33 1 -191 1 162 1 220 1 -369 1 202 1 -242 1 398 1 367 1 -196 1 -276 1 -84 1 138 1 -249 1 414 1 -99 1 -346 1 174 1 -20 1 -270 1 50 1 363 1 -209 1 365 1 -345 1 -92 1 408 1 -662 1 -99 1 285 1 -97 1 -126 1 319 1 -253 1 118 1 365 1 -137 1 -79 1 -336 1 178 1 -188 1 275 1 145 1 -674 1 -144 1 448 1 101 1 -288" transform="translate(26.5,0) scale(1.0883,0.1)" fill="none" stroke="#F4AE7E" stroke-width="0.8" vector-effect="non-scaling-stroke"/>
<path d="M0 3571l1 248 1 -374 1 51 1 133 1 53 1 175 1 -134 1 -403 1 315 1 -317 1 421 1 -154 1 76 1 -39 1 -204 1 558 1 -553 1 8 1 136 1 -16 1 57 1 -183 1 123 1 176 1 -200 1 -162 1 112 1 63 1 -38 1 134 1 -12 1 277 1 -341 1 -235 1 265 1 97 1 -361 1 138 1 -1 1 -72 1 -51 1 140 1 148 1 -513 1 325 1 156 1 -196 1 -206 1 506 1 -544 1 276 1 -427 1 254 1 143 1 -275 1 -12 1 310 1 -123 1 139 1 -291 1 448 1 -250 1 374 1 -543 1 544 1 -238 1 -268 1 112 1 9 1 93 1 -107 1 243 1 -416 1 -103 1 -1 1 147 1 -256 1 140 1 -106 1 101 1 61 1 145 1 357 1 -650 1 139 1 -421 1 767 1 -562 1 340 1 -194 1 163 1 -252 1 65 1 -187 1 133 1 -75 1 -166 1 139 1 117 1 -278 1 254 1 -112 1 133 1 57 1 446 1 -732 1 351 1 -379 1 -219 1 599 1 -439 1 180 1 -118 1 312 1 -250 1 -35 1 -259 1 -150 1 346 1 122 1 -515 1 443 1 -21 1 -42 1 -82 1 -59 1 240 1 -102 1 -400 1 43 1 214 1 21 1 87 1 -257 1 289 1 -137 1 101 1 20 1 -142 1 -6 1 101 1 -113 1 -39 1 92 1 22 1 -114 1 -177 1 -93 1 165" transform="translate(26.5,0) scale(1.0883,0.1)" fill="none" stroke="#F4AE7E" stroke-width="0.8" vector-effect="non-scaling-stroke"/>
<path d="M0 3533l1 -373 1 199 1 369 1 -171 1 97 1 -29 1 260 1 -331 1 273 1 -148 1 -410 1 102 1 366 1 32 1 -24 1 190 1 -177 1 -140 1 151 1 -354 1 156 1 91 1 -447 1 200 1 122 1 -351 1 101 1 391 1 -205 1 144 1 191 1 -656 1 73 1 536 1 -350 1 412 1 -537 1 215 1 40 1 -309 1 238 1 46 1 -236 1 231 1 -238 1 164 1 -169 1 32 1 -40 1 345 1 -575 1 393 1 -385 1 454 1 -71 1 -11 1 -287 1 303 1 -175 1 381 1 -222 1 -147 1 56 1 339 1 -477 1 280 1 -581 1 410 1 -492 1 305 1 31 1 176 1 -81 1 -122 1 464 1 -590 1 418 1 -190 1 479 1 -639 1 -67 1 81 1 -17 1 127 1 -113 1 -219 1 313 1 -193 1 -55 1 181 1 -104 1 -6 1 131 1 -589 1 557 1 -435 1 117 1 605 1 -463 1 -165 1 32 1 331 1 -241 1 279 1 -42 1 -169 1 -95 1 -292 1 237 1 -150 1 438 1 -19 1 -144 1 -455 1 603 1 38 1 -310 1 -263 1 550 1 -285 1 209 1 -569 1 139 1 72 1 53 1 26 1 -86 1 145 1 35 1 34 1 -236 1 149 1 -345 1 581 1 -544 1 -6 1 -148 1 280 1 236 1 -128 1 -423 1 273 1 9 1 20 1 -117 1 19 1 251 1 -206 1 -334" transform="translate(26.5,0) scale(1.0883,0.1)" fill="none" stroke="#F4AE7E" stroke-width="0.8" vector-effect="non-scaling-stroke"/>
<path d="M0 3552l1 84 1 -368 1 311 1 204 1 -206 1 -161 1 -169 1 411 1 -203 1 176 1 -292 1 177 1 0 1 249 1 -132 1 0 1 654 1 -891 1 172 1 38 1 29 1 -80 1 -45 1 306 1 -289 1 -1 1 14 1 299 1 -273 1 224 1 -330 1 -198 1 84 1 236 1 35 1 0 1 -188 1 196 1 -32 1 388 1 -338 1 -19 1 -56 1 -357 1 507 1 -13 1 -393 1 309 1 -171 1 -75 1 24 1 150 1 -346 1 -124 1 491 1 -154 1 -251 1 221 1 149 1 -122 1 -261 1 356 1 -258 1 -35 1 198 1 -253 1 -30 1 -76 1 3 1 474 1 -486 1 53 1 -89 1 354 1 -360 1 96 1 295 1 -495 1 399 1 36 1 -292 1 190 1 -203 1 110 1 -116 1 -116 1 158 1 -190 1 -6 1 325 1 -348 1 36 1 86 1 -207 1 -117 1 167 1 433 1 -392 1 104 1 16 1 -133 1 123 1 -401 1 259 1 40 1 -163 1 -15 1 -87 1 98 1 122 1 -45 1 445 1 -149 1 -510 1 260 1 -437 1 -9 1 596 1 -322 1 -525 1 719 1 -247 1 113 1 -10 1 -4 1 -64 1 -168 1 300 1 -273 1 228 1 -257 1 29 1 205 1 -196 1 161 1 9 1 -414 1 582 1 -487 1 -43 1 245 1 -349 1 22 1 425 1 -377 1 -3 1 225 1 -276 1 -49" transform="translate(26.5,0) scale(1.0883,0.1)" fill="none" stroke="#F4AE7E" stroke-width="0.8" vector-effect="non-scaling-stroke"/>
<path d="M0 2969l1 207 1 -93 1 6 1 184 1 -45 1 -95 1 128 1 79 1 -54 1 -186 1 146 1 -53 1 8 1 -79 1 -32 1 251 1 -136 1 -94 1 93 1 -3 1 -99 1 155 1 -26 1 17 1 24 1 8 1 100 1 -149 1 86 1 3 1 -234 1 58 1 17 1 -8 1 -144 1 115 1 80 1 -65 1 27 1 -1 1 -21 1 -335 1 267 1 73 1 -91 1 147 1 -13 1 -121 1 122 1 -223 1 71 1 96 1 -260 1 146 1 -30 1 -15 1 3 1 28 1 70 1 -304 1 74 1 144 1 -40 1 30 1 20 1 -16 1 -124 1 -45 1 96 1 -227 1 201 1 -4 1 -39 1 71 1 -262 1 -106 1 364 1 -38 1 -306 1 258 1 -37 1 -143 1 85 1 31 1 -7 1 -118 1 -234 1 121 1 100 1 14 1 -46 1 36 1 -112 1 108 1 -25 1 -19 1 14 1 99 1 -27 1 -193 1 -30 1 149 1 -175 1 212 1 -105 1 155 1 -172 1 32 1 -196 1 73 1 -3 1 193 1 39 1 -131 1 -9 1 21 1 -76 1 110 1 -183 1 161 1 -371 1 282 1 -1 1 24 1 -156 1 50 1 131 1 -192 1 30 1 63 1 118 1 -188 1 -62 1 -33 1 261 1 -210 1 111 1 -226 1 148 1 30 1 26 1 -25 1 -51 1 -89 1 78 1 8 1 -42 1 -72 1 195L149 3079l-1 14 -1 -157 -1 255 -1 -212 -1 223 -1 213 -1 -353 -1 32 -1 124 -1 -237 -1 36 -1 -15 -1 -99 -1 321 -1 -94 -1 167 -1 -165 -1 163 -1 23 -1 -273 -1 53 -1 2 -1 -7 -1 154 -1 -130 -1 367 -1 -217 -1 -237 -1 83 -1 54 -1 -12 -1 -71 -1 335 -1 -278 -1 -55 -1 455 -1 -116 -1 -232 -1 -54 -1 97 -1 -21 -1 49 -1 -220 -1 200 -1 56 -1 -180 -1 281 -1 -138 -1 -17 -1 265 -1 -348 -1 109 -1 -7 -1 102 -1 81 -1 -135 -1 -32 -1 114 -1 188 -1 -73 -1 -213 -1 151 -1 -158 -1 -59 -1 239 -1 -121 -1 -84 -1 183 -1 226 -1 -235 -1 -12 -1 7 -1 42 -1 -128 -1 283 -1 -229 -1 31 -1 258 -1 -177 -1 252 -1 -229 -1 -14 -1 4 -1 41 -1 90 -1 48 -1 -85 -1 87 -1 11 -1 -27 -1 -234 -1 153 -1 58 -1 131 -1 -149 -1 49 -1 116 -1 -229 -1 291 -1 -80 -1 128 -1 -268 -1 317 -1 -159 -1 -148 -1 14 -1 220 -1 -309 -1 275 -1 53 -1 -297 -1 308 -1 -338 -1 612 -1 -213 -1 -366 -1 668 -1 -713 -1 340 -1 351 -1 -346 -1 -195 -1 310 -1 -85 -1 -70 -1 2 -1 -62 -1 65 -1 157 -1 -235 -1 -53 -1 36 -1 -4 -1 16 -1 -18 -1 27 -1 -72 -1 169 -1 -28 -1 4 -1 412 -1 -15 -1 -515 -1 279 -1 -267 -1 254 -1 -154 -1 27 -1 90z" transform="translate(26.5,0) scale(1.0883,0.1)" fill="#B3D4EC"/>
<path d="M0 3743l1 -140 1 80 1 -274 1 4 1 207 1 72 1 -487 1 -13 1 301 1 111 1 -233 1 -88 1 399 1 -469 1 396 1 -253 1 324 1 -118 1 104 1 -99 1 -202 1 385 1 -124 1 -173 1 201 1 -509 1 704 1 -813 1 642 1 -334 1 -135 1 215 1 388 1 -223 1 -87 1 -106 1 -91 1 -34 1 -77 1 485 1 -401 1 548 1 -390 1 240 1 137 1 -555 1 185 1 -214 1 515 1 -82 1 -235 1 107 1 -158 1 133 1 -65 1 155 1 -502 1 317 1 167 1 -387 1 32 1 45 1 -10 1 117 1 -62 1 415 1 -141 1 -75 1 -317 1 -199 1 274 1 12 1 -292 1 295 1 -216 1 38 1 350 1 -343 1 14 1 268 1 -32 1 41 1 -547 1 -159 1 278 1 -184 1 587 1 -570 1 -123 1 65 1 514 1 -421 1 237 1 -251 1 343 1 -141 1 112 1 -221 1 111 1 -255 1 52 1 76 1 86 1 47 1 -69 1 -159 1 120 1 -39 1 61 1 1 1 115 1 242 1 -507 1 -3 1 307 1 -595 1 624 1 -448 1 147 1 -18 1 -174 1 40 1 178 1 217 1 28 1 -293 1 -289 1 139 1 182 1 -78 1 -77 1 -216 1 504 1 -308 1 87 1 209 1 49 1 -471 1 189 1 107 1 -67 1 -184 1 179 1 -312 1 379 1 104 1 -140 1 166 1 -123" transform="translate(26.5,0) scale(1.0883,0.1)" fill="none" stroke="#B3D4EC" stroke-width="0.8" vector-effect="non-scaling-stroke"/>
<path d="M0 3183l1 226 1 95 1 231 1 24 1 -277 1 45 1 157 1 -25 1 -408 1 118 1 194 1 -35 1 -214 1 188 1 26 1 370 1 23 1 45 1 69 1 -460 1 -73 1 244 1 -271 1 -3 1 104 1 282 1 -601 1 10 1 396 1 -520 1 383 1 166 1 -82 1 291 1 -314 1 251 1 -566 1 160 1 345 1 -409 1 463 1 -391 1 -73 1 78 1 237 1 -215 1 7 1 -57 1 -300 1 -50 1 15 1 446 1 16 1 -166 1 -93 1 503 1 -305 1 -501 1 613 1 -111 1 -15 1 -254 1 105 1 44 1 236 1 -446 1 116 1 127 1 -151 1 -166 1 456 1 6 1 -119 1 -39 1 437 1 -512 1 -361 1 287 1 -286 1 789 1 -576 1 -317 1 -47 1 416 1 57 1 -257 1 320 1 -184 1 259 1 -369 1 7 1 -342 1 252 1 201 1 -125 1 237 1 -280 1 42 1 -139 1 -113 1 595 1 -487 1 -92 1 390 1 -644 1 531 1 -663 1 338 1 -45 1 136 1 -159 1 413 1 -54 1 231 1 -522 1 251 1 -307 1 25 1 392 1 -426 1 84 1 6 1 -59 1 94 1 -14 1 -220 1 416 1 37 1 -96 1 -375 1 274 1 -465 1 1022 1 -492 1 -60 1 -152 1 -224 1 309 1 166 1 -386 1 -151 1 841 1 -650 1 55 1 228 1 -78 1 -161 1 50 1 53" transform="translate(26.5,0) scale(1.0883,0.1)" fill="none" stroke="#B3D4EC" stroke-width="0.8" vector-effect="non-scaling-stroke"/>
<path d="M0 3475l1 201 1 -148 1 143 1 -157 1 -109 1 109 1 -83 1 423 1 -378 1 38 1 190 1 -94 1 543 1 -592 1 101 1 382 1 -571 1 235 1 -190 1 105 1 -151 1 80 1 74 1 -163 1 -73 1 634 1 -475 1 124 1 101 1 -500 1 67 1 405 1 12 1 -403 1 291 1 -67 1 332 1 -383 1 -267 1 321 1 -77 1 -389 1 171 1 -119 1 156 1 -124 1 581 1 -181 1 164 1 -804 1 411 1 55 1 122 1 45 1 359 1 -1045 1 470 1 -38 1 293 1 -285 1 -99 1 86 1 -152 1 290 1 -247 1 -126 1 61 1 28 1 92 1 173 1 -325 1 186 1 105 1 -359 1 479 1 -224 1 -282 1 -43 1 263 1 -98 1 -106 1 117 1 136 1 -255 1 47 1 5 1 -215 1 158 1 149 1 -135 1 -373 1 538 1 -100 1 102 1 -244 1 324 1 -358 1 -71 1 308 1 8 1 124 1 -321 1 232 1 -108 1 -48 1 48 1 -319 1 -162 1 758 1 -276 1 -224 1 261 1 -112 1 -159 1 -248 1 39 1 296 1 -92 1 96 1 -44 1 200 1 117 1 -292 1 -281 1 39 1 535 1 -348 1 85 1 -192 1 280 1 -416 1 225 1 -164 1 -65 1 574 1 -357 1 -359 1 303 1 -213 1 124 1 186 1 -163 1 -161 1 -52 1 -35 1 521 1 -400 1 450 1 -258" transform="translate(26.5,0) scale(1.0883,0.1)" fill="none" stroke="#B3D4EC" stroke-width="0.8" vector-effect="non-scaling-stroke"/>
<path d="M0 3406l1 70 1 -186 1 387 1 -294 1 97 1 83 1 250 1 -360 1 54 1 -95 1 172 1 45 1 -131 1 -15 1 -46 1 -247 1 514 1 -538 1 1016 1 -805 1 363 1 -581 1 590 1 -402 1 417 1 26 1 -400 1 -17 1 317 1 -640 1 553 1 -390 1 522 1 -15 1 -221 1 220 1 -307 1 527 1 -482 1 145 1 75 1 -246 1 82 1 39 1 -265 1 98 1 -24 1 -202 1 279 1 -194 1 249 1 -218 1 9 1 211 1 190 1 -56 1 -78 1 -314 1 132 1 25 1 -167 1 -60 1 -144 1 398 1 -243 1 -41 1 330 1 -228 1 203 1 -149 1 -141 1 425 1 -178 1 -23 1 -192 1 161 1 -236 1 243 1 -78 1 -238 1 50 1 26 1 30 1 -221 1 -84 1 348 1 64 1 55 1 -574 1 529 1 79 1 -333 1 -168 1 459 1 -235 1 260 1 -159 1 -481 1 290 1 80 1 -75 1 -50 1 71 1 214 1 -8 1 -658 1 559 1 -407 1 384 1 -418 1 116 1 179 1 -459 1 594 1 -149 1 121 1 -22 1 -90 1 115 1 -134 1 -394 1 671 1 -104 1 -67 1 -104 1 -306 1 54 1 44 1 52 1 -452 1 714 1 0 1 -234 1 -51 1 86 1 119 1 92 1 -215 1 84 1 -49 1 118 1 -497 1 178 1 -289 1 479 1 -120 1 59 1 -58 1 54" transform="translate(26.5,0) scale(1.0883,0.1)" fill="none" stroke="#B3D4EC" stroke-width="0.8" vector-effect="non-scaling-stroke"/>
<path d="M0 3235l1 -82 1 69 1 -11 1 70 1 -144 1 -49 1 106 1 97 1 -134 1 134 1 -218 1 232 1 -90 1 84 1 -79 1 13 1 35 1 -144 1 -150 1 222 1 -95 1 42 1 -28 1 -33 1 203 1 -54 1 -65 1 119 1 -416 1 414 1 -36 1 -76 1 106 1 -147 1 -85 1 -32 1 184 1 -105 1 -17 1 120 1 10 1 -116 1 -18 1 34 1 -33 1 100 1 -86 1 -76 1 -311 1 467 1 -157 1 139 1 -28 1 -112 1 -65 1 113 1 -203 1 -41 1 -68 1 247 1 37 1 -37 1 62 1 -270 1 202 1 -15 1 -6 1 -52 1 -131 1 72 1 -41 1 176 1 -66 1 29 1 -89 1 -211 1 230 1 -94 1 57 1 -55 1 21 1 -127 1 187 1 -145 1 118 1 7 1 -86 1 -127 1 74 1 17 1 -62 1 -119 1 271 1 -96 1 -26 1 -151 1 141 1 55 1 -166 1 185 1 -187 1 -41 1 172 1 -153 1 173 1 -153 1 -97 1 176 1 -303 1 133 1 151 1 29 1 -54 1 68 1 -175 1 161 1 -78 1 87 1 -198 1 123 1 -159 1 47 1 63 1 45 1 0 1 -84 1 19 1 170 1 -367 1 221 1 99 1 -38 1 -22 1 -123 1 41 1 218 1 -137 1 -68 1 157 1 -33 1 -13 1 -126 1 52 1 98 1 -129 1 177 1 -136 1 22 1 57L149 3329l-1 77 -1 -158 -1 170 -1 113 -1 -55 -1 79 -1 -275 -1 547 -1 -249 -1 -334 -1 155 -1 -94 -1 162 -1 114 -1 -365 -1 189 -1 33 -1 -159 -1 170 -1 -141 -1 351 -1 -216 -1 -107 -1 -29 -1 31 -1 -88 -1 3 -1 373 -1 -259 -1 -81 -1 144 -1 -92 -1 -68 -1 396 -1 -227 -1 25 -1 -70 -1 144 -1 -193 -1 -81 -1 97 -1 -102 -1 193 -1 -109 -1 -85 -1 95 -1 214 -1 -39 -1 142 -1 -272 -1 5 -1 421 -1 -466 -1 9 -1 -96 -1 320 -1 -111 -1 -66 -1 8 -1 12 -1 184 -1 -56 -1 -137 -1 -45 -1 -23 -1 82 -1 74 -1 -145 -1 269 -1 -205 -1 96 -1 337 -1 -157 -1 -227 -1 140 -1 -142 -1 37 -1 -30 -1 88 -1 -63 -1 -67 -1 154 -1 -41 -1 -101 -1 290 -1 -10 -1 -42 -1 -199 -1 75 -1 83 -1 343 -1 -212 -1 -86 -1 -190 -1 149 -1 -85 -1 535 -1 -213 -1 -174 -1 34 -1 -62 -1 206 -1 -151 -1 -124 -1 249 -1 245 -1 -529 -1 206 -1 -67 -1 244 -1 -269 -1 194 -1 -60 -1 -211 -1 206 -1 -77 -1 -29 -1 137 -1 -59 -1 72 -1 -63 -1 302 -1 -299 -1 28 -1 -50 -1 480 -1 -434 -1 111 -1 -36 -1 6 -1 -105 -1 142 -1 -193 -1 208 -1 -112 -1 644 -1 -315 -1 -386 -1 265 -1 -164 -1 271 -1 -320 -1 94 -1 331 -1 -229 -1 -4 -1 -202 -1 -12 -1 266z" transform="translate(26.5,0) scale(1.0883,0.1)" fill="#8E92C8"/>
<path d="M0 3461l1 -126 1 -51 1 160 1 153 1 397 1 -483 1 94 1 -294 1 11 1 164 1 -178 1 293 1 -6 1 163 1 -108 1 -106 1 -172 1 361 1 -311 1 -313 1 742 1 -221 1 -60 1 -201 1 -202 1 148 1 253 1 160 1 -165 1 -8 1 -62 1 225 1 -494 1 448 1 -289 1 88 1 259 1 -241 1 3 1 35 1 -208 1 252 1 -617 1 279 1 406 1 311 1 -765 1 196 1 27 1 206 1 86 1 78 1 -905 1 187 1 429 1 -500 1 748 1 -526 1 -9 1 309 1 -90 1 111 1 -228 1 -266 1 57 1 109 1 -150 1 581 1 -781 1 413 1 249 1 -197 1 46 1 -158 1 -52 1 530 1 -738 1 -103 1 555 1 -518 1 37 1 43 1 -133 1 609 1 -438 1 348 1 -695 1 674 1 46 1 -485 1 96 1 116 1 -28 1 -103 1 -232 1 493 1 -37 1 -1 1 -107 1 -22 1 261 1 -329 1 316 1 -199 1 -16 1 -5 1 -356 1 -35 1 111 1 -106 1 380 1 -350 1 297 1 -59 1 -12 1 328 1 -150 1 -94 1 -109 1 100 1 147 1 62 1 -240 1 244 1 -1 1 -220 1 -58 1 207 1 195 1 -423 1 -108 1 252 1 -6 1 401 1 -661 1 411 1 -370 1 270 1 -90 1 11 1 333 1 -931 1 888 1 -341 1 192 1 -116 1 -328 1 668 1 -350" transform="translate(26.5,0) scale(1.0883,0.1)" fill="none" stroke="#8E92C8" stroke-width="0.8" vector-effect="non-scaling-stroke"/>
<path d="M0 3516l1 -49 1 241 1 188 1 -62 1 -180 1 -232 1 139 1 -309 1 311 1 -17 1 0 1 398 1 -473 1 347 1 -150 1 -559 1 734 1 -279 1 -37 1 31 1 24 1 113 1 -526 1 817 1 -204 1 -519 1 188 1 265 1 23 1 -138 1 -598 1 436 1 307 1 -266 1 172 1 -442 1 241 1 -205 1 219 1 -392 1 327 1 20 1 260 1 -130 1 -174 1 175 1 -620 1 505 1 147 1 -367 1 304 1 -201 1 95 1 121 1 -441 1 258 1 -212 1 285 1 215 1 -46 1 -157 1 -77 1 -57 1 -102 1 353 1 -311 1 289 1 -118 1 -675 1 257 1 328 1 -450 1 68 1 101 1 -126 1 344 1 -33 1 143 1 -303 1 369 1 -161 1 -204 1 190 1 -181 1 -310 1 569 1 -496 1 422 1 45 1 -244 1 -171 1 351 1 -2 1 -65 1 52 1 -192 1 180 1 -99 1 -130 1 154 1 -327 1 371 1 16 1 -581 1 105 1 291 1 -159 1 97 1 171 1 -246 1 73 1 -203 1 639 1 -547 1 130 1 173 1 -55 1 -7 1 187 1 -155 1 -279 1 471 1 -235 1 407 1 -367 1 -199 1 90 1 -19 1 239 1 -346 1 302 1 -371 1 144 1 123 1 -382 1 387 1 -290 1 190 1 24 1 -204 1 118 1 93 1 25 1 -65 1 28 1 87 1 149 1 321 1 -505" transform="translate(26.5,0) scale(1.0883,0.1)" fill="none" stroke="#8E92C8" stroke-width="0.8" vector-effect="non-scaling-stroke"/>
<path d="M0 3292l1 164 1 -136 1 -117 1 384 1 155 1 -336 1 294 1 -67 1 -345 1 184 1 -110 1 503 1 -283 1 -222 1 493 1 -304 1 -43 1 555 1 -803 1 473 1 -121 1 -375 1 709 1 -465 1 183 1 -104 1 173 1 -452 1 505 1 -309 1 -42 1 125 1 32 1 -7 1 -270 1 111 1 103 1 201 1 -263 1 -83 1 109 1 -309 1 680 1 -911 1 542 1 189 1 117 1 -544 1 53 1 154 1 -42 1 -53 1 114 1 -331 1 100 1 145 1 304 1 -626 1 371 1 106 1 -485 1 154 1 508 1 -80 1 -268 1 169 1 -235 1 -576 1 -83 1 613 1 -181 1 -26 1 200 1 271 1 -531 1 250 1 -137 1 -59 1 304 1 -519 1 324 1 -37 1 128 1 -241 1 -68 1 316 1 -241 1 204 1 157 1 -191 1 -198 1 6 1 -114 1 356 1 -82 1 -82 1 -117 1 147 1 167 1 119 1 -565 1 19 1 352 1 -444 1 314 1 -110 1 -170 1 356 1 58 1 195 1 -422 1 -33 1 -87 1 52 1 101 1 -217 1 446 1 -292 1 -27 1 130 1 -381 1 265 1 -188 1 93 1 221 1 -435 1 170 1 225 1 29 1 190 1 -181 1 18 1 -90 1 131 1 -203 1 137 1 310 1 -219 1 83 1 80 1 -208 1 -238 1 421 1 185 1 -376 1 -646 1 740 1 -174 1 144" transform="translate(26.5,0) scale(1.0883,0.1)" fill="none" stroke="#8E92C8" stroke-width="0.8" vector-effect="non-scaling-stroke"/>
<path d="M0 3240l1 337 1 -270 1 472 1 -261 1 309 1 -296 1 169 1 -173 1 283 1 -276 1 26 1 142 1 49 1 79 1 -163 1 -164 1 109 1 -61 1 -230 1 326 1 -130 1 -112 1 62 1 23 1 60 1 -385 1 409 1 60 1 -206 1 -220 1 41 1 279 1 -170 1 63 1 82 1 -125 1 0 1 93 1 -333 1 426 1 -372 1 -152 1 -10 1 372 1 87 1 284 1 -325 1 -522 1 818 1 -12 1 -499 1 37 1 495 1 -371 1 -90 1 374 1 -518 1 463 1 -515 1 184 1 177 1 180 1 -269 1 -59 1 -1 1 87 1 -87 1 -232 1 359 1 -153 1 -146 1 91 1 -191 1 -150 1 385 1 -125 1 641 1 -541 1 -217 1 361 1 -512 1 655 1 -673 1 377 1 97 1 -117 1 -52 1 148 1 68 1 -183 1 -309 1 106 1 -199 1 396 1 -58 1 -10 1 -103 1 -71 1 -272 1 212 1 106 1 -249 1 436 1 105 1 -412 1 99 1 6 1 -171 1 257 1 -49 1 -104 1 -58 1 -72 1 176 1 -33 1 550 1 -752 1 574 1 -316 1 -532 1 587 1 258 1 -659 1 445 1 -81 1 0 1 -186 1 -9 1 186 1 -254 1 414 1 -324 1 268 1 -271 1 282 1 -46 1 -393 1 536 1 12 1 -358 1 175 1 35 1 -57 1 -463 1 651 1 -155 1 -87 1 230 1 -183" transform="translate(26.5,0) scale(1.0883,0.1)" fill="none" stroke="#8E92C8" stroke-width="0.8" vector-effect="non-scaling-stroke"/>
<path d="M27.6 333.4H187.6" stroke="#222" stroke-width="1"/>
<polyline points="26.5,352.8 27.6,353.4 28.7,354 29.8,354.5 30.9,355 32,355.5 33,355.9 34.1,356.2 35.2,356.5 36.3,356.8 37.4,357 38.5,357.1 39.6,357.3 40.7,357.4 41.8,357.4 42.8,357.4 43.9,357.4 45,357.4 46.1,357.3 47.2,357.2 48.3,357 49.4,356.8 50.5,356.6 51.5,356.3 52.6,356.1 53.7,355.7 54.8,355.4 55.9,355 57,354.7 58.1,354.2 59.2,353.8 60.3,353.3 61.3,352.8 62.4,352.3 63.5,351.8 64.6,351.2 65.7,350.7 66.8,350.1 67.9,349.5 69,348.8 70,348.2 71.1,347.5 72.2,346.8 73.3,346.1 74.4,345.4 75.5,344.7 76.6,343.9 77.7,343.2 78.8,342.4 79.8,341.6 80.9,340.8 82,340 83.1,339.2 84.2,338.3 85.3,337.5 86.4,336.6 87.5,335.7 88.6,334.8 89.6,333.9 90.7,333 91.8,332.1 92.9,331.2 94,330.3 95.1,329.3 96.2,328.4 97.3,327.4 98.3,326.5 99.4,325.5 100.5,324.5 101.6,323.5 102.7,322.5 103.8,321.5 104.9,320.5 106,319.5 107.1,318.4 108.1,317.4 109.2,316.4 110.3,315.3 111.4,314.3 112.5,313.2 113.6,312.1 114.7,311.1 115.8,310 116.8,308.9 117.9,307.8 119,306.7 120.1,305.5 121.2,304.4 122.3,303.3 123.4,302.2 124.5,301 125.6,299.8 126.6,298.7 127.7,297.5 128.8,296.3 129.9,295.1 131,293.9 132.1,292.7 133.2,291.5 134.3,290.2 135.3,289 136.4,287.7 137.5,286.5 138.6,285.2 139.7,283.9 140.8,282.6 141.9,281.2 143,279.9 144.1,278.6 145.1,277.2 146.2,275.8 147.3,274.4 148.4,273 149.5,271.6 150.6,270.1 151.7,268.6 152.8,267.2 153.8,265.7 154.9,264.1 156,262.6 157.1,261 158.2,259.4 159.3,257.8 160.4,256.2 161.5,254.5 162.6,252.8 163.6,251.1 164.7,249.4 165.8,247.6 166.9,245.8 168,244 169.1,242.1 170.2,240.2 171.3,238.3 172.3,236.4 173.4,234.4 174.5,232.4 175.6,230.3 176.7,228.3 177.8,226.1 178.9,224 180,221.8 181.1,219.5 182.1,217.3 183.2,214.9 184.3,212.6 185.4,210.2 186.5,207.7 187.6,205.2 188.7,202.7" fill="none" stroke="#D8212A" stroke-width="3"/>
<polyline points="26.5,353 27.6,353.6 28.7,354.1 29.8,354.6 30.9,355 32,355.4 33,355.7 34.1,356 35.2,356.3 36.3,356.5 37.4,356.7 38.5,356.9 39.6,357 40.7,357 41.8,357.1 42.8,357.1 43.9,357.1 45,357 46.1,356.9 47.2,356.8 48.3,356.6 49.4,356.4 50.5,356.2 51.5,356 52.6,355.7 53.7,355.4 54.8,355.1 55.9,354.7 57,354.4 58.1,354 59.2,353.5 60.3,353.1 61.3,352.6 62.4,352.1 63.5,351.6 64.6,351.1 65.7,350.6 66.8,350 67.9,349.4 69,348.8 70,348.2 71.1,347.5 72.2,346.9 73.3,346.2 74.4,345.5 75.5,344.8 76.6,344.1 77.7,343.4 78.8,342.6 79.8,341.9 80.9,341.1 82,340.3 83.1,339.5 84.2,338.7 85.3,337.9 86.4,337.1 87.5,336.3 88.6,335.4 89.6,334.6 90.7,333.7 91.8,332.8 92.9,332 94,331.1 95.1,330.2 96.2,329.3 97.3,328.4 98.3,327.5 99.4,326.5 100.5,325.6 101.6,324.7 102.7,323.7 103.8,322.8 104.9,321.9 106,320.9 107.1,320 108.1,319 109.2,318 110.3,317.1 111.4,316.1 112.5,315.1 113.6,314.1 114.7,313.2 115.8,312.2 116.8,311.2 117.9,310.2 119,309.2 120.1,308.2 121.2,307.2 122.3,306.2 123.4,305.2 124.5,304.2 125.6,303.2 126.6,302.2 127.7,301.2 128.8,300.1 129.9,299.1 131,298.1 132.1,297.1 133.2,296.1 134.3,295 135.3,294 136.4,293 137.5,291.9 138.6,290.9 139.7,289.8 140.8,288.8 141.9,287.7 143,286.7 144.1,285.6 145.1,284.6 146.2,283.5 147.3,282.4 148.4,281.4 149.5,280.3 150.6,279.2 151.7,278.1 152.8,277 153.8,276 154.9,274.9 156,273.7 157.1,272.6 158.2,271.5 159.3,270.4 160.4,269.3 161.5,268.1 162.6,267 163.6,265.8 164.7,264.7 165.8,263.5 166.9,262.3 168,261.1 169.1,259.9 170.2,258.7 171.3,257.5 172.3,256.3 173.4,255 174.5,253.8 175.6,252.5 176.7,251.2 177.8,250 178.9,248.7 180,247.3 181.1,246 182.1,244.7 183.2,243.3 184.3,241.9 185.4,240.5 186.5,239.1 187.6,237.7 188.7,236.3" fill="none" stroke="#EA7A33" stroke-width="3"/>
<polyline points="26.5,353.4 27.6,354 28.7,354.5 29.8,355 30.9,355.5 32,355.9 33,356.3 34.1,356.6 35.2,356.9 36.3,357.1 37.4,357.3 38.5,357.5 39.6,357.6 40.7,357.7 41.8,357.7 42.8,357.8 43.9,357.7 45,357.7 46.1,357.6 47.2,357.5 48.3,357.3 49.4,357.1 50.5,356.9 51.5,356.6 52.6,356.4 53.7,356.1 54.8,355.7 55.9,355.4 57,355 58.1,354.6 59.2,354.2 60.3,353.7 61.3,353.2 62.4,352.7 63.5,352.2 64.6,351.7 65.7,351.1 66.8,350.5 67.9,349.9 69,349.3 70,348.7 71.1,348 72.2,347.3 73.3,346.7 74.4,346 75.5,345.2 76.6,344.5 77.7,343.8 78.8,343 79.8,342.3 80.9,341.5 82,340.7 83.1,339.9 84.2,339.1 85.3,338.3 86.4,337.5 87.5,336.7 88.6,335.8 89.6,335 90.7,334.1 91.8,333.3 92.9,332.4 94,331.6 95.1,330.7 96.2,329.8 97.3,329 98.3,328.1 99.4,327.2 100.5,326.3 101.6,325.4 102.7,324.6 103.8,323.7 104.9,322.8 106,321.9 107.1,321 108.1,320.1 109.2,319.3 110.3,318.4 111.4,317.5 112.5,316.6 113.6,315.8 114.7,314.9 115.8,314 116.8,313.2 117.9,312.3 119,311.5 120.1,310.6 121.2,309.8 122.3,308.9 123.4,308.1 124.5,307.3 125.6,306.4 126.6,305.6 127.7,304.8 128.8,304 129.9,303.2 131,302.4 132.1,301.7 133.2,300.9 134.3,300.1 135.3,299.4 136.4,298.6 137.5,297.9 138.6,297.1 139.7,296.4 140.8,295.7 141.9,295 143,294.3 144.1,293.6 145.1,292.9 146.2,292.3 147.3,291.6 148.4,291 149.5,290.3 150.6,289.7 151.7,289.1 152.8,288.4 153.8,287.8 154.9,287.3 156,286.7 157.1,286.1 158.2,285.5 159.3,285 160.4,284.4 161.5,283.9 162.6,283.4 163.6,282.9 164.7,282.4 165.8,281.9 166.9,281.4 168,280.9 169.1,280.5 170.2,280 171.3,279.6 172.3,279.1 173.4,278.7 174.5,278.3 175.6,277.9 176.7,277.5 177.8,277.1 178.9,276.7 180,276.3 181.1,276 182.1,275.6 183.2,275.3 184.3,274.9 185.4,274.6 186.5,274.3 187.6,274 188.7,273.6" fill="none" stroke="#7EB0DA" stroke-width="3"/>
<polyline points="26.5,354.1 27.6,354.8 28.7,355.4 29.8,356 30.9,356.5 32,357 33,357.4 34.1,357.8 35.2,358.1 36.3,358.3 37.4,358.6 38.5,358.7 39.6,358.9 40.7,358.9 41.8,359 42.8,359 43.9,359 45,358.9 46.1,358.8 47.2,358.6 48.3,358.5 49.4,358.3 50.5,358 51.5,357.7 52.6,357.4 53.7,357.1 54.8,356.7 55.9,356.3 57,355.9 58.1,355.5 59.2,355 60.3,354.5 61.3,354 62.4,353.5 63.5,352.9 64.6,352.3 65.7,351.7 66.8,351.1 67.9,350.5 69,349.8 70,349.2 71.1,348.5 72.2,347.8 73.3,347.1 74.4,346.4 75.5,345.7 76.6,344.9 77.7,344.2 78.8,343.4 79.8,342.6 80.9,341.9 82,341.1 83.1,340.3 84.2,339.5 85.3,338.7 86.4,337.9 87.5,337.1 88.6,336.3 89.6,335.5 90.7,334.7 91.8,333.9 92.9,333.1 94,332.3 95.1,331.5 96.2,330.7 97.3,329.9 98.3,329.1 99.4,328.3 100.5,327.5 101.6,326.7 102.7,325.9 103.8,325.1 104.9,324.4 106,323.6 107.1,322.8 108.1,322.1 109.2,321.3 110.3,320.6 111.4,319.9 112.5,319.2 113.6,318.5 114.7,317.8 115.8,317.1 116.8,316.4 117.9,315.8 119,315.1 120.1,314.5 121.2,313.9 122.3,313.3 123.4,312.7 124.5,312.1 125.6,311.5 126.6,310.9 127.7,310.4 128.8,309.9 129.9,309.4 131,308.9 132.1,308.4 133.2,307.9 134.3,307.5 135.3,307 136.4,306.6 137.5,306.2 138.6,305.8 139.7,305.4 140.8,305.1 141.9,304.7 143,304.4 144.1,304.1 145.1,303.8 146.2,303.5 147.3,303.3 148.4,303.1 149.5,302.8 150.6,302.6 151.7,302.4 152.8,302.3 153.8,302.1 154.9,302 156,301.9 157.1,301.8 158.2,301.7 159.3,301.6 160.4,301.6 161.5,301.5 162.6,301.5 163.6,301.5 164.7,301.5 165.8,301.6 166.9,301.6 168,301.7 169.1,301.8 170.2,301.9 171.3,302 172.3,302.1 173.4,302.3 174.5,302.4 175.6,302.6 176.7,302.8 177.8,303 178.9,303.2 180,303.4 181.1,303.7 182.1,303.9 183.2,304.2 184.3,304.5 185.4,304.8 186.5,305.1 187.6,305.4 188.7,305.7" fill="none" stroke="#284894" stroke-width="3"/>
</g>
<path d="M37.1 245.7H65" stroke="#D8212A" stroke-width="2.9"/>
<text x="68.2" y="248.7" font-size="8.3" text-anchor="start" font-weight="normal" fill="#262626" stroke="#262626" stroke-width="0.22" >SSP5-8.5</text>
<path d="M37.1 256.6H65" stroke="#EA7A33" stroke-width="2.9"/>
<text x="68.2" y="259.6" font-size="8.3" text-anchor="start" font-weight="normal" fill="#262626" stroke="#262626" stroke-width="0.22" >SSP3-7.0</text>
<path d="M37.1 267.4H65" stroke="#7EB0DA" stroke-width="2.9"/>
<text x="68.2" y="270.4" font-size="8.3" text-anchor="start" font-weight="normal" fill="#262626" stroke="#262626" stroke-width="0.22" >SSP2-4.5</text>
<path d="M37.1 278.2H65" stroke="#284894" stroke-width="2.9"/>
<text x="68.2" y="281.2" font-size="8.3" text-anchor="start" font-weight="normal" fill="#262626" stroke="#262626" stroke-width="0.22" >SSP1-2.6</text>
<text x="168.6" y="352.4" font-size="9" text-anchor="start" font-weight="normal" fill="#262626" stroke="#262626" stroke-width="0.22" >(d)</text>
<rect x="27.6" y="234.4" width="160" height="126.5" fill="none" stroke="#707070" stroke-width="1"/>
<path d="M37.4 360.9v-3.2M37.4 234.4v3.2" stroke="#707070" stroke-width="1"/>
<path d="M59.2 360.9v-3.2M59.2 234.4v3.2" stroke="#707070" stroke-width="1"/>
<path d="M80.9 360.9v-3.2M80.9 234.4v3.2" stroke="#707070" stroke-width="1"/>
<path d="M102.7 360.9v-3.2M102.7 234.4v3.2" stroke="#707070" stroke-width="1"/>
<path d="M124.5 360.9v-3.2M124.5 234.4v3.2" stroke="#707070" stroke-width="1"/>
<path d="M146.2 360.9v-3.2M146.2 234.4v3.2" stroke="#707070" stroke-width="1"/>
<path d="M168 360.9v-3.2M168 234.4v3.2" stroke="#707070" stroke-width="1"/>
<path d="M27.6 348.6h3.2M187.6 348.6h-3.2" stroke="#707070" stroke-width="1"/>
<path d="M27.6 333.4h3.2M187.6 333.4h-3.2" stroke="#707070" stroke-width="1"/>
<path d="M27.6 318.2h3.2M187.6 318.2h-3.2" stroke="#707070" stroke-width="1"/>
<path d="M27.6 303h3.2M187.6 303h-3.2" stroke="#707070" stroke-width="1"/>
<path d="M27.6 287.8h3.2M187.6 287.8h-3.2" stroke="#707070" stroke-width="1"/>
<path d="M27.6 272.6h3.2M187.6 272.6h-3.2" stroke="#707070" stroke-width="1"/>
<path d="M27.6 257.4h3.2M187.6 257.4h-3.2" stroke="#707070" stroke-width="1"/>
<path d="M27.6 242.2h3.2M187.6 242.2h-3.2" stroke="#707070" stroke-width="1"/>
<text x="37.4" y="374.1" font-size="9.2" text-anchor="middle" font-weight="normal" fill="#262626" stroke="#262626" stroke-width="0.22" >1960</text>
<text x="59.2" y="374.1" font-size="9.2" text-anchor="middle" font-weight="normal" fill="#262626" stroke="#262626" stroke-width="0.22" >1980</text>
<text x="80.9" y="374.1" font-size="9.2" text-anchor="middle" font-weight="normal" fill="#262626" stroke="#262626" stroke-width="0.22" >2000</text>
<text x="102.7" y="374.1" font-size="9.2" text-anchor="middle" font-weight="normal" fill="#262626" stroke="#262626" stroke-width="0.22" >2020</text>
<text x="124.5" y="374.1" font-size="9.2" text-anchor="middle" font-weight="normal" fill="#262626" stroke="#262626" stroke-width="0.22" >2040</text>
<text x="146.2" y="374.1" font-size="9.2" text-anchor="middle" font-weight="normal" fill="#262626" stroke="#262626" stroke-width="0.22" >2060</text>
<text x="168" y="374.1" font-size="9.2" text-anchor="middle" font-weight="normal" fill="#262626" stroke="#262626" stroke-width="0.22" >2080</text>
<text x="23.6" y="351.9" font-size="9.2" text-anchor="end" font-weight="normal" fill="#262626" stroke="#262626" stroke-width="0.22" >-1</text>
<text x="23.6" y="336.7" font-size="9.2" text-anchor="end" font-weight="normal" fill="#262626" stroke="#262626" stroke-width="0.22" >0</text>
<text x="23.6" y="321.5" font-size="9.2" text-anchor="end" font-weight="normal" fill="#262626" stroke="#262626" stroke-width="0.22" >1</text>
<text x="23.6" y="306.3" font-size="9.2" text-anchor="end" font-weight="normal" fill="#262626" stroke="#262626" stroke-width="0.22" >2</text>
<text x="23.6" y="291.1" font-size="9.2" text-anchor="end" font-weight="normal" fill="#262626" stroke="#262626" stroke-width="0.22" >3</text>
<text x="23.6" y="275.9" font-size="9.2" text-anchor="end" font-weight="normal" fill="#262626" stroke="#262626" stroke-width="0.22" >4</text>
<text x="23.6" y="260.7" font-size="9.2" text-anchor="end" font-weight="normal" fill="#262626" stroke="#262626" stroke-width="0.22" >5</text>
<text x="23.6" y="245.5" font-size="9.2" text-anchor="end" font-weight="normal" fill="#262626" stroke="#262626" stroke-width="0.22" >6</text>
<text x="108.6" y="388" font-size="10.3" text-anchor="middle" font-weight="normal" fill="#262626" stroke="#262626" stroke-width="0.22" >Time (Year)</text>
<text transform="translate(9.6,297.6) rotate(-90)" font-size="10.4" text-anchor="middle" fill="#262626" stroke="#262626" stroke-width="0.22">Temperature change (K)</text>
<g clip-path="url(#c20)">
<path d="M0 4961l1 80 1 -152 1 74 1 -6 1 -79 1 94 1 -69 1 122 1 -11 1 -55 1 -57 1 -35 1 30 1 61 1 9 1 -103 1 129 1 -42 1 98 1 -115 1 12 1 53 1 -63 1 60 1 -39 1 -106 1 169 1 -2 1 -164 1 62 1 42 1 -117 1 87 1 -117 1 138 1 -9 1 79 1 -29 1 -96 1 73 1 57 1 -182 1 97 1 -93 1 35 1 47 1 -247 1 242 1 -38 1 -99 1 140 1 -73 1 -2 1 145 1 -95 1 16 1 -117 1 190 1 -73 1 -56 1 63 1 -6 1 -28 1 -13 1 -103 1 151 1 -210 1 27 1 152 1 40 1 2 1 -131 1 106 1 -126 1 -1 1 58 1 14 1 -11 1 64 1 -78 1 -29 1 14 1 -68 1 101 1 -113 1 66 1 -116 1 145 1 -65 1 66 1 -128 1 70 1 60 1 -31 1 -105 1 -52 1 121 1 78 1 -121 1 44 1 -9 1 65 1 -120 1 -105 1 1 1 176 1 -138 1 69 1 3 1 42 1 -88 1 -43 1 117 1 -59 1 89 1 -73 1 -24 1 -36 1 -368 1 415 1 -84 1 -122 1 175 1 61 1 -72 1 -117 1 41 1 -6 1 -13 1 61 1 2 1 -84 1 19 1 -19 1 -20 1 69 1 20 1 -19 1 50 1 -12 1 4 1 -48 1 -74 1 59 1 49 1 -140 1 14 1 -171 1 262L149 4998l-1 211 -1 -165 -1 116 -1 -152 -1 183 -1 51 -1 -54 -1 -127 -1 19 -1 -22 -1 -2 -1 75 -1 112 -1 -243 -1 112 -1 67 -1 -124 -1 126 -1 19 -1 -84 -1 84 -1 109 -1 -136 -1 44 -1 -52 -1 -62 -1 103 -1 -2 -1 79 -1 -126 -1 99 -1 -9 -1 -50 -1 -13 -1 21 -1 -62 -1 33 -1 89 -1 -81 -1 56 -1 -24 -1 35 -1 79 -1 -35 -1 -78 -1 153 -1 -21 -1 -127 -1 58 -1 -24 -1 3 -1 86 -1 -140 -1 167 -1 141 -1 -217 -1 113 -1 8 -1 -119 -1 107 -1 -125 -1 -40 -1 87 -1 -50 -1 119 -1 -12 -1 -77 -1 44 -1 135 -1 -86 -1 12 -1 -29 -1 99 -1 -95 -1 -47 -1 119 -1 156 -1 -295 -1 -5 -1 87 -1 -52 -1 142 -1 -120 -1 1 -1 276 -1 -265 -1 246 -1 -149 -1 -66 -1 -33 -1 68 -1 -47 -1 -29 -1 34 -1 31 -1 -70 -1 12 -1 18 -1 40 -1 40 -1 50 -1 96 -1 -237 -1 5 -1 165 -1 -62 -1 55 -1 -116 -1 -21 -1 233 -1 -122 -1 -125 -1 141 -1 -45 -1 31 -1 -9 -1 -125 -1 242 -1 -78 -1 23 -1 -129 -1 88 -1 -72 -1 16 -1 -48 -1 209 -1 52 -1 -161 -1 76 -1 -213 -1 95 -1 67 -1 -120 -1 61 -1 71 -1 -139 -1 89 -1 153 -1 -219 -1 -7 -1 30 -1 52 -1 -128 -1 101 -1 19 -1 14 -1 -34 -1 95 -1 -158z" transform="translate(26.5,0) scale(1.0883,0.1)" fill="#EE7D62"/>
<path d="M0 5402l1 -58 1 -170 1 50 1 271 1 -155 1 -150 1 -336 1 469 1 201 1 -408 1 170 1 114 1 -257 1 108 1 100 1 47 1 -162 1 -29 1 254 1 -377 1 307 1 -364 1 145 1 70 1 -71 1 126 1 -73 1 -234 1 302 1 -190 1 233 1 -120 1 -135 1 294 1 -210 1 338 1 -138 1 -101 1 -178 1 21 1 221 1 -108 1 -45 1 238 1 -273 1 -128 1 13 1 249 1 -27 1 70 1 -62 1 -36 1 -129 1 80 1 136 1 -241 1 -11 1 201 1 -52 1 -22 1 208 1 -246 1 -76 1 -177 1 237 1 62 1 -22 1 -106 1 -29 1 223 1 -147 1 -66 1 360 1 -465 1 213 1 -152 1 122 1 23 1 -27 1 -53 1 -83 1 151 1 113 1 -62 1 34 1 -241 1 230 1 -343 1 186 1 25 1 -194 1 223 1 -14 1 -151 1 1 1 232 1 -476 1 253 1 244 1 -152 1 -155 1 92 1 -92 1 -211 1 191 1 -152 1 176 1 179 1 -302 1 296 1 -231 1 36 1 200 1 -24 1 -78 1 -84 1 -132 1 167 1 -255 1 135 1 202 1 -8 1 -101 1 77 1 -63 1 -124 1 66 1 -102 1 222 1 19 1 69 1 47 1 -186 1 -75 1 32 1 -33 1 -282 1 424 1 -116 1 26 1 53 1 -312 1 185 1 -179 1 321 1 -413 1 -56 1 425 1 -121" transform="translate(26.5,0) scale(1.0883,0.1)" fill="none" stroke="#EE7D62" stroke-width="0.8" vector-effect="non-scaling-stroke"/>
<path d="M0 5135l1 253 1 -241 1 -36 1 181 1 227 1 -216 1 -39 1 -158 1 188 1 73 1 -242 1 34 1 -50 1 94 1 -138 1 74 1 313 1 -271 1 -79 1 100 1 -194 1 261 1 -158 1 263 1 -169 1 75 1 61 1 41 1 -210 1 -28 1 144 1 82 1 -50 1 -225 1 267 1 -320 1 382 1 -267 1 -54 1 -77 1 224 1 44 1 88 1 -319 1 140 1 43 1 -7 1 -93 1 28 1 -159 1 453 1 -411 1 186 1 -64 1 30 1 -34 1 -117 1 71 1 224 1 -190 1 2 1 -67 1 42 1 14 1 -154 1 286 1 -450 1 372 1 61 1 -252 1 -43 1 -27 1 -32 1 130 1 53 1 -46 1 48 1 70 1 -297 1 -33 1 243 1 29 1 31 1 159 1 -141 1 -27 1 -72 1 130 1 119 1 -354 1 -150 1 521 1 -276 1 -140 1 271 1 32 1 -205 1 32 1 50 1 -316 1 15 1 110 1 94 1 30 1 -170 1 147 1 -240 1 28 1 247 1 -191 1 -115 1 119 1 213 1 -97 1 4 1 -68 1 7 1 47 1 -170 1 -73 1 257 1 119 1 -257 1 45 1 -62 1 146 1 -138 1 159 1 -278 1 -85 1 351 1 223 1 -292 1 0 1 -103 1 20 1 -69 1 -308 1 443 1 -29 1 -114 1 307 1 -363 1 188 1 108 1 -84 1 -188 1 -49 1 -59" transform="translate(26.5,0) scale(1.0883,0.1)" fill="none" stroke="#EE7D62" stroke-width="0.8" vector-effect="non-scaling-stroke"/>
<path d="M0 5296l1 -175 1 86 1 -330 1 600 1 -501 1 114 1 50 1 68 1 64 1 54 1 81 1 -491 1 150 1 36 1 42 1 311 1 -224 1 -55 1 -142 1 294 1 -174 1 69 1 -37 1 110 1 -156 1 37 1 266 1 -422 1 -135 1 419 1 -277 1 289 1 -62 1 -313 1 211 1 -180 1 165 1 -99 1 159 1 -219 1 -50 1 150 1 168 1 -28 1 77 1 -214 1 10 1 165 1 -223 1 202 1 -329 1 134 1 -107 1 312 1 37 1 111 1 -340 1 239 1 -340 1 161 1 -87 1 277 1 -97 1 -109 1 -79 1 274 1 -226 1 156 1 -226 1 138 1 6 1 -103 1 -102 1 187 1 -203 1 299 1 -179 1 188 1 -186 1 150 1 -133 1 -84 1 212 1 103 1 -219 1 -99 1 35 1 151 1 -242 1 149 1 -149 1 220 1 -184 1 -105 1 245 1 -55 1 -129 1 9 1 18 1 60 1 191 1 -216 1 170 1 -192 1 324 1 -518 1 -68 1 193 1 170 1 -79 1 -166 1 26 1 179 1 -263 1 60 1 20 1 116 1 -53 1 91 1 -127 1 110 1 -253 1 149 1 -28 1 -21 1 -4 1 231 1 -371 1 156 1 83 1 52 1 -43 1 -14 1 -89 1 113 1 -135 1 -9 1 109 1 -397 1 311 1 -65 1 27 1 33 1 -117 1 -98 1 193 1 103 1 -194 1 363" transform="translate(26.5,0) scale(1.0883,0.1)" fill="none" stroke="#EE7D62" stroke-width="0.8" vector-effect="non-scaling-stroke"/>
<path d="M0 4948l1 61 1 -39 1 -78 1 9 1 63 1 35 1 -126 1 57 1 -49 1 -35 1 129 1 -47 1 1 1 72 1 -282 1 168 1 -89 1 -59 1 209 1 -39 1 62 1 -97 1 -26 1 130 1 -187 1 157 1 -157 1 226 1 -12 1 -212 1 225 1 -74 1 28 1 18 1 -66 1 0 1 -25 1 48 1 -197 1 205 1 7 1 -8 1 -13 1 -54 1 61 1 -51 1 42 1 -75 1 1 1 69 1 -101 1 129 1 -5 1 -46 1 -59 1 17 1 -57 1 121 1 46 1 -189 1 -32 1 115 1 103 1 -160 1 -3 1 43 1 -15 1 -19 1 56 1 -119 1 -15 1 111 1 82 1 -154 1 7 1 -5 1 -65 1 6 1 72 1 -11 1 52 1 -96 1 147 1 -65 1 35 1 -148 1 142 1 -71 1 -20 1 92 1 -78 1 -34 1 19 1 28 1 -72 1 50 1 -37 1 -66 1 -93 1 232 1 12 1 -115 1 81 1 -63 1 -15 1 -18 1 5 1 2 1 -76 1 147 1 -70 1 -59 1 49 1 7 1 40 1 -122 1 75 1 39 1 5 1 -139 1 55 1 54 1 -66 1 52 1 -77 1 11 1 -96 1 146 1 -66 1 -81 1 67 1 -28 1 47 1 106 1 -15 1 -21 1 -10 1 20 1 -150 1 74 1 44 1 33 1 -65 1 -110 1 60 1 -43 1 111 1 5 1 -69L149 5255l-1 -158 -1 67 -1 81 -1 -115 -1 207 -1 163 -1 -349 -1 192 -1 -210 -1 92 -1 -32 -1 43 -1 -118 -1 -32 -1 114 -1 -82 -1 66 -1 106 -1 -180 -1 56 -1 19 -1 102 -1 -148 -1 101 -1 -100 -1 94 -1 -26 -1 60 -1 82 -1 -116 -1 21 -1 -64 -1 65 -1 72 -1 134 -1 -141 -1 157 -1 -96 -1 -172 -1 129 -1 78 -1 -148 -1 -77 -1 165 -1 -91 -1 61 -1 105 -1 31 -1 -215 -1 114 -1 -107 -1 82 -1 37 -1 -79 -1 67 -1 -9 -1 -72 -1 -5 -1 44 -1 43 -1 97 -1 -170 -1 -15 -1 -23 -1 54 -1 124 -1 -121 -1 -18 -1 77 -1 129 -1 -144 -1 -8 -1 57 -1 89 -1 -138 -1 21 -1 81 -1 0 -1 26 -1 -44 -1 -48 -1 -44 -1 31 -1 58 -1 89 -1 -106 -1 112 -1 -76 -1 29 -1 -26 -1 35 -1 -104 -1 84 -1 -54 -1 -50 -1 111 -1 156 -1 -164 -1 1 -1 2 -1 -62 -1 32 -1 11 -1 8 -1 47 -1 -70 -1 32 -1 -62 -1 176 -1 -137 -1 87 -1 -35 -1 -93 -1 39 -1 402 -1 -319 -1 -24 -1 108 -1 -163 -1 110 -1 -94 -1 70 -1 -1 -1 -42 -1 -23 -1 -79 -1 303 -1 -235 -1 32 -1 -5 -1 -31 -1 10 -1 108 -1 -149 -1 -34 -1 195 -1 31 -1 -141 -1 69 -1 -107 -1 -4 -1 163 -1 -54 -1 -168 -1 76 -1 -42 -1 14 -1 -12 -1 517z" transform="translate(26.5,0) scale(1.0883,0.1)" fill="#F4AE7E"/>
<path d="M0 5181l1 214 1 -188 1 46 1 58 1 -33 1 -36 1 -150 1 -137 1 234 1 -182 1 181 1 211 1 -204 1 -162 1 -16 1 302 1 -413 1 393 1 -1 1 -28 1 -261 1 138 1 -68 1 413 1 -287 1 7 1 -108 1 154 1 -221 1 248 1 92 1 32 1 -385 1 66 1 202 1 -250 1 167 1 -7 1 175 1 -121 1 -89 1 -14 1 100 1 -207 1 -60 1 295 1 -162 1 253 1 -258 1 180 1 -109 1 -45 1 53 1 -172 1 238 1 -43 1 -107 1 45 1 -40 1 59 1 76 1 -196 1 74 1 -111 1 -59 1 219 1 49 1 -41 1 23 1 173 1 -481 1 159 1 -256 1 378 1 -155 1 39 1 42 1 -141 1 125 1 7 1 -35 1 312 1 -203 1 -1 1 -317 1 136 1 -29 1 17 1 104 1 -246 1 241 1 155 1 -272 1 -76 1 137 1 -38 1 -82 1 -78 1 120 1 -148 1 179 1 -241 1 453 1 -309 1 83 1 18 1 180 1 -313 1 163 1 101 1 -51 1 -56 1 -47 1 129 1 -2 1 -179 1 60 1 -271 1 310 1 -156 1 -135 1 252 1 -159 1 87 1 29 1 -207 1 338 1 -54 1 151 1 -220 1 -148 1 160 1 -143 1 204 1 -252 1 163 1 45 1 -280 1 215 1 -79 1 58 1 -78 1 74 1 172 1 -196 1 -27 1 11 1 80 1 -269" transform="translate(26.5,0) scale(1.0883,0.1)" fill="none" stroke="#F4AE7E" stroke-width="0.8" vector-effect="non-scaling-stroke"/>
<path d="M0 5183l1 -12 1 170 1 14 1 -243 1 -1 1 70 1 228 1 -172 1 -69 1 -50 1 -75 1 96 1 -66 1 -92 1 524 1 -437 1 187 1 -120 1 35 1 161 1 -16 1 -176 1 81 1 -120 1 145 1 -332 1 314 1 -305 1 370 1 -174 1 -74 1 318 1 -46 1 -181 1 -98 1 -30 1 105 1 -65 1 288 1 -98 1 -246 1 260 1 -42 1 194 1 -204 1 182 1 -257 1 -147 1 150 1 17 1 72 1 -126 1 215 1 -86 1 -345 1 451 1 -99 1 106 1 -345 1 189 1 133 1 -5 1 -311 1 55 1 -19 1 110 1 -129 1 -57 1 82 1 294 1 46 1 -69 1 -229 1 228 1 -57 1 -149 1 116 1 50 1 -296 1 58 1 -41 1 -21 1 -71 1 191 1 16 1 202 1 -201 1 43 1 -219 1 46 1 -108 1 47 1 -16 1 82 1 48 1 65 1 -51 1 119 1 -180 1 59 1 251 1 85 1 -262 1 -38 1 -25 1 -213 1 249 1 80 1 -219 1 -85 1 -88 1 345 1 -103 1 19 1 -257 1 103 1 85 1 -95 1 138 1 -23 1 -25 1 58 1 -36 1 -82 1 12 1 -166 1 79 1 119 1 275 1 -96 1 -131 1 -18 1 119 1 -124 1 -66 1 95 1 -66 1 -8 1 77 1 19 1 -97 1 -53 1 169 1 129 1 -143 1 -192 1 276 1 -332 1 196" transform="translate(26.5,0) scale(1.0883,0.1)" fill="none" stroke="#F4AE7E" stroke-width="0.8" vector-effect="non-scaling-stroke"/>
<path d="M0 5311l1 -176 1 69 1 -41 1 302 1 -348 1 313 1 -175 1 -111 1 93 1 -90 1 43 1 10 1 117 1 -236 1 -16 1 216 1 46 1 -143 1 124 1 -116 1 -89 1 20 1 -106 1 131 1 195 1 -25 1 -181 1 -178 1 292 1 72 1 -300 1 196 1 -107 1 -51 1 266 1 -82 1 24 1 -141 1 -17 1 147 1 -138 1 301 1 -277 1 0 1 42 1 186 1 -176 1 124 1 -327 1 222 1 -12 1 -14 1 -86 1 57 1 -61 1 187 1 -264 1 203 1 -163 1 65 1 -110 1 145 1 177 1 -44 1 -121 1 -210 1 229 1 -64 1 -156 1 230 1 -115 1 1 1 110 1 -110 1 -108 1 -3 1 174 1 -419 1 325 1 77 1 54 1 30 1 -234 1 471 1 -354 1 154 1 -158 1 -21 1 159 1 -44 1 -293 1 230 1 -74 1 36 1 -150 1 -54 1 35 1 43 1 -5 1 221 1 -324 1 236 1 38 1 -69 1 50 1 -159 1 -43 1 -75 1 172 1 61 1 -44 1 110 1 -59 1 -354 1 351 1 -43 1 -143 1 44 1 -69 1 206 1 23 1 -309 1 252 1 -77 1 -43 1 261 1 -216 1 56 1 -153 1 104 1 246 1 -392 1 425 1 -277 1 34 1 -13 1 -79 1 -126 1 232 1 -35 1 -176 1 28 1 -28 1 48 1 72 1 30 1 -3 1 -178 1 -76" transform="translate(26.5,0) scale(1.0883,0.1)" fill="none" stroke="#F4AE7E" stroke-width="0.8" vector-effect="non-scaling-stroke"/>
<path d="M0 5345l1 -102 1 -31 1 22 1 123 1 -424 1 86 1 215 1 37 1 -57 1 154 1 -112 1 -143 1 -114 1 99 1 -53 1 302 1 281 1 -594 1 153 1 34 1 -226 1 338 1 -1 1 -28 1 -304 1 85 1 351 1 -444 1 211 1 -54 1 154 1 -343 1 185 1 -114 1 298 1 -221 1 78 1 39 1 75 1 -16 1 60 1 -67 1 -84 1 -80 1 276 1 -70 1 -56 1 131 1 -177 1 -5 1 -11 1 -80 1 -71 1 16 1 66 1 -43 1 178 1 17 1 -209 1 9 1 -214 1 311 1 97 1 -169 1 94 1 54 1 -295 1 -76 1 199 1 130 1 -121 1 37 1 170 1 -292 1 60 1 -121 1 231 1 -73 1 9 1 205 1 -553 1 594 1 -127 1 -106 1 153 1 -262 1 112 1 -74 1 -25 1 17 1 -7 1 28 1 -79 1 -54 1 135 1 21 1 -11 1 -96 1 84 1 -2 1 143 1 -453 1 409 1 -385 1 111 1 -33 1 95 1 -34 1 22 1 -43 1 -37 1 -93 1 325 1 -198 1 -152 1 25 1 313 1 -179 1 1 1 0 1 324 1 -412 1 320 1 -501 1 197 1 95 1 -99 1 61 1 85 1 -61 1 -61 1 149 1 -203 1 -56 1 3 1 -17 1 -18 1 75 1 -82 1 162 1 -48 1 -135 1 -71 1 300 1 144 1 -477 1 129 1 -90 1 121" transform="translate(26.5,0) scale(1.0883,0.1)" fill="none" stroke="#F4AE7E" stroke-width="0.8" vector-effect="non-scaling-stroke"/>
<path d="M0 4876l1 94 1 -85 1 101 1 20 1 -127 1 62 1 16 1 -89 1 148 1 -100 1 11 1 -30 1 9 1 -98 1 197 1 -17 1 -21 1 85 1 -67 1 -44 1 -211 1 280 1 -44 1 -40 1 -6 1 20 1 15 1 -29 1 -36 1 -98 1 105 1 -95 1 90 1 83 1 -16 1 -48 1 28 1 -44 1 21 1 55 1 19 1 -132 1 85 1 -66 1 12 1 -11 1 -63 1 19 1 120 1 -54 1 -95 1 184 1 -62 1 -4 1 -38 1 7 1 -104 1 12 1 96 1 -2 1 -47 1 67 1 -111 1 -25 1 -61 1 215 1 -76 1 5 1 9 1 -125 1 160 1 30 1 -155 1 -3 1 110 1 -60 1 -72 1 159 1 -42 1 -82 1 41 1 12 1 -65 1 36 1 -39 1 76 1 -117 1 45 1 -138 1 156 1 -159 1 107 1 68 1 -38 1 -39 1 24 1 -101 1 46 1 121 1 -165 1 131 1 -11 1 -20 1 20 1 -139 1 62 1 -6 1 -32 1 0 1 15 1 124 1 -114 1 65 1 -10 1 -4 1 -43 1 0 1 -75 1 134 1 -90 1 54 1 25 1 -53 1 -38 1 85 1 -175 1 149 1 -84 1 71 1 -94 1 124 1 -72 1 -98 1 148 1 -80 1 -83 1 166 1 -177 1 54 1 -5 1 50 1 112 1 -225 1 233 1 -150 1 29 1 61 1 12 1 -152L149 5184l-1 52 -1 -30 -1 138 -1 -43 -1 -119 -1 69 -1 -101 -1 29 -1 167 -1 -174 -1 152 -1 -131 -1 236 -1 -131 -1 2 -1 -39 -1 155 -1 -161 -1 -13 -1 248 -1 -305 -1 90 -1 -30 -1 121 -1 -189 -1 75 -1 -68 -1 187 -1 -51 -1 27 -1 -28 -1 -22 -1 12 -1 -103 -1 37 -1 -40 -1 62 -1 -31 -1 6 -1 108 -1 57 -1 -128 -1 -47 -1 174 -1 -179 -1 67 -1 161 -1 44 -1 -187 -1 -41 -1 63 -1 -61 -1 80 -1 305 -1 -271 -1 98 -1 -193 -1 53 -1 -3 -1 -13 -1 7 -1 48 -1 -52 -1 147 -1 149 -1 -160 -1 -36 -1 28 -1 32 -1 -97 -1 156 -1 -71 -1 -29 -1 -68 -1 89 -1 -86 -1 72 -1 -35 -1 231 -1 -211 -1 -55 -1 -57 -1 4 -1 73 -1 19 -1 9 -1 31 -1 25 -1 -39 -1 2 -1 168 -1 -152 -1 -70 -1 72 -1 74 -1 40 -1 -115 -1 128 -1 -62 -1 -80 -1 56 -1 -109 -1 99 -1 -86 -1 88 -1 -95 -1 78 -1 -66 -1 -6 -1 64 -1 18 -1 -37 -1 29 -1 -150 -1 68 -1 226 -1 -215 -1 174 -1 -137 -1 -25 -1 303 -1 -247 -1 -68 -1 152 -1 -94 -1 104 -1 -158 -1 -1 -1 27 -1 77 -1 -14 -1 -11 -1 15 -1 7 -1 10 -1 -7 -1 -58 -1 -34 -1 -10 -1 92 -1 25 -1 12 -1 -101 -1 8 -1 51 -1 -156 -1 269 -1 -122 -1 -42z" transform="translate(26.5,0) scale(1.0883,0.1)" fill="#B3D4EC"/>
<path d="M0 5370l1 -297 1 208 1 -44 1 -237 1 74 1 323 1 -92 1 -122 1 58 1 -142 1 204 1 163 1 -132 1 -100 1 -100 1 -27 1 -69 1 138 1 59 1 -127 1 113 1 49 1 0 1 -192 1 -76 1 22 1 397 1 -368 1 301 1 -107 1 -127 1 261 1 -16 1 -66 1 -334 1 82 1 269 1 -143 1 -1 1 -26 1 138 1 -295 1 247 1 -165 1 340 1 -285 1 32 1 -167 1 538 1 -432 1 -37 1 145 1 -218 1 -109 1 164 1 8 1 -76 1 122 1 -110 1 84 1 173 1 48 1 -307 1 77 1 171 1 -98 1 -199 1 432 1 -114 1 -221 1 -20 1 270 1 -27 1 -161 1 -172 1 187 1 316 1 -460 1 141 1 56 1 93 1 -324 1 123 1 -21 1 4 1 -14 1 -58 1 -123 1 376 1 -137 1 48 1 -295 1 267 1 177 1 -219 1 93 1 -2 1 -43 1 115 1 83 1 -534 1 281 1 108 1 -216 1 -100 1 418 1 -180 1 -103 1 151 1 -179 1 228 1 -81 1 -77 1 -78 1 51 1 96 1 -46 1 237 1 -583 1 345 1 -18 1 -79 1 -44 1 29 1 138 1 132 1 -205 1 84 1 -36 1 -77 1 -34 1 -146 1 196 1 214 1 -317 1 -48 1 350 1 -308 1 56 1 99 1 -98 1 -31 1 -28 1 -76 1 158 1 -1 1 -331 1 476 1 -108" transform="translate(26.5,0) scale(1.0883,0.1)" fill="none" stroke="#B3D4EC" stroke-width="0.8" vector-effect="non-scaling-stroke"/>
<path d="M0 5102l1 -46 1 333 1 -349 1 331 1 -519 1 449 1 -243 1 188 1 -133 1 199 1 -121 1 15 1 -9 1 -96 1 168 1 -16 1 135 1 -161 1 48 1 -188 1 28 1 190 1 -160 1 -119 1 207 1 131 1 -497 1 260 1 -22 1 -247 1 451 1 -152 1 300 1 -328 1 12 1 160 1 8 1 -93 1 6 1 -250 1 249 1 -13 1 1 1 192 1 -153 1 116 1 -203 1 315 1 -148 1 -190 1 320 1 -76 1 -351 1 316 1 -183 1 -45 1 185 1 84 1 -442 1 283 1 -150 1 173 1 -156 1 226 1 7 1 -48 1 -59 1 -3 1 -43 1 -107 1 130 1 -204 1 216 1 -184 1 -91 1 -61 1 507 1 -511 1 475 1 -438 1 193 1 -53 1 175 1 -260 1 31 1 167 1 5 1 -204 1 -27 1 33 1 155 1 -56 1 -130 1 11 1 -43 1 132 1 113 1 -139 1 -25 1 132 1 -137 1 173 1 -152 1 115 1 -375 1 124 1 124 1 213 1 -15 1 -265 1 113 1 -65 1 255 1 -13 1 -223 1 42 1 151 1 -75 1 -219 1 165 1 -141 1 -149 1 178 1 26 1 97 1 -249 1 362 1 -49 1 -149 1 197 1 -337 1 218 1 -159 1 113 1 -9 1 -37 1 269 1 -120 1 -85 1 -369 1 192 1 12 1 240 1 -264 1 -48 1 67 1 -256 1 543 1 -37" transform="translate(26.5,0) scale(1.0883,0.1)" fill="none" stroke="#B3D4EC" stroke-width="0.8" vector-effect="non-scaling-stroke"/>
<path d="M0 5340l1 -139 1 -64 1 73 1 -15 1 -41 1 -51 1 196 1 2 1 -254 1 209 1 67 1 -152 1 87 1 -65 1 25 1 -95 1 -39 1 238 1 52 1 -384 1 311 1 118 1 46 1 -254 1 82 1 161 1 -121 1 15 1 -282 1 103 1 33 1 171 1 -150 1 -116 1 68 1 -124 1 132 1 -85 1 31 1 138 1 -261 1 132 1 -65 1 256 1 2 1 -126 1 84 1 -196 1 27 1 -114 1 86 1 232 1 -285 1 216 1 9 1 -110 1 7 1 -145 1 -246 1 325 1 -142 1 225 1 -78 1 115 1 -16 1 -243 1 119 1 -2 1 168 1 -345 1 255 1 62 1 -89 1 -97 1 -13 1 -101 1 342 1 -88 1 -274 1 -100 1 392 1 -75 1 195 1 -102 1 6 1 -109 1 145 1 -292 1 132 1 24 1 -163 1 159 1 129 1 -175 1 -295 1 279 1 -60 1 95 1 0 1 -101 1 426 1 -194 1 -91 1 -47 1 -237 1 -139 1 245 1 29 1 -41 1 -115 1 337 1 -70 1 -91 1 -21 1 296 1 -319 1 272 1 -323 1 -13 1 421 1 -378 1 39 1 109 1 -215 1 -146 1 204 1 214 1 46 1 -39 1 -22 1 -293 1 113 1 41 1 -124 1 115 1 -3 1 118 1 -30 1 -90 1 163 1 -386 1 209 1 91 1 -208 1 277 1 -289 1 133 1 -244 1 331" transform="translate(26.5,0) scale(1.0883,0.1)" fill="none" stroke="#B3D4EC" stroke-width="0.8" vector-effect="non-scaling-stroke"/>
<path d="M0 5323l1 56 1 -204 1 179 1 -188 1 131 1 -230 1 491 1 -404 1 50 1 7 1 86 1 -324 1 294 1 -114 1 93 1 13 1 -61 1 -80 1 243 1 -88 1 127 1 -246 1 170 1 -16 1 -190 1 89 1 -57 1 73 1 -75 1 42 1 163 1 -181 1 74 1 -15 1 -72 1 112 1 68 1 -307 1 -90 1 296 1 -205 1 102 1 139 1 25 1 -78 1 19 1 -15 1 -30 1 135 1 -273 1 269 1 -10 1 -273 1 20 1 -96 1 177 1 104 1 -246 1 167 1 2 1 96 1 -173 1 375 1 -396 1 342 1 -394 1 328 1 -307 1 -246 1 372 1 118 1 -426 1 322 1 89 1 -325 1 556 1 -188 1 -26 1 -87 1 178 1 -391 1 -30 1 145 1 46 1 154 1 -280 1 157 1 -183 1 -58 1 130 1 292 1 -163 1 -317 1 146 1 -160 1 496 1 -292 1 6 1 195 1 -137 1 -224 1 57 1 144 1 -121 1 -120 1 307 1 -190 1 -105 1 234 1 -275 1 188 1 -167 1 23 1 88 1 73 1 47 1 -115 1 -7 1 -166 1 202 1 -63 1 -184 1 184 1 -20 1 -159 1 205 1 -44 1 -50 1 118 1 134 1 46 1 -173 1 -183 1 17 1 -88 1 98 1 211 1 109 1 -129 1 -35 1 65 1 -228 1 234 1 -188 1 -27 1 344 1 -180 1 -229 1 57" transform="translate(26.5,0) scale(1.0883,0.1)" fill="none" stroke="#B3D4EC" stroke-width="0.8" vector-effect="non-scaling-stroke"/>
<path d="M0 4987l1 -101 1 -88 1 167 1 38 1 -2 1 -166 1 100 1 18 1 -62 1 73 1 -59 1 83 1 -51 1 -23 1 12 1 -15 1 12 1 34 1 -64 1 -164 1 223 1 -38 1 69 1 -259 1 239 1 -82 1 89 1 -86 1 -64 1 119 1 -87 1 109 1 -41 1 49 1 -32 1 -37 1 23 1 -162 1 34 1 56 1 52 1 64 1 -322 1 203 1 -69 1 166 1 11 1 -58 1 -70 1 111 1 -87 1 49 1 27 1 -80 1 -33 1 -71 1 203 1 -246 1 220 1 26 1 -96 1 -78 1 118 1 -98 1 54 1 -23 1 66 1 1 1 -22 1 -20 1 35 1 -113 1 6 1 -13 1 4 1 59 1 -81 1 161 1 -209 1 206 1 -33 1 -40 1 -7 1 42 1 -83 1 82 1 -65 1 59 1 -49 1 93 1 -81 1 3 1 -80 1 181 1 -266 1 -54 1 160 1 126 1 -151 1 -85 1 96 1 74 1 3 1 -172 1 107 1 1 1 -64 1 -11 1 49 1 12 1 36 1 7 1 -8 1 -33 1 -62 1 -29 1 12 1 125 1 -107 1 63 1 -48 1 4 1 85 1 7 1 -42 1 14 1 0 1 26 1 -407 1 312 1 93 1 89 1 -106 1 21 1 -124 1 -97 1 248 1 -134 1 9 1 65 1 -19 1 55 1 -110 1 -21 1 -49 1 170 1 -22 1 4 1 -74L149 5316l-1 186 -1 -119 -1 -61 -1 13 -1 -27 -1 243 -1 -193 -1 14 -1 -8 -1 -85 -1 34 -1 -81 -1 271 -1 -174 -1 108 -1 -85 -1 152 -1 -237 -1 177 -1 -107 -1 174 -1 -167 -1 -57 -1 54 -1 -31 -1 173 -1 -139 -1 -46 -1 -17 -1 6 -1 99 -1 6 -1 97 -1 -119 -1 38 -1 -33 -1 -64 -1 69 -1 -108 -1 85 -1 83 -1 -111 -1 51 -1 -5 -1 -18 -1 96 -1 -38 -1 -60 -1 213 -1 -95 -1 -164 -1 239 -1 -127 -1 41 -1 -57 -1 -47 -1 98 -1 -2 -1 -154 -1 48 -1 -8 -1 -35 -1 92 -1 -43 -1 -54 -1 72 -1 -88 -1 91 -1 6 -1 19 -1 -52 -1 224 -1 -232 -1 95 -1 -106 -1 108 -1 -59 -1 83 -1 -70 -1 -21 -1 -34 -1 112 -1 -109 -1 177 -1 -103 -1 32 -1 -22 -1 -33 -1 115 -1 -84 -1 -33 -1 -72 -1 74 -1 -3 -1 127 -1 -27 -1 -115 -1 92 -1 68 -1 -134 -1 299 -1 -70 -1 -236 -1 79 -1 -16 -1 169 -1 -229 -1 219 -1 -110 -1 126 -1 -231 -1 130 -1 110 -1 -174 -1 104 -1 -112 -1 -50 -1 78 -1 -26 -1 12 -1 17 -1 -13 -1 146 -1 -202 -1 109 -1 62 -1 -195 -1 370 -1 -131 -1 -142 -1 114 -1 -92 -1 50 -1 -67 -1 12 -1 -45 -1 -20 -1 76 -1 -59 -1 -9 -1 97 -1 29 -1 -136 -1 2 -1 89 -1 6 -1 -98 -1 12 -1 111z" transform="translate(26.5,0) scale(1.0883,0.1)" fill="#8E92C8"/>
<path d="M0 5155l1 111 1 -54 1 -201 1 427 1 -261 1 -327 1 226 1 256 1 -138 1 48 1 -405 1 464 1 -54 1 8 1 146 1 252 1 -412 1 -101 1 127 1 -125 1 -36 1 7 1 321 1 -432 1 87 1 6 1 106 1 1 1 71 1 -130 1 -69 1 199 1 -187 1 171 1 -144 1 98 1 -136 1 -145 1 227 1 95 1 -10 1 -143 1 149 1 -200 1 90 1 -84 1 195 1 52 1 -30 1 -155 1 157 1 -201 1 368 1 -189 1 -69 1 222 1 -166 1 118 1 -194 1 21 1 -134 1 211 1 104 1 -148 1 -93 1 3 1 -12 1 -143 1 210 1 -22 1 83 1 -36 1 -222 1 90 1 398 1 -516 1 428 1 -215 1 -188 1 111 1 -60 1 -43 1 74 1 207 1 -220 1 141 1 229 1 -287 1 -115 1 55 1 13 1 -234 1 195 1 -88 1 77 1 -179 1 269 1 -210 1 -88 1 293 1 -192 1 321 1 -226 1 -58 1 209 1 128 1 -250 1 50 1 -71 1 -16 1 -74 1 -99 1 150 1 263 1 -298 1 37 1 32 1 -195 1 177 1 82 1 -111 1 277 1 -345 1 119 1 -220 1 135 1 41 1 24 1 184 1 -149 1 -51 1 -93 1 74 1 -36 1 1 1 162 1 -112 1 70 1 139 1 35 1 -314 1 -82 1 2 1 305 1 -316 1 -7 1 312 1 -168 1 -163" transform="translate(26.5,0) scale(1.0883,0.1)" fill="none" stroke="#8E92C8" stroke-width="0.8" vector-effect="non-scaling-stroke"/>
<path d="M0 5041l1 244 1 -37 1 -163 1 140 1 -38 1 5 1 150 1 -338 1 219 1 26 1 16 1 -69 1 134 1 -242 1 162 1 -152 1 224 1 18 1 -13 1 -155 1 208 1 -292 1 157 1 -166 1 171 1 -161 1 246 1 9 1 -228 1 152 1 -217 1 234 1 -163 1 178 1 122 1 -428 1 220 1 -160 1 105 1 253 1 -285 1 -94 1 -30 1 -48 1 166 1 65 1 -25 1 164 1 -257 1 0 1 49 1 149 1 -193 1 159 1 -243 1 247 1 -12 1 -30 1 94 1 -20 1 -84 1 291 1 -603 1 218 1 9 1 156 1 -147 1 26 1 -16 1 210 1 -185 1 237 1 -230 1 91 1 -40 1 -40 1 -159 1 -53 1 159 1 147 1 -347 1 388 1 -117 1 -47 1 69 1 -282 1 124 1 -92 1 183 1 -159 1 136 1 -2 1 -62 1 -14 1 -26 1 105 1 172 1 -161 1 318 1 -325 1 70 1 -222 1 476 1 -639 1 316 1 168 1 -274 1 -10 1 7 1 -238 1 406 1 -153 1 18 1 112 1 -133 1 -132 1 285 1 -177 1 -76 1 47 1 304 1 -255 1 90 1 -219 1 182 1 -283 1 432 1 -235 1 186 1 -359 1 27 1 338 1 -228 1 108 1 214 1 -79 1 -154 1 -57 1 121 1 -90 1 -3 1 4 1 200 1 -179 1 -53 1 274 1 -409 1 11 1 176" transform="translate(26.5,0) scale(1.0883,0.1)" fill="none" stroke="#8E92C8" stroke-width="0.8" vector-effect="non-scaling-stroke"/>
<path d="M0 5314l1 20 1 -43 1 14 1 -347 1 244 1 15 1 -57 1 -166 1 193 1 74 1 -88 1 -133 1 197 1 -218 1 149 1 65 1 -91 1 -201 1 300 1 -220 1 109 1 54 1 14 1 -105 1 27 1 32 1 -40 1 205 1 -30 1 46 1 -89 1 -20 1 20 1 -123 1 199 1 -97 1 -151 1 -111 1 218 1 -156 1 -25 1 321 1 -171 1 172 1 -91 1 -109 1 224 1 -244 1 89 1 12 1 -106 1 181 1 115 1 -234 1 99 1 -72 1 120 1 -24 1 11 1 32 1 -65 1 -6 1 -111 1 -423 1 506 1 129 1 -293 1 241 1 -47 1 -76 1 -54 1 -6 1 -25 1 46 1 -166 1 34 1 183 1 -46 1 151 1 -273 1 115 1 -285 1 344 1 -297 1 325 1 100 1 -113 1 -162 1 -92 1 251 1 -249 1 198 1 -3 1 -30 1 -263 1 194 1 -18 1 241 1 -226 1 -17 1 -182 1 333 1 -24 1 27 1 -37 1 -179 1 195 1 -278 1 164 1 125 1 -36 1 95 1 10 1 -349 1 35 1 247 1 -72 1 -275 1 310 1 -127 1 -39 1 93 1 -2 1 19 1 -62 1 224 1 -216 1 -18 1 201 1 -238 1 184 1 226 1 -92 1 -272 1 -63 1 132 1 137 1 -173 1 -144 1 129 1 190 1 -259 1 90 1 -4 1 -31 1 -67 1 90 1 115 1 -114" transform="translate(26.5,0) scale(1.0883,0.1)" fill="none" stroke="#8E92C8" stroke-width="0.8" vector-effect="non-scaling-stroke"/>
<path d="M0 5053l1 322 1 -144 1 99 1 -152 1 109 1 339 1 -538 1 216 1 58 1 55 1 -58 1 30 1 -154 1 -39 1 30 1 -59 1 159 1 -192 1 94 1 -74 1 -23 1 130 1 -215 1 58 1 160 1 -290 1 11 1 427 1 94 1 -219 1 -146 1 -64 1 35 1 89 1 -132 1 32 1 152 1 -84 1 -119 1 225 1 -3 1 26 1 -307 1 103 1 -25 1 161 1 -48 1 -167 1 197 1 -197 1 159 1 -2 1 -78 1 -43 1 -121 1 278 1 -273 1 324 1 11 1 182 1 -412 1 -87 1 355 1 -119 1 -11 1 171 1 -218 1 -33 1 105 1 67 1 -155 1 -64 1 266 1 -177 1 -90 1 446 1 -418 1 -188 1 398 1 -347 1 211 1 -121 1 99 1 129 1 75 1 -548 1 494 1 -144 1 -228 1 148 1 16 1 289 1 -187 1 93 1 60 1 -289 1 -64 1 212 1 -17 1 -146 1 -61 1 256 1 -298 1 30 1 123 1 147 1 -225 1 -17 1 -144 1 314 1 -293 1 257 1 -118 1 84 1 -27 1 -186 1 287 1 -203 1 145 1 -31 1 90 1 -123 1 292 1 -232 1 -171 1 22 1 330 1 -68 1 -95 1 -306 1 307 1 -56 1 31 1 -73 1 162 1 -157 1 -29 1 -76 1 258 1 -239 1 -136 1 152 1 14 1 420 1 -507 1 -77 1 94 1 96 1 -43" transform="translate(26.5,0) scale(1.0883,0.1)" fill="none" stroke="#8E92C8" stroke-width="0.8" vector-effect="non-scaling-stroke"/>
<path d="M27.6 515.2H187.6" stroke="#222" stroke-width="1"/>
<polyline points="26.5,520.7 27.6,520.7 28.7,520.7 29.8,520.7 30.9,520.7 32,520.7 33,520.7 34.1,520.7 35.2,520.7 36.3,520.6 37.4,520.6 38.5,520.6 39.6,520.6 40.7,520.6 41.8,520.6 42.8,520.6 43.9,520.6 45,520.5 46.1,520.5 47.2,520.5 48.3,520.5 49.4,520.4 50.5,520.4 51.5,520.4 52.6,520.3 53.7,520.3 54.8,520.2 55.9,520.2 57,520.1 58.1,520 59.2,520 60.3,519.9 61.3,519.8 62.4,519.7 63.5,519.7 64.6,519.6 65.7,519.5 66.8,519.4 67.9,519.2 69,519.1 70,519 71.1,518.9 72.2,518.8 73.3,518.6 74.4,518.5 75.5,518.3 76.6,518.2 77.7,518 78.8,517.8 79.8,517.6 80.9,517.5 82,517.3 83.1,517.1 84.2,516.9 85.3,516.6 86.4,516.4 87.5,516.2 88.6,516 89.6,515.7 90.7,515.5 91.8,515.2 92.9,515 94,514.7 95.1,514.4 96.2,514.1 97.3,513.9 98.3,513.6 99.4,513.3 100.5,513 101.6,512.6 102.7,512.3 103.8,512 104.9,511.7 106,511.3 107.1,511 108.1,510.6 109.2,510.2 110.3,509.9 111.4,509.5 112.5,509.1 113.6,508.7 114.7,508.4 115.8,508 116.8,507.6 117.9,507.1 119,506.7 120.1,506.3 121.2,505.9 122.3,505.5 123.4,505 124.5,504.6 125.6,504.1 126.6,503.7 127.7,503.2 128.8,502.8 129.9,502.3 131,501.9 132.1,501.4 133.2,500.9 134.3,500.4 135.3,500 136.4,499.5 137.5,499 138.6,498.5 139.7,498 140.8,497.5 141.9,497 143,496.5 144.1,496.1 145.1,495.6 146.2,495.1 147.3,494.6 148.4,494.1 149.5,493.6 150.6,493.1 151.7,492.6 152.8,492.1 153.8,491.6 154.9,491.1 156,490.6 157.1,490.1 158.2,489.6 159.3,489.1 160.4,488.6 161.5,488.1 162.6,487.6 163.6,487.2 164.7,486.7 165.8,486.2 166.9,485.8 168,485.3 169.1,484.8 170.2,484.4 171.3,483.9 172.3,483.5 173.4,483.1 174.5,482.6 175.6,482.2 176.7,481.8 177.8,481.4 178.9,481 180,480.6 181.1,480.3 182.1,479.9 183.2,479.5 184.3,479.2 185.4,478.9 186.5,478.5 187.6,478.2 188.7,477.9" fill="none" stroke="#D8212A" stroke-width="3"/>
<polyline points="26.5,520.7 27.6,520.7 28.7,520.7 29.8,520.7 30.9,520.7 32,520.7 33,520.7 34.1,520.7 35.2,520.7 36.3,520.7 37.4,520.7 38.5,520.7 39.6,520.7 40.7,520.7 41.8,520.7 42.8,520.7 43.9,520.6 45,520.6 46.1,520.6 47.2,520.6 48.3,520.5 49.4,520.5 50.5,520.4 51.5,520.4 52.6,520.3 53.7,520.3 54.8,520.2 55.9,520.2 57,520.1 58.1,520 59.2,519.9 60.3,519.9 61.3,519.8 62.4,519.7 63.5,519.6 64.6,519.5 65.7,519.4 66.8,519.3 67.9,519.1 69,519 70,518.9 71.1,518.7 72.2,518.6 73.3,518.5 74.4,518.3 75.5,518.2 76.6,518 77.7,517.8 78.8,517.7 79.8,517.5 80.9,517.3 82,517.1 83.1,516.9 84.2,516.7 85.3,516.5 86.4,516.3 87.5,516.1 88.6,515.9 89.6,515.6 90.7,515.4 91.8,515.2 92.9,514.9 94,514.7 95.1,514.4 96.2,514.2 97.3,513.9 98.3,513.7 99.4,513.4 100.5,513.1 101.6,512.8 102.7,512.6 103.8,512.3 104.9,512 106,511.7 107.1,511.4 108.1,511.1 109.2,510.8 110.3,510.4 111.4,510.1 112.5,509.8 113.6,509.5 114.7,509.1 115.8,508.8 116.8,508.5 117.9,508.1 119,507.8 120.1,507.4 121.2,507.1 122.3,506.7 123.4,506.4 124.5,506 125.6,505.7 126.6,505.3 127.7,505 128.8,504.6 129.9,504.2 131,503.9 132.1,503.5 133.2,503.1 134.3,502.8 135.3,502.4 136.4,502 137.5,501.6 138.6,501.3 139.7,500.9 140.8,500.5 141.9,500.2 143,499.8 144.1,499.4 145.1,499.1 146.2,498.7 147.3,498.3 148.4,498 149.5,497.6 150.6,497.2 151.7,496.9 152.8,496.5 153.8,496.2 154.9,495.8 156,495.5 157.1,495.2 158.2,494.8 159.3,494.5 160.4,494.2 161.5,493.9 162.6,493.6 163.6,493.2 164.7,492.9 165.8,492.6 166.9,492.4 168,492.1 169.1,491.8 170.2,491.5 171.3,491.3 172.3,491 173.4,490.8 174.5,490.5 175.6,490.3 176.7,490.1 177.8,489.9 178.9,489.7 180,489.5 181.1,489.3 182.1,489.2 183.2,489 184.3,488.9 185.4,488.7 186.5,488.6 187.6,488.5 188.7,488.4" fill="none" stroke="#EA7A33" stroke-width="3"/>
<polyline points="26.5,520.6 27.6,520.7 28.7,520.7 29.8,520.7 30.9,520.8 32,520.8 33,520.8 34.1,520.8 35.2,520.8 36.3,520.8 37.4,520.8 38.5,520.8 39.6,520.8 40.7,520.8 41.8,520.8 42.8,520.8 43.9,520.8 45,520.8 46.1,520.7 47.2,520.7 48.3,520.6 49.4,520.6 50.5,520.5 51.5,520.5 52.6,520.4 53.7,520.4 54.8,520.3 55.9,520.2 57,520.1 58.1,520 59.2,520 60.3,519.9 61.3,519.8 62.4,519.7 63.5,519.6 64.6,519.4 65.7,519.3 66.8,519.2 67.9,519.1 69,518.9 70,518.8 71.1,518.7 72.2,518.5 73.3,518.4 74.4,518.2 75.5,518 76.6,517.9 77.7,517.7 78.8,517.5 79.8,517.4 80.9,517.2 82,517 83.1,516.8 84.2,516.6 85.3,516.4 86.4,516.2 87.5,516 88.6,515.8 89.6,515.6 90.7,515.3 91.8,515.1 92.9,514.9 94,514.7 95.1,514.4 96.2,514.2 97.3,513.9 98.3,513.7 99.4,513.5 100.5,513.2 101.6,513 102.7,512.7 103.8,512.4 104.9,512.2 106,511.9 107.1,511.6 108.1,511.4 109.2,511.1 110.3,510.8 111.4,510.6 112.5,510.3 113.6,510 114.7,509.7 115.8,509.4 116.8,509.1 117.9,508.9 119,508.6 120.1,508.3 121.2,508 122.3,507.7 123.4,507.4 124.5,507.1 125.6,506.8 126.6,506.6 127.7,506.3 128.8,506 129.9,505.7 131,505.4 132.1,505.1 133.2,504.8 134.3,504.5 135.3,504.2 136.4,504 137.5,503.7 138.6,503.4 139.7,503.1 140.8,502.8 141.9,502.6 143,502.3 144.1,502 145.1,501.7 146.2,501.5 147.3,501.2 148.4,501 149.5,500.7 150.6,500.4 151.7,500.2 152.8,500 153.8,499.7 154.9,499.5 156,499.3 157.1,499 158.2,498.8 159.3,498.6 160.4,498.4 161.5,498.2 162.6,498 163.6,497.8 164.7,497.6 165.8,497.4 166.9,497.3 168,497.1 169.1,496.9 170.2,496.8 171.3,496.7 172.3,496.5 173.4,496.4 174.5,496.3 175.6,496.2 176.7,496.1 177.8,496 178.9,495.9 180,495.9 181.1,495.8 182.1,495.8 183.2,495.7 184.3,495.7 185.4,495.7 186.5,495.7 187.6,495.7 188.7,495.7" fill="none" stroke="#7EB0DA" stroke-width="3"/>
<polyline points="26.5,520.6 27.6,520.6 28.7,520.7 29.8,520.8 30.9,520.8 32,520.9 33,520.9 34.1,521 35.2,521 36.3,521 37.4,521 38.5,521 39.6,521 40.7,521 41.8,521 42.8,521 43.9,520.9 45,520.9 46.1,520.9 47.2,520.8 48.3,520.8 49.4,520.7 50.5,520.6 51.5,520.6 52.6,520.5 53.7,520.4 54.8,520.3 55.9,520.2 57,520.1 58.1,520 59.2,519.9 60.3,519.8 61.3,519.7 62.4,519.5 63.5,519.4 64.6,519.3 65.7,519.1 66.8,519 67.9,518.9 69,518.7 70,518.6 71.1,518.4 72.2,518.2 73.3,518.1 74.4,517.9 75.5,517.8 76.6,517.6 77.7,517.4 78.8,517.3 79.8,517.1 80.9,516.9 82,516.7 83.1,516.6 84.2,516.4 85.3,516.2 86.4,516 87.5,515.8 88.6,515.6 89.6,515.4 90.7,515.3 91.8,515.1 92.9,514.9 94,514.7 95.1,514.5 96.2,514.3 97.3,514.1 98.3,513.9 99.4,513.7 100.5,513.5 101.6,513.3 102.7,513.1 103.8,512.9 104.9,512.7 106,512.6 107.1,512.4 108.1,512.2 109.2,512 110.3,511.8 111.4,511.6 112.5,511.4 113.6,511.2 114.7,511 115.8,510.9 116.8,510.7 117.9,510.5 119,510.3 120.1,510.1 121.2,510 122.3,509.8 123.4,509.6 124.5,509.4 125.6,509.3 126.6,509.1 127.7,508.9 128.8,508.8 129.9,508.6 131,508.5 132.1,508.3 133.2,508.2 134.3,508 135.3,507.9 136.4,507.7 137.5,507.6 138.6,507.5 139.7,507.3 140.8,507.2 141.9,507.1 143,506.9 144.1,506.8 145.1,506.7 146.2,506.6 147.3,506.5 148.4,506.4 149.5,506.3 150.6,506.2 151.7,506.1 152.8,506 153.8,505.9 154.9,505.8 156,505.7 157.1,505.7 158.2,505.6 159.3,505.5 160.4,505.5 161.5,505.4 162.6,505.3 163.6,505.3 164.7,505.2 165.8,505.2 166.9,505.2 168,505.1 169.1,505.1 170.2,505.1 171.3,505.1 172.3,505.1 173.4,505 174.5,505 175.6,505 176.7,505.1 177.8,505.1 178.9,505.1 180,505.1 181.1,505.1 182.1,505.2 183.2,505.2 184.3,505.2 185.4,505.3 186.5,505.3 187.6,505.4 188.7,505.5" fill="none" stroke="#284894" stroke-width="3"/>
</g>
<path d="M37.1 447.7H65" stroke="#D8212A" stroke-width="2.9"/>
<text x="68.2" y="450.7" font-size="8.3" text-anchor="start" font-weight="normal" fill="#262626" stroke="#262626" stroke-width="0.22" >SSP5-8.5</text>
<path d="M37.1 458.6H65" stroke="#EA7A33" stroke-width="2.9"/>
<text x="68.2" y="461.6" font-size="8.3" text-anchor="start" font-weight="normal" fill="#262626" stroke="#262626" stroke-width="0.22" >SSP3-7.0</text>
<path d="M37.1 469.4H65" stroke="#7EB0DA" stroke-width="2.9"/>
<text x="68.2" y="472.4" font-size="8.3" text-anchor="start" font-weight="normal" fill="#262626" stroke="#262626" stroke-width="0.22" >SSP2-4.5</text>
<path d="M37.1 480.2H65" stroke="#284894" stroke-width="2.9"/>
<text x="68.2" y="483.2" font-size="8.3" text-anchor="start" font-weight="normal" fill="#262626" stroke="#262626" stroke-width="0.22" >SSP1-2.6</text>
<text x="168.6" y="554.5" font-size="9" text-anchor="start" font-weight="normal" fill="#262626" stroke="#262626" stroke-width="0.22" >(g)</text>
<rect x="27.6" y="436.4" width="160" height="126.6" fill="none" stroke="#707070" stroke-width="1"/>
<path d="M37.4 563v-3.2M37.4 436.4v3.2" stroke="#707070" stroke-width="1"/>
<path d="M59.2 563v-3.2M59.2 436.4v3.2" stroke="#707070" stroke-width="1"/>
<path d="M80.9 563v-3.2M80.9 436.4v3.2" stroke="#707070" stroke-width="1"/>
<path d="M102.7 563v-3.2M102.7 436.4v3.2" stroke="#707070" stroke-width="1"/>
<path d="M124.5 563v-3.2M124.5 436.4v3.2" stroke="#707070" stroke-width="1"/>
<path d="M146.2 563v-3.2M146.2 436.4v3.2" stroke="#707070" stroke-width="1"/>
<path d="M168 563v-3.2M168 436.4v3.2" stroke="#707070" stroke-width="1"/>
<path d="M27.6 541.5h3.2M187.6 541.5h-3.2" stroke="#707070" stroke-width="1"/>
<path d="M27.6 515.2h3.2M187.6 515.2h-3.2" stroke="#707070" stroke-width="1"/>
<path d="M27.6 489h3.2M187.6 489h-3.2" stroke="#707070" stroke-width="1"/>
<path d="M27.6 462.7h3.2M187.6 462.7h-3.2" stroke="#707070" stroke-width="1"/>
<path d="M27.6 436.5h3.2M187.6 436.5h-3.2" stroke="#707070" stroke-width="1"/>
<text x="37.4" y="576.2" font-size="9.2" text-anchor="middle" font-weight="normal" fill="#262626" stroke="#262626" stroke-width="0.22" >1960</text>
<text x="59.2" y="576.2" font-size="9.2" text-anchor="middle" font-weight="normal" fill="#262626" stroke="#262626" stroke-width="0.22" >1980</text>
<text x="80.9" y="576.2" font-size="9.2" text-anchor="middle" font-weight="normal" fill="#262626" stroke="#262626" stroke-width="0.22" >2000</text>
<text x="102.7" y="576.2" font-size="9.2" text-anchor="middle" font-weight="normal" fill="#262626" stroke="#262626" stroke-width="0.22" >2020</text>
<text x="124.5" y="576.2" font-size="9.2" text-anchor="middle" font-weight="normal" fill="#262626" stroke="#262626" stroke-width="0.22" >2040</text>
<text x="146.2" y="576.2" font-size="9.2" text-anchor="middle" font-weight="normal" fill="#262626" stroke="#262626" stroke-width="0.22" >2060</text>
<text x="168" y="576.2" font-size="9.2" text-anchor="middle" font-weight="normal" fill="#262626" stroke="#262626" stroke-width="0.22" >2080</text>
<text x="23.6" y="544.8" font-size="9.2" text-anchor="end" font-weight="normal" fill="#262626" stroke="#262626" stroke-width="0.22" >-5</text>
<text x="23.6" y="518.5" font-size="9.2" text-anchor="end" font-weight="normal" fill="#262626" stroke="#262626" stroke-width="0.22" >0</text>
<text x="23.6" y="492.3" font-size="9.2" text-anchor="end" font-weight="normal" fill="#262626" stroke="#262626" stroke-width="0.22" >5</text>
<text x="23.6" y="466" font-size="9.2" text-anchor="end" font-weight="normal" fill="#262626" stroke="#262626" stroke-width="0.22" >10</text>
<text x="23.6" y="439.8" font-size="9.2" text-anchor="end" font-weight="normal" fill="#262626" stroke="#262626" stroke-width="0.22" >15</text>
<text x="108.6" y="590.1" font-size="10.3" text-anchor="middle" font-weight="normal" fill="#262626" stroke="#262626" stroke-width="0.22" >Time (Year)</text>
<text transform="translate(9.6,499.7) rotate(-90)" font-size="10.4" text-anchor="middle" fill="#262626" stroke="#262626" stroke-width="0.22">Temperature change (K)</text>
<g clip-path="url(#c01)">
<polyline points="220.5,157.1 221.5,157.1 222.4,157.1 223.3,157.1 224.2,157.1 225.1,157.1 226.1,157.1 227,157.1 227.9,157.1 228.8,157.1 229.7,157.1 230.6,157.1 231.6,157.1 232.5,157.1 233.4,157.1 234.3,157.1 235.2,157.1 236.2,157.1 237.1,157.1 238,157.1 238.9,157.1 239.8,157.1 240.8,157.1 241.7,157.1 242.6,157.1 243.5,157.1 244.4,157.1 245.4,157.1 246.3,157.1 247.2,157.1 248.1,157.1 249,157.1 249.9,157.1 250.9,157.1 251.8,157.1 252.7,157.1 253.6,157.1 254.5,157.1 255.5,157.1 256.4,157.1 257.3,157.1 258.2,157.1 259.1,157.1 260.1,157.1 261,157.1 261.9,157.1 262.8,157.1 263.7,157.1 264.7,157.1 265.6,157.1 266.5,157.1 267.4,157.1 268.3,157.1 269.2,157.1 270.2,157.1 271.1,157.1 272,157.1 272.9,157.1 273.8,157.1 274.8,157.1 275.7,157.1 276.6,157.1 277.5,157.1 278.4,157.1 279.4,157.1 280.3,157.1 281.2,157.1 282.1,157.1 283,157.1 283.9,157.1 284.9,157.1 285.8,157.1 286.7,157.1 287.6,157.1 288.5,157.1 289.5,157.1 290.4,157.1 291.3,157.1 292.2,157.1 293.1,157.1 294.1,157.1 295,157.1 295.9,157.1 296.8,157.1 297.7,157.1 298.7,157.1 299.6,157.1 300.5,157.1 301.4,157.1 302.3,157.1 303.2,157.1 304.2,157.1 305.1,157.1 306,157.1 306.9,157.1 307.8,157.1 308.8,157.1 309.7,157.1 310.6,157.1 311.5,157.1 312.4,157.1 313.4,157.1 314.3,157.1 315.2,157.1 316.1,157.1 317,157.1 318,157.1 318.9,157.1 319.8,157.1 320.7,157.1 321.6,157.1 322.5,157.1 323.5,157.1 324.4,157.1 325.3,157.1 326.2,157.1 327.1,157.1 328.1,157.1 329,157.1 329.9,157.1 330.8,157.1 331.7,157.1 332.7,157.1 333.6,157.1 334.5,157.1 335.4,157.1 336.3,157.1 337.3,157.1 338.2,157.1 339.1,157.1 340,157.1 340.9,157.1 341.8,157.1 342.8,157.1 343.7,157.1 344.6,157.1 345.5,157.1 346.4,157.1 347.4,157.1 348.3,157.1 349.2,157.1 350.1,157.1 351,157.1 352,157.1 352.9,157.1 353.8,157.1 354.7,157.1 355.6,157.1 356.6,157.1 357.5,157.1 358.4,157.1 359.3,157.1 360.2,157.1 361.1,157.1 362.1,157.1 363,157.1 363.9,157.1 364.8,157.1 365.7,157.1 366.7,157.1 367.6,157.1 368.5,157.1 369.4,157.1 370.3,157.1 371.3,157.1 372.2,157.1 373.1,157.1 374,157.1 374.9,157.1 375.9,157.1 376.8,157.1 377.7,157.1 378.6,157.1 379.5,157.1 380.4,157.1 381.4,157.1 382.3,157.1" fill="none" stroke="#F07021" stroke-width="2"/>
<polyline points="220.5,157.5 221.5,157.5 222.4,157.5 223.3,157.5 224.2,157.5 225.1,157.5 226.1,157.5 227,157.5 227.9,157.5 228.8,157.5 229.7,157.5 230.6,157.5 231.6,157.5 232.5,157.5 233.4,157.5 234.3,157.5 235.2,157.5 236.2,157.4 237.1,157.4 238,157.4 238.9,157.4 239.8,157.4 240.8,157.4 241.7,157.4 242.6,157.3 243.5,157.3 244.4,157.3 245.4,157.3 246.3,157.2 247.2,157.2 248.1,157.2 249,157.1 249.9,157.1 250.9,157.1 251.8,157 252.7,157 253.6,156.9 254.5,156.9 255.5,156.8 256.4,156.8 257.3,156.7 258.2,156.7 259.1,156.6 260.1,156.5 261,156.5 261.9,156.4 262.8,156.3 263.7,156.3 264.7,156.2 265.6,156.1 266.5,156 267.4,155.9 268.3,155.8 269.2,155.7 270.2,155.6 271.1,155.5 272,155.4 272.9,155.3 273.8,155.2 274.8,155.1 275.7,155 276.6,154.9 277.5,154.8 278.4,154.6 279.4,154.5 280.3,154.4 281.2,154.2 282.1,154.1 283,153.9 283.9,153.8 284.9,153.6 285.8,153.5 286.7,153.3 287.6,153.2 288.5,153 289.5,152.8 290.4,152.7 291.3,152.5 292.2,152.3 293.1,152.1 294.1,151.9 295,151.7 295.9,151.5 296.8,151.3 297.7,151.1 298.7,150.9 299.6,150.7 300.5,150.5 301.4,150.2 302.3,150 303.2,149.8 304.2,149.5 305.1,149.3 306,149.1 306.9,148.8 307.8,148.5 308.8,148.3 309.7,148 310.6,147.8 311.5,147.5 312.4,147.2 313.4,146.9 314.3,146.6 315.2,146.3 316.1,146 317,145.7 318,145.4 318.9,145.1 319.8,144.8 320.7,144.5 321.6,144.1 322.5,143.8 323.5,143.5 324.4,143.1 325.3,142.8 326.2,142.4 327.1,142.1 328.1,141.7 329,141.3 329.9,141 330.8,140.6 331.7,140.2 332.7,139.8 333.6,139.4 334.5,139 335.4,138.6 336.3,138.2 337.3,137.8 338.2,137.4 339.1,136.9 340,136.5 340.9,136.1 341.8,135.6 342.8,135.2 343.7,134.7 344.6,134.2 345.5,133.8 346.4,133.3 347.4,132.8 348.3,132.3 349.2,131.8 350.1,131.3 351,130.8 352,130.3 352.9,129.8 353.8,129.3 354.7,128.8 355.6,128.2 356.6,127.7 357.5,127.2 358.4,126.6 359.3,126 360.2,125.5 361.1,124.9 362.1,124.3 363,123.8 363.9,123.2 364.8,122.6 365.7,122 366.7,121.4 367.6,120.8 368.5,120.1 369.4,119.5 370.3,118.9 371.3,118.2 372.2,117.6 373.1,116.9 374,116.3 374.9,115.6 375.9,114.9 376.8,114.3 377.7,113.6 378.6,112.9 379.5,112.2 380.4,111.5 381.4,110.8 382.3,110" fill="none" stroke="#3450A6" stroke-width="2"/>
<polyline points="220.5,157.5 221.5,157.5 222.4,157.5 223.3,157.5 224.2,157.5 225.1,157.5 226.1,157.5 227,157.5 227.9,157.5 228.8,157.5 229.7,157.5 230.6,157.5 231.6,157.5 232.5,157.5 233.4,157.5 234.3,157.5 235.2,157.5 236.2,157.5 237.1,157.5 238,157.5 238.9,157.5 239.8,157.5 240.8,157.5 241.7,157.5 242.6,157.5 243.5,157.5 244.4,157.5 245.4,157.5 246.3,157.5 247.2,157.5 248.1,157.5 249,157.5 249.9,157.5 250.9,157.4 251.8,157.4 252.7,157.4 253.6,157.4 254.5,157.4 255.5,157.4 256.4,157.4 257.3,157.3 258.2,157.3 259.1,157.3 260.1,157.3 261,157.2 261.9,157.2 262.8,157.2 263.7,157.1 264.7,157.1 265.6,157.1 266.5,157 267.4,157 268.3,156.9 269.2,156.9 270.2,156.8 271.1,156.7 272,156.7 272.9,156.6 273.8,156.5 274.8,156.5 275.7,156.4 276.6,156.3 277.5,156.2 278.4,156.1 279.4,156 280.3,155.9 281.2,155.8 282.1,155.7 283,155.5 283.9,155.4 284.9,155.3 285.8,155.1 286.7,155 287.6,154.8 288.5,154.6 289.5,154.5 290.4,154.3 291.3,154.1 292.2,153.9 293.1,153.7 294.1,153.5 295,153.3 295.9,153.1 296.8,152.8 297.7,152.6 298.7,152.3 299.6,152.1 300.5,151.8 301.4,151.5 302.3,151.2 303.2,150.9 304.2,150.6 305.1,150.3 306,150 306.9,149.6 307.8,149.3 308.8,148.9 309.7,148.5 310.6,148.1 311.5,147.7 312.4,147.3 313.4,146.9 314.3,146.4 315.2,146 316.1,145.5 317,145 318,144.6 318.9,144 319.8,143.5 320.7,143 321.6,142.4 322.5,141.9 323.5,141.3 324.4,140.7 325.3,140.1 326.2,139.5 327.1,138.8 328.1,138.1 329,137.5 329.9,136.8 330.8,136.1 331.7,135.3 332.7,134.6 333.6,133.8 334.5,133 335.4,132.2 336.3,131.4 337.3,130.6 338.2,129.7 339.1,128.8 340,127.9 340.9,127 341.8,126.1 342.8,125.1 343.7,124.1 344.6,123.1 345.5,122.1 346.4,121 347.4,120 348.3,118.9 349.2,117.8 350.1,116.6 351,115.5 352,114.3 352.9,113.1 353.8,111.8 354.7,110.6 355.6,109.3 356.6,108 357.5,106.6 358.4,105.3 359.3,103.9 360.2,102.5 361.1,101 362.1,99.6 363,98.1 363.9,96.5 364.8,95 365.7,93.4 366.7,91.8 367.6,90.2 368.5,88.5 369.4,86.8 370.3,85.1 371.3,83.3 372.2,81.5 373.1,79.7 374,77.8 374.9,76 375.9,74 376.8,72.1 377.7,70.1 378.6,68.1 379.5,66.1 380.4,64 381.4,61.9 382.3,59.7" fill="none" stroke="#0B7F3F" stroke-width="2"/>
<polyline points="220.5,157.1 221.5,157.1 222.4,157.1 223.3,157.1 224.2,157.1 225.1,157.1 226.1,157.1 227,157.1 227.9,157.1 228.8,157.1 229.7,157.1 230.6,157.1 231.6,157.1 232.5,157.1 233.4,157.1 234.3,157 235.2,157 236.2,157 237.1,157 238,157 238.9,157 239.8,157 240.8,157 241.7,156.9 242.6,156.9 243.5,156.9 244.4,156.9 245.4,156.8 246.3,156.8 247.2,156.8 248.1,156.7 249,156.7 249.9,156.6 250.9,156.6 251.8,156.5 252.7,156.5 253.6,156.4 254.5,156.4 255.5,156.3 256.4,156.2 257.3,156.1 258.2,156.1 259.1,156 260.1,155.9 261,155.8 261.9,155.7 262.8,155.6 263.7,155.5 264.7,155.4 265.6,155.2 266.5,155.1 267.4,155 268.3,154.8 269.2,154.7 270.2,154.5 271.1,154.4 272,154.2 272.9,154 273.8,153.8 274.8,153.7 275.7,153.5 276.6,153.2 277.5,153 278.4,152.8 279.4,152.6 280.3,152.3 281.2,152.1 282.1,151.8 283,151.6 283.9,151.3 284.9,151 285.8,150.7 286.7,150.4 287.6,150.1 288.5,149.7 289.5,149.4 290.4,149 291.3,148.7 292.2,148.3 293.1,147.9 294.1,147.5 295,147.1 295.9,146.7 296.8,146.2 297.7,145.8 298.7,145.3 299.6,144.8 300.5,144.3 301.4,143.8 302.3,143.3 303.2,142.8 304.2,142.2 305.1,141.7 306,141.1 306.9,140.5 307.8,139.9 308.8,139.3 309.7,138.6 310.6,138 311.5,137.3 312.4,136.6 313.4,135.9 314.3,135.2 315.2,134.4 316.1,133.6 317,132.9 318,132.1 318.9,131.2 319.8,130.4 320.7,129.5 321.6,128.7 322.5,127.8 323.5,126.8 324.4,125.9 325.3,124.9 326.2,124 327.1,123 328.1,121.9 329,120.9 329.9,119.8 330.8,118.7 331.7,117.6 332.7,116.5 333.6,115.3 334.5,114.1 335.4,112.9 336.3,111.7 337.3,110.4 338.2,109.1 339.1,107.8 340,106.5 340.9,105.1 341.8,103.8 342.8,102.3 343.7,100.9 344.6,99.4 345.5,97.9 346.4,96.4 347.4,94.9 348.3,93.3 349.2,91.7 350.1,90 351,88.4 352,86.7 352.9,85 353.8,83.2 354.7,81.4 355.6,79.6 356.6,77.7 357.5,75.9 358.4,74 359.3,72 360.2,70 361.1,68 362.1,66 363,63.9 363.9,61.8 364.8,59.6 365.7,57.5 366.7,55.2 367.6,53 368.5,50.7 369.4,48.4 370.3,46 371.3,43.6 372.2,41.2 373.1,38.7 374,36.2 374.9,33.7 375.9,31.1 376.8,28.4 377.7,25.8 378.6,23.1 379.5,20.3 380.4,17.5 381.4,14.7 382.3,11.8" fill="none" stroke="#111111" stroke-width="2"/>
</g>
<path d="M230.8 42.8H258.5" stroke="#111111" stroke-width="2"/>
<text x="261.7" y="45.8" font-size="8.3" text-anchor="start" font-weight="normal" fill="#262626" stroke="#262626" stroke-width="0.22" >Total</text>
<path d="M230.8 53.6H258.5" stroke="#F07021" stroke-width="2"/>
<text x="261.7" y="56.6" font-size="8.3" text-anchor="start" font-weight="normal" fill="#262626" stroke="#262626" stroke-width="0.22" >Internal variability</text>
<path d="M230.8 64.4H258.5" stroke="#3450A6" stroke-width="2"/>
<text x="261.7" y="67.4" font-size="8.3" text-anchor="start" font-weight="normal" fill="#262626" stroke="#262626" stroke-width="0.22" >Response</text>
<path d="M230.8 75.2H258.5" stroke="#0B7F3F" stroke-width="2"/>
<text x="261.7" y="78.2" font-size="8.3" text-anchor="start" font-weight="normal" fill="#262626" stroke="#262626" stroke-width="0.22" >Scenario</text>
<text x="362" y="149" font-size="9" text-anchor="start" font-weight="normal" fill="#262626" stroke="#262626" stroke-width="0.22" >(b)</text>
<rect x="221.6" y="31.2" width="159.4" height="126.3" fill="none" stroke="#707070" stroke-width="1"/>
<path d="M238 157.5v-3.2M238 31.2v3.2" stroke="#707070" stroke-width="1"/>
<path d="M274.8 157.5v-3.2M274.8 31.2v3.2" stroke="#707070" stroke-width="1"/>
<path d="M311.5 157.5v-3.2M311.5 31.2v3.2" stroke="#707070" stroke-width="1"/>
<path d="M348.3 157.5v-3.2M348.3 31.2v3.2" stroke="#707070" stroke-width="1"/>
<path d="M221.6 157.5h3.2M381 157.5h-3.2" stroke="#707070" stroke-width="1"/>
<path d="M221.6 115.4h3.2M381 115.4h-3.2" stroke="#707070" stroke-width="1"/>
<path d="M221.6 73.3h3.2M381 73.3h-3.2" stroke="#707070" stroke-width="1"/>
<path d="M221.6 31.2h3.2M381 31.2h-3.2" stroke="#707070" stroke-width="1"/>
<text x="238" y="170.7" font-size="9.2" text-anchor="middle" font-weight="normal" fill="#262626" stroke="#262626" stroke-width="0.22" >2020</text>
<text x="274.8" y="170.7" font-size="9.2" text-anchor="middle" font-weight="normal" fill="#262626" stroke="#262626" stroke-width="0.22" >2040</text>
<text x="311.5" y="170.7" font-size="9.2" text-anchor="middle" font-weight="normal" fill="#262626" stroke="#262626" stroke-width="0.22" >2060</text>
<text x="348.3" y="170.7" font-size="9.2" text-anchor="middle" font-weight="normal" fill="#262626" stroke="#262626" stroke-width="0.22" >2080</text>
<text x="217.6" y="160.8" font-size="9.2" text-anchor="end" font-weight="normal" fill="#262626" stroke="#262626" stroke-width="0.22" >0</text>
<text x="217.6" y="118.7" font-size="9.2" text-anchor="end" font-weight="normal" fill="#262626" stroke="#262626" stroke-width="0.22" >1</text>
<text x="217.6" y="76.6" font-size="9.2" text-anchor="end" font-weight="normal" fill="#262626" stroke="#262626" stroke-width="0.22" >2</text>
<text x="217.6" y="34.5" font-size="9.2" text-anchor="end" font-weight="normal" fill="#262626" stroke="#262626" stroke-width="0.22" >3</text>
<text x="302.3" y="184.6" font-size="10.3" text-anchor="middle" font-weight="normal" fill="#262626" stroke="#262626" stroke-width="0.22" >Time (Year)</text>
<text transform="translate(206.6,94.3) rotate(-90)" font-size="10.1" text-anchor="middle" fill="#262626" stroke="#262626" stroke-width="0.22">Variance (K<tspan dy="-4" font-size="7">2</tspan><tspan dy="4">)</tspan></text>
<g clip-path="url(#c11)">
<polyline points="220.5,324 221.5,324 222.4,324 223.3,324 224.2,324 225.1,324 226.1,324 227,324 227.9,324 228.8,324 229.7,324 230.6,324 231.6,324 232.5,324 233.4,324 234.3,324 235.2,324 236.2,324 237.1,324 238,324 238.9,324 239.8,324 240.8,324 241.7,324 242.6,324 243.5,324 244.4,324 245.4,324 246.3,324 247.2,324 248.1,324 249,324 249.9,324 250.9,324 251.8,324 252.7,324 253.6,324 254.5,324 255.5,324 256.4,324 257.3,324 258.2,324 259.1,324 260.1,324 261,324 261.9,324 262.8,324 263.7,324 264.7,324 265.6,324 266.5,324 267.4,324 268.3,324 269.2,324 270.2,324 271.1,324 272,324 272.9,324 273.8,324 274.8,324 275.7,324 276.6,324 277.5,324 278.4,324 279.4,324 280.3,324 281.2,324 282.1,324 283,324 283.9,324 284.9,324 285.8,324 286.7,324 287.6,324 288.5,324 289.5,324 290.4,324 291.3,324 292.2,324 293.1,324 294.1,324 295,324 295.9,324 296.8,324 297.7,324 298.7,324 299.6,324 300.5,324 301.4,324 302.3,324 303.2,324 304.2,324 305.1,324 306,324 306.9,324 307.8,324 308.8,324 309.7,324 310.6,324 311.5,324 312.4,324 313.4,324 314.3,324 315.2,324 316.1,324 317,324 318,324 318.9,324 319.8,324 320.7,324 321.6,324 322.5,324 323.5,324 324.4,324 325.3,324 326.2,324 327.1,324 328.1,324 329,324 329.9,324 330.8,324 331.7,324 332.7,324 333.6,324 334.5,324 335.4,324 336.3,324 337.3,324 338.2,324 339.1,324 340,324 340.9,324 341.8,324 342.8,324 343.7,324 344.6,324 345.5,324 346.4,324 347.4,324 348.3,324 349.2,324 350.1,324 351,324 352,324 352.9,324 353.8,324 354.7,324 355.6,324 356.6,324 357.5,324 358.4,324 359.3,324 360.2,324 361.1,324 362.1,324 363,324 363.9,324 364.8,324 365.7,324 366.7,324 367.6,324 368.5,324 369.4,324 370.3,324 371.3,324 372.2,324 373.1,324 374,324 374.9,324 375.9,324 376.8,324 377.7,324 378.6,324 379.5,324 380.4,324 381.4,324 382.3,324" fill="none" stroke="#F07021" stroke-width="2"/>
<polyline points="220.5,360.7 221.5,360.6 222.4,360.6 223.3,360.5 224.2,360.5 225.1,360.4 226.1,360.3 227,360.2 227.9,360.1 228.8,360 229.7,359.9 230.6,359.8 231.6,359.7 232.5,359.6 233.4,359.5 234.3,359.3 235.2,359.2 236.2,359 237.1,358.9 238,358.7 238.9,358.5 239.8,358.4 240.8,358.2 241.7,358 242.6,357.8 243.5,357.6 244.4,357.4 245.4,357.1 246.3,356.9 247.2,356.7 248.1,356.4 249,356.2 249.9,355.9 250.9,355.6 251.8,355.3 252.7,355.1 253.6,354.8 254.5,354.5 255.5,354.1 256.4,353.8 257.3,353.5 258.2,353.1 259.1,352.8 260.1,352.4 261,352.1 261.9,351.7 262.8,351.3 263.7,350.9 264.7,350.5 265.6,350.1 266.5,349.7 267.4,349.3 268.3,348.8 269.2,348.4 270.2,347.9 271.1,347.5 272,347 272.9,346.5 273.8,346 274.8,345.5 275.7,345 276.6,344.5 277.5,344 278.4,343.4 279.4,342.9 280.3,342.3 281.2,341.8 282.1,341.2 283,340.6 283.9,340 284.9,339.4 285.8,338.8 286.7,338.2 287.6,337.5 288.5,336.9 289.5,336.2 290.4,335.6 291.3,334.9 292.2,334.2 293.1,333.5 294.1,332.8 295,332.1 295.9,331.4 296.8,330.6 297.7,329.9 298.7,329.1 299.6,328.4 300.5,327.6 301.4,326.8 302.3,326 303.2,325.2 304.2,324.4 305.1,323.6 306,322.7 306.9,321.9 307.8,321 308.8,320.2 309.7,319.3 310.6,318.4 311.5,317.5 312.4,316.6 313.4,315.6 314.3,314.7 315.2,313.8 316.1,312.8 317,311.8 318,310.9 318.9,309.9 319.8,308.9 320.7,307.9 321.6,306.9 322.5,305.8 323.5,304.8 324.4,303.7 325.3,302.7 326.2,301.6 327.1,300.5 328.1,299.4 329,298.3 329.9,297.2 330.8,296 331.7,294.9 332.7,293.7 333.6,292.6 334.5,291.4 335.4,290.2 336.3,289 337.3,287.8 338.2,286.6 339.1,285.4 340,284.1 340.9,282.9 341.8,281.6 342.8,280.3 343.7,279 344.6,277.7 345.5,276.4 346.4,275.1 347.4,273.7 348.3,272.4 349.2,271 350.1,269.7 351,268.3 352,266.9 352.9,265.5 353.8,264 354.7,262.6 355.6,261.2 356.6,259.7 357.5,258.3 358.4,256.8 359.3,255.3 360.2,253.8 361.1,252.3 362.1,250.7 363,249.2 363.9,247.6 364.8,246.1 365.7,244.5 366.7,242.9 367.6,241.3 368.5,239.7 369.4,238.1 370.3,236.5 371.3,234.8 372.2,233.1 373.1,231.5 374,229.8 374.9,228.1 375.9,226.4 376.8,224.7 377.7,222.9 378.6,221.2 379.5,219.4 380.4,217.7 381.4,215.9 382.3,214.1" fill="none" stroke="#3450A6" stroke-width="2"/>
<polyline points="220.5,360.9 221.5,360.9 222.4,360.9 223.3,360.9 224.2,360.9 225.1,360.9 226.1,360.9 227,360.9 227.9,360.9 228.8,360.9 229.7,360.9 230.6,360.9 231.6,360.9 232.5,360.8 233.4,360.8 234.3,360.8 235.2,360.8 236.2,360.8 237.1,360.8 238,360.8 238.9,360.7 239.8,360.7 240.8,360.7 241.7,360.7 242.6,360.6 243.5,360.6 244.4,360.6 245.4,360.5 246.3,360.5 247.2,360.4 248.1,360.4 249,360.3 249.9,360.3 250.9,360.2 251.8,360.2 252.7,360.1 253.6,360 254.5,359.9 255.5,359.9 256.4,359.8 257.3,359.7 258.2,359.6 259.1,359.4 260.1,359.3 261,359.2 261.9,359.1 262.8,358.9 263.7,358.8 264.7,358.6 265.6,358.4 266.5,358.3 267.4,358.1 268.3,357.9 269.2,357.7 270.2,357.5 271.1,357.2 272,357 272.9,356.7 273.8,356.5 274.8,356.2 275.7,355.9 276.6,355.6 277.5,355.3 278.4,354.9 279.4,354.6 280.3,354.2 281.2,353.8 282.1,353.4 283,353 283.9,352.6 284.9,352.1 285.8,351.7 286.7,351.2 287.6,350.7 288.5,350.2 289.5,349.6 290.4,349 291.3,348.4 292.2,347.8 293.1,347.2 294.1,346.5 295,345.8 295.9,345.1 296.8,344.4 297.7,343.6 298.7,342.8 299.6,342 300.5,341.2 301.4,340.3 302.3,339.4 303.2,338.5 304.2,337.5 305.1,336.5 306,335.5 306.9,334.4 307.8,333.3 308.8,332.2 309.7,331 310.6,329.8 311.5,328.6 312.4,327.3 313.4,326 314.3,324.6 315.2,323.2 316.1,321.8 317,320.3 318,318.8 318.9,317.2 319.8,315.6 320.7,314 321.6,312.3 322.5,310.5 323.5,308.7 324.4,306.9 325.3,305 326.2,303 327.1,301 328.1,299 329,296.9 329.9,294.7 330.8,292.5 331.7,290.3 332.7,287.9 333.6,285.5 334.5,283.1 335.4,280.6 336.3,278 337.3,275.4 338.2,272.7 339.1,269.9 340,267.1 340.9,264.2 341.8,261.2 342.8,258.2 343.7,255.1 344.6,251.9 345.5,248.7 346.4,245.4 347.4,242 348.3,238.5 349.2,234.9 350.1,231.3 351,227.6 352,223.8 352.9,219.9 353.8,216 354.7,211.9 355.6,207.8 356.6,203.6 357.5,199.3 358.4,194.9 359.3,190.4 360.2,185.8 361.1,181.2 362.1,176.4 363,171.5 363.9,166.5 364.8,161.5 365.7,156.3 366.7,151 367.6,145.7 368.5,140.2 369.4,134.6 370.3,128.9 371.3,123.1 372.2,117.2 373.1,111.2 374,105 374.9,98.8 375.9,92.4 376.8,85.9 377.7,79.3 378.6,72.5 379.5,65.7 380.4,58.7 381.4,51.6 382.3,44.3" fill="none" stroke="#0B7F3F" stroke-width="2"/>
<polyline points="220.5,323.8 221.5,323.8 222.4,323.7 223.3,323.6 224.2,323.6 225.1,323.5 226.1,323.4 227,323.3 227.9,323.2 228.8,323.1 229.7,323 230.6,322.9 231.6,322.8 232.5,322.7 233.4,322.5 234.3,322.4 235.2,322.2 236.2,322.1 237.1,321.9 238,321.7 238.9,321.5 239.8,321.3 240.8,321.1 241.7,320.9 242.6,320.6 243.5,320.4 244.4,320.2 245.4,319.9 246.3,319.6 247.2,319.3 248.1,319 249,318.7 249.9,318.4 250.9,318.1 251.8,317.7 252.7,317.4 253.6,317 254.5,316.6 255.5,316.2 256.4,315.8 257.3,315.4 258.2,314.9 259.1,314.5 260.1,314 261,313.5 261.9,313 262.8,312.5 263.7,311.9 264.7,311.4 265.6,310.8 266.5,310.2 267.4,309.6 268.3,308.9 269.2,308.3 270.2,307.6 271.1,306.9 272,306.2 272.9,305.5 273.8,304.7 274.8,303.9 275.7,303.1 276.6,302.3 277.5,301.5 278.4,300.6 279.4,299.7 280.3,298.8 281.2,297.8 282.1,296.9 283,295.9 283.9,294.8 284.9,293.8 285.8,292.7 286.7,291.6 287.6,290.4 288.5,289.3 289.5,288.1 290.4,286.8 291.3,285.6 292.2,284.3 293.1,282.9 294.1,281.6 295,280.2 295.9,278.7 296.8,277.3 297.7,275.7 298.7,274.2 299.6,272.6 300.5,271 301.4,269.3 302.3,267.6 303.2,265.9 304.2,264.1 305.1,262.3 306,260.4 306.9,258.5 307.8,256.6 308.8,254.6 309.7,252.5 310.6,250.4 311.5,248.3 312.4,246.1 313.4,243.8 314.3,241.6 315.2,239.2 316.1,236.8 317,234.4 318,231.9 318.9,229.3 319.8,226.7 320.7,224.1 321.6,221.3 322.5,218.6 323.5,215.7 324.4,212.8 325.3,209.9 326.2,206.9 327.1,203.8 328.1,200.6 329,197.4 329.9,194.1 330.8,190.8 331.7,187.4 332.7,183.9 333.6,180.3 334.5,176.7 335.4,173 336.3,169.3 337.3,165.4 338.2,161.5 339.1,157.5 340,153.4 340.9,149.3 341.8,145 342.8,140.7 343.7,136.3 344.6,131.9 345.5,127.3 346.4,122.7 347.4,117.9 348.3,113.1 349.2,108.2 350.1,103.2 351,98.1 352,92.9 352.9,87.6 353.8,82.3 354.7,76.8 355.6,71.2 356.6,65.5 357.5,59.8 358.4,53.9 359.3,47.9 360.2,41.8 361.1,35.6 362.1,29.3 363,22.9 363.9,16.4 364.8,9.8 365.7,3 366.7,-3.8 367.6,-10.8 368.5,-17.9 369.4,-25.1 370.3,-32.4 371.3,-39.9 372.2,-47.4 373.1,-55.1 374,-63 374.9,-70.9 375.9,-79 376.8,-87.2 377.7,-95.6 378.6,-104 379.5,-112.7 380.4,-121.4 381.4,-130.3 382.3,-139.4" fill="none" stroke="#111111" stroke-width="2"/>
</g>
<path d="M230.8 246H258.5" stroke="#111111" stroke-width="2"/>
<text x="261.7" y="249" font-size="8.3" text-anchor="start" font-weight="normal" fill="#262626" stroke="#262626" stroke-width="0.22" >Total</text>
<path d="M230.8 256.8H258.5" stroke="#F07021" stroke-width="2"/>
<text x="261.7" y="259.8" font-size="8.3" text-anchor="start" font-weight="normal" fill="#262626" stroke="#262626" stroke-width="0.22" >Internal variability</text>
<path d="M230.8 267.6H258.5" stroke="#3450A6" stroke-width="2"/>
<text x="261.7" y="270.6" font-size="8.3" text-anchor="start" font-weight="normal" fill="#262626" stroke="#262626" stroke-width="0.22" >Response</text>
<path d="M230.8 278.4H258.5" stroke="#0B7F3F" stroke-width="2"/>
<text x="261.7" y="281.4" font-size="8.3" text-anchor="start" font-weight="normal" fill="#262626" stroke="#262626" stroke-width="0.22" >Scenario</text>
<text x="362" y="352.4" font-size="9" text-anchor="start" font-weight="normal" fill="#262626" stroke="#262626" stroke-width="0.22" >(e)</text>
<rect x="221.6" y="234.4" width="159.4" height="126.5" fill="none" stroke="#707070" stroke-width="1"/>
<path d="M238 360.9v-3.2M238 234.4v3.2" stroke="#707070" stroke-width="1"/>
<path d="M274.8 360.9v-3.2M274.8 234.4v3.2" stroke="#707070" stroke-width="1"/>
<path d="M311.5 360.9v-3.2M311.5 234.4v3.2" stroke="#707070" stroke-width="1"/>
<path d="M348.3 360.9v-3.2M348.3 234.4v3.2" stroke="#707070" stroke-width="1"/>
<path d="M221.6 360.9h3.2M381 360.9h-3.2" stroke="#707070" stroke-width="1"/>
<path d="M221.6 318.8h3.2M381 318.8h-3.2" stroke="#707070" stroke-width="1"/>
<path d="M221.6 276.7h3.2M381 276.7h-3.2" stroke="#707070" stroke-width="1"/>
<path d="M221.6 234.6h3.2M381 234.6h-3.2" stroke="#707070" stroke-width="1"/>
<text x="238" y="374.1" font-size="9.2" text-anchor="middle" font-weight="normal" fill="#262626" stroke="#262626" stroke-width="0.22" >2020</text>
<text x="274.8" y="374.1" font-size="9.2" text-anchor="middle" font-weight="normal" fill="#262626" stroke="#262626" stroke-width="0.22" >2040</text>
<text x="311.5" y="374.1" font-size="9.2" text-anchor="middle" font-weight="normal" fill="#262626" stroke="#262626" stroke-width="0.22" >2060</text>
<text x="348.3" y="374.1" font-size="9.2" text-anchor="middle" font-weight="normal" fill="#262626" stroke="#262626" stroke-width="0.22" >2080</text>
<text x="217.6" y="364.2" font-size="9.2" text-anchor="end" font-weight="normal" fill="#262626" stroke="#262626" stroke-width="0.22" >0</text>
<text x="217.6" y="322.1" font-size="9.2" text-anchor="end" font-weight="normal" fill="#262626" stroke="#262626" stroke-width="0.22" >1</text>
<text x="217.6" y="280" font-size="9.2" text-anchor="end" font-weight="normal" fill="#262626" stroke="#262626" stroke-width="0.22" >2</text>
<text x="217.6" y="237.9" font-size="9.2" text-anchor="end" font-weight="normal" fill="#262626" stroke="#262626" stroke-width="0.22" >3</text>
<text x="302.3" y="388" font-size="10.3" text-anchor="middle" font-weight="normal" fill="#262626" stroke="#262626" stroke-width="0.22" >Time (Year)</text>
<text transform="translate(206.6,297.6) rotate(-90)" font-size="10.1" text-anchor="middle" fill="#262626" stroke="#262626" stroke-width="0.22">Variance (K<tspan dy="-4" font-size="7">2</tspan><tspan dy="4">)</tspan></text>
<g clip-path="url(#c21)">
<polyline points="220.5,505.6 221.5,505.6 222.4,505.6 223.3,505.6 224.2,505.6 225.1,505.6 226.1,505.6 227,505.6 227.9,505.6 228.8,505.6 229.7,505.6 230.6,505.6 231.6,505.6 232.5,505.6 233.4,505.6 234.3,505.6 235.2,505.6 236.2,505.6 237.1,505.6 238,505.6 238.9,505.6 239.8,505.6 240.8,505.6 241.7,505.6 242.6,505.6 243.5,505.6 244.4,505.6 245.4,505.6 246.3,505.6 247.2,505.6 248.1,505.6 249,505.6 249.9,505.6 250.9,505.6 251.8,505.6 252.7,505.6 253.6,505.6 254.5,505.6 255.5,505.6 256.4,505.6 257.3,505.6 258.2,505.6 259.1,505.6 260.1,505.6 261,505.6 261.9,505.6 262.8,505.6 263.7,505.6 264.7,505.6 265.6,505.6 266.5,505.6 267.4,505.6 268.3,505.6 269.2,505.6 270.2,505.6 271.1,505.6 272,505.6 272.9,505.6 273.8,505.6 274.8,505.6 275.7,505.6 276.6,505.6 277.5,505.6 278.4,505.6 279.4,505.6 280.3,505.6 281.2,505.6 282.1,505.6 283,505.6 283.9,505.6 284.9,505.6 285.8,505.6 286.7,505.6 287.6,505.6 288.5,505.6 289.5,505.6 290.4,505.6 291.3,505.6 292.2,505.6 293.1,505.6 294.1,505.6 295,505.6 295.9,505.6 296.8,505.6 297.7,505.6 298.7,505.6 299.6,505.6 300.5,505.6 301.4,505.6 302.3,505.6 303.2,505.6 304.2,505.6 305.1,505.6 306,505.6 306.9,505.6 307.8,505.6 308.8,505.6 309.7,505.6 310.6,505.6 311.5,505.6 312.4,505.6 313.4,505.6 314.3,505.6 315.2,505.6 316.1,505.6 317,505.6 318,505.6 318.9,505.6 319.8,505.6 320.7,505.6 321.6,505.6 322.5,505.6 323.5,505.6 324.4,505.6 325.3,505.6 326.2,505.6 327.1,505.6 328.1,505.6 329,505.6 329.9,505.6 330.8,505.6 331.7,505.6 332.7,505.6 333.6,505.6 334.5,505.6 335.4,505.6 336.3,505.6 337.3,505.6 338.2,505.6 339.1,505.6 340,505.6 340.9,505.6 341.8,505.6 342.8,505.6 343.7,505.6 344.6,505.6 345.5,505.6 346.4,505.6 347.4,505.6 348.3,505.6 349.2,505.6 350.1,505.6 351,505.6 352,505.6 352.9,505.6 353.8,505.6 354.7,505.6 355.6,505.6 356.6,505.6 357.5,505.6 358.4,505.6 359.3,505.6 360.2,505.6 361.1,505.6 362.1,505.6 363,505.6 363.9,505.6 364.8,505.6 365.7,505.6 366.7,505.6 367.6,505.6 368.5,505.6 369.4,505.6 370.3,505.6 371.3,505.6 372.2,505.6 373.1,505.6 374,505.6 374.9,505.6 375.9,505.6 376.8,505.6 377.7,505.6 378.6,505.6 379.5,505.6 380.4,505.6 381.4,505.6 382.3,505.6" fill="none" stroke="#F07021" stroke-width="2"/>
<polyline points="220.5,563 221.5,563 222.4,563 223.3,563 224.2,563 225.1,563 226.1,563 227,563 227.9,563 228.8,563 229.7,563 230.6,563 231.6,563 232.5,562.9 233.4,562.9 234.3,562.9 235.2,562.9 236.2,562.9 237.1,562.9 238,562.9 238.9,562.8 239.8,562.8 240.8,562.8 241.7,562.8 242.6,562.7 243.5,562.7 244.4,562.7 245.4,562.7 246.3,562.6 247.2,562.6 248.1,562.5 249,562.5 249.9,562.4 250.9,562.4 251.8,562.3 252.7,562.3 253.6,562.2 254.5,562.2 255.5,562.1 256.4,562 257.3,562 258.2,561.9 259.1,561.8 260.1,561.7 261,561.6 261.9,561.5 262.8,561.4 263.7,561.3 264.7,561.2 265.6,561.1 266.5,561 267.4,560.9 268.3,560.8 269.2,560.7 270.2,560.5 271.1,560.4 272,560.3 272.9,560.1 273.8,560 274.8,559.8 275.7,559.7 276.6,559.5 277.5,559.4 278.4,559.2 279.4,559 280.3,558.8 281.2,558.7 282.1,558.5 283,558.3 283.9,558.1 284.9,557.9 285.8,557.7 286.7,557.5 287.6,557.3 288.5,557 289.5,556.8 290.4,556.6 291.3,556.4 292.2,556.1 293.1,555.9 294.1,555.7 295,555.4 295.9,555.2 296.8,555 297.7,554.7 298.7,554.5 299.6,554.2 300.5,554 301.4,553.7 302.3,553.5 303.2,553.2 304.2,553 305.1,552.8 306,552.5 306.9,552.3 307.8,552 308.8,551.8 309.7,551.6 310.6,551.3 311.5,551.1 312.4,550.8 313.4,550.6 314.3,550.4 315.2,550.1 316.1,549.9 317,549.6 318,549.4 318.9,549.2 319.8,548.9 320.7,548.7 321.6,548.4 322.5,548.2 323.5,548 324.4,547.7 325.3,547.5 326.2,547.3 327.1,547.1 328.1,546.8 329,546.6 329.9,546.4 330.8,546.2 331.7,546 332.7,545.8 333.6,545.6 334.5,545.4 335.4,545.2 336.3,545 337.3,544.9 338.2,544.7 339.1,544.5 340,544.4 340.9,544.2 341.8,544.1 342.8,543.9 343.7,543.8 344.6,543.7 345.5,543.5 346.4,543.4 347.4,543.3 348.3,543.2 349.2,543.1 350.1,543 351,542.9 352,542.8 352.9,542.7 353.8,542.7 354.7,542.6 355.6,542.5 356.6,542.4 357.5,542.4 358.4,542.3 359.3,542.2 360.2,542.2 361.1,542.1 362.1,542.1 363,542 363.9,542 364.8,541.9 365.7,541.8 366.7,541.8 367.6,541.7 368.5,541.6 369.4,541.5 370.3,541.4 371.3,541.3 372.2,541.2 373.1,541 374,540.9 374.9,540.7 375.9,540.6 376.8,540.4 377.7,540.2 378.6,540 379.5,539.8 380.4,539.6 381.4,539.3 382.3,539.1" fill="none" stroke="#3450A6" stroke-width="2"/>
<polyline points="220.5,563 221.5,563 222.4,563 223.3,563 224.2,563 225.1,563 226.1,563 227,563 227.9,563 228.8,563 229.7,563 230.6,563 231.6,563 232.5,563 233.4,563 234.3,563 235.2,563 236.2,563 237.1,563 238,563 238.9,563 239.8,563 240.8,563 241.7,563 242.6,563 243.5,563 244.4,563 245.4,563 246.3,563 247.2,563 248.1,563 249,563 249.9,563 250.9,563 251.8,563 252.7,563 253.6,563 254.5,563 255.5,563 256.4,563 257.3,563 258.2,563 259.1,563 260.1,562.9 261,562.9 261.9,562.9 262.8,562.9 263.7,562.9 264.7,562.9 265.6,562.9 266.5,562.9 267.4,562.9 268.3,562.8 269.2,562.8 270.2,562.8 271.1,562.8 272,562.8 272.9,562.7 273.8,562.7 274.8,562.7 275.7,562.7 276.6,562.6 277.5,562.6 278.4,562.6 279.4,562.6 280.3,562.5 281.2,562.5 282.1,562.4 283,562.4 283.9,562.4 284.9,562.3 285.8,562.3 286.7,562.2 287.6,562.1 288.5,562.1 289.5,562 290.4,562 291.3,561.9 292.2,561.8 293.1,561.8 294.1,561.7 295,561.6 295.9,561.5 296.8,561.4 297.7,561.4 298.7,561.3 299.6,561.2 300.5,561.1 301.4,561 302.3,560.8 303.2,560.7 304.2,560.6 305.1,560.5 306,560.4 306.9,560.2 307.8,560.1 308.8,560 309.7,559.8 310.6,559.7 311.5,559.5 312.4,559.3 313.4,559.2 314.3,559 315.2,558.8 316.1,558.6 317,558.4 318,558.2 318.9,558 319.8,557.8 320.7,557.6 321.6,557.4 322.5,557.2 323.5,556.9 324.4,556.7 325.3,556.4 326.2,556.2 327.1,555.9 328.1,555.6 329,555.3 329.9,555.1 330.8,554.8 331.7,554.4 332.7,554.1 333.6,553.8 334.5,553.5 335.4,553.1 336.3,552.8 337.3,552.4 338.2,552.1 339.1,551.7 340,551.3 340.9,550.9 341.8,550.5 342.8,550.1 343.7,549.6 344.6,549.2 345.5,548.8 346.4,548.3 347.4,547.8 348.3,547.3 349.2,546.8 350.1,546.3 351,545.8 352,545.3 352.9,544.8 353.8,544.2 354.7,543.6 355.6,543.1 356.6,542.5 357.5,541.9 358.4,541.3 359.3,540.6 360.2,540 361.1,539.3 362.1,538.7 363,538 363.9,537.3 364.8,536.6 365.7,535.8 366.7,535.1 367.6,534.3 368.5,533.6 369.4,532.8 370.3,532 371.3,531.1 372.2,530.3 373.1,529.5 374,528.6 374.9,527.7 375.9,526.8 376.8,525.9 377.7,524.9 378.6,524 379.5,523 380.4,522 381.4,521 382.3,520" fill="none" stroke="#0B7F3F" stroke-width="2"/>
<polyline points="220.5,505.6 221.5,505.6 222.4,505.6 223.3,505.6 224.2,505.6 225.1,505.6 226.1,505.6 227,505.6 227.9,505.6 228.8,505.6 229.7,505.6 230.6,505.6 231.6,505.5 232.5,505.5 233.4,505.5 234.3,505.5 235.2,505.5 236.2,505.5 237.1,505.5 238,505.5 238.9,505.4 239.8,505.4 240.8,505.4 241.7,505.4 242.6,505.3 243.5,505.3 244.4,505.3 245.4,505.2 246.3,505.2 247.2,505.2 248.1,505.1 249,505.1 249.9,505 250.9,505 251.8,504.9 252.7,504.9 253.6,504.8 254.5,504.7 255.5,504.7 256.4,504.6 257.3,504.5 258.2,504.4 259.1,504.3 260.1,504.3 261,504.2 261.9,504.1 262.8,504 263.7,503.8 264.7,503.7 265.6,503.6 266.5,503.5 267.4,503.4 268.3,503.2 269.2,503.1 270.2,502.9 271.1,502.8 272,502.6 272.9,502.5 273.8,502.3 274.8,502.1 275.7,501.9 276.6,501.8 277.5,501.6 278.4,501.4 279.4,501.2 280.3,500.9 281.2,500.7 282.1,500.5 283,500.3 283.9,500 284.9,499.8 285.8,499.5 286.7,499.3 287.6,499 288.5,498.7 289.5,498.4 290.4,498.2 291.3,497.9 292.2,497.6 293.1,497.3 294.1,497 295,496.6 295.9,496.3 296.8,496 297.7,495.7 298.7,495.3 299.6,495 300.5,494.6 301.4,494.3 302.3,493.9 303.2,493.6 304.2,493.2 305.1,492.8 306,492.5 306.9,492.1 307.8,491.7 308.8,491.3 309.7,491 310.6,490.6 311.5,490.2 312.4,489.8 313.4,489.4 314.3,488.9 315.2,488.5 316.1,488.1 317,487.7 318,487.2 318.9,486.8 319.8,486.3 320.7,485.9 321.6,485.4 322.5,485 323.5,484.5 324.4,484 325.3,483.5 326.2,483 327.1,482.6 328.1,482.1 329,481.6 329.9,481.1 330.8,480.6 331.7,480 332.7,479.5 333.6,479 334.5,478.5 335.4,478 336.3,477.4 337.3,476.9 338.2,476.3 339.1,475.8 340,475.3 340.9,474.7 341.8,474.1 342.8,473.6 343.7,473 344.6,472.5 345.5,471.9 346.4,471.3 347.4,470.7 348.3,470.1 349.2,469.5 350.1,468.9 351,468.3 352,467.7 352.9,467.1 353.8,466.4 354.7,465.8 355.6,465.2 356.6,464.5 357.5,463.8 358.4,463.2 359.3,462.5 360.2,461.8 361.1,461 362.1,460.3 363,459.6 363.9,458.8 364.8,458 365.7,457.2 366.7,456.4 367.6,455.6 368.5,454.7 369.4,453.9 370.3,453 371.3,452 372.2,451.1 373.1,450.1 374,449.1 374.9,448 375.9,446.9 376.8,445.8 377.7,444.7 378.6,443.6 379.5,442.4 380.4,441.2 381.4,439.9 382.3,438.7" fill="none" stroke="#111111" stroke-width="2"/>
</g>
<path d="M230.8 448H258.5" stroke="#111111" stroke-width="2"/>
<text x="261.7" y="451" font-size="8.3" text-anchor="start" font-weight="normal" fill="#262626" stroke="#262626" stroke-width="0.22" >Total</text>
<path d="M230.8 458.8H258.5" stroke="#F07021" stroke-width="2"/>
<text x="261.7" y="461.8" font-size="8.3" text-anchor="start" font-weight="normal" fill="#262626" stroke="#262626" stroke-width="0.22" >Internal variability</text>
<path d="M230.8 469.6H258.5" stroke="#3450A6" stroke-width="2"/>
<text x="261.7" y="472.6" font-size="8.3" text-anchor="start" font-weight="normal" fill="#262626" stroke="#262626" stroke-width="0.22" >Response</text>
<path d="M230.8 480.4H258.5" stroke="#0B7F3F" stroke-width="2"/>
<text x="261.7" y="483.4" font-size="8.3" text-anchor="start" font-weight="normal" fill="#262626" stroke="#262626" stroke-width="0.22" >Scenario</text>
<text x="362" y="554.5" font-size="9" text-anchor="start" font-weight="normal" fill="#262626" stroke="#262626" stroke-width="0.22" >(h)</text>
<rect x="221.6" y="436.4" width="159.4" height="126.6" fill="none" stroke="#707070" stroke-width="1"/>
<path d="M238 563v-3.2M238 436.4v3.2" stroke="#707070" stroke-width="1"/>
<path d="M274.8 563v-3.2M274.8 436.4v3.2" stroke="#707070" stroke-width="1"/>
<path d="M311.5 563v-3.2M311.5 436.4v3.2" stroke="#707070" stroke-width="1"/>
<path d="M348.3 563v-3.2M348.3 436.4v3.2" stroke="#707070" stroke-width="1"/>
<path d="M221.6 563h3.2M381 563h-3.2" stroke="#707070" stroke-width="1"/>
<path d="M221.6 520.9h3.2M381 520.9h-3.2" stroke="#707070" stroke-width="1"/>
<path d="M221.6 478.7h3.2M381 478.7h-3.2" stroke="#707070" stroke-width="1"/>
<path d="M221.6 436.6h3.2M381 436.6h-3.2" stroke="#707070" stroke-width="1"/>
<text x="238" y="576.2" font-size="9.2" text-anchor="middle" font-weight="normal" fill="#262626" stroke="#262626" stroke-width="0.22" >2020</text>
<text x="274.8" y="576.2" font-size="9.2" text-anchor="middle" font-weight="normal" fill="#262626" stroke="#262626" stroke-width="0.22" >2040</text>
<text x="311.5" y="576.2" font-size="9.2" text-anchor="middle" font-weight="normal" fill="#262626" stroke="#262626" stroke-width="0.22" >2060</text>
<text x="348.3" y="576.2" font-size="9.2" text-anchor="middle" font-weight="normal" fill="#262626" stroke="#262626" stroke-width="0.22" >2080</text>
<text x="217.6" y="566.3" font-size="9.2" text-anchor="end" font-weight="normal" fill="#262626" stroke="#262626" stroke-width="0.22" >0</text>
<text x="217.6" y="524.1" font-size="9.2" text-anchor="end" font-weight="normal" fill="#262626" stroke="#262626" stroke-width="0.22" >5</text>
<text x="217.6" y="482" font-size="9.2" text-anchor="end" font-weight="normal" fill="#262626" stroke="#262626" stroke-width="0.22" >10</text>
<text x="217.6" y="439.9" font-size="9.2" text-anchor="end" font-weight="normal" fill="#262626" stroke="#262626" stroke-width="0.22" >15</text>
<text x="302.3" y="590.1" font-size="10.3" text-anchor="middle" font-weight="normal" fill="#262626" stroke="#262626" stroke-width="0.22" >Time (Year)</text>
<text transform="translate(206.6,499.7) rotate(-90)" font-size="10.1" text-anchor="middle" fill="#262626" stroke="#262626" stroke-width="0.22">Variance (K<tspan dy="-4" font-size="7">2</tspan><tspan dy="4">)</tspan></text>
<g clip-path="url(#c02)">
<rect x="415.4" y="31.2" width="158.8" height="126.3" fill="#F27021"/>
<polygon points="413.4,157.5 414.3,157.5 415.2,157.3 416.1,156.7 417.1,156 418,155.2 418.9,154.3 419.8,153.2 420.7,152 421.6,150.6 422.5,149 423.4,147.3 424.3,145.4 425.2,143.3 426.1,141.1 427.1,138.7 428,136.2 428.9,133.7 429.8,131 430.7,128.3 431.6,125.4 432.5,122.6 433.4,119.7 434.3,116.7 435.2,113.7 436.1,110.8 437.1,107.8 438,104.9 438.9,102.1 439.8,99.3 440.7,96.6 441.6,94.1 442.5,91.6 443.4,89.3 444.3,87.1 445.2,84.9 446.1,82.9 447,81 448,79.1 448.9,77.3 449.8,75.6 450.7,74 451.6,72.5 452.5,71 453.4,69.6 454.3,68.2 455.2,66.9 456.1,65.6 457,64.4 458,63.2 458.9,62 459.8,60.9 460.7,59.8 461.6,58.8 462.5,57.7 463.4,56.7 464.3,55.8 465.2,54.8 466.1,53.9 467,53 468,52.1 468.9,51.2 469.8,50.4 470.7,49.6 471.6,48.8 472.5,48 473.4,47.2 474.3,46.5 475.2,45.8 476.1,45.1 477,44.5 478,43.8 478.9,43.3 479.8,42.7 480.7,42.2 481.6,41.7 482.5,41.3 483.4,40.8 484.3,40.4 485.2,40.1 486.1,39.7 487,39.4 487.9,39.1 488.9,38.8 489.8,38.5 490.7,38.3 491.6,38 492.5,37.8 493.4,37.6 494.3,37.4 495.2,37.2 496.1,37 497,36.8 497.9,36.6 498.9,36.4 499.8,36.2 500.7,36 501.6,35.8 502.5,35.7 503.4,35.5 504.3,35.3 505.2,35.2 506.1,35 507,34.9 507.9,34.7 508.9,34.6 509.8,34.5 510.7,34.3 511.6,34.2 512.5,34.1 513.4,34 514.3,33.9 515.2,33.8 516.1,33.6 517,33.5 517.9,33.4 518.9,33.3 519.8,33.3 520.7,33.2 521.6,33.1 522.5,33 523.4,32.9 524.3,32.9 525.2,32.8 526.1,32.7 527,32.6 527.9,32.6 528.8,32.5 529.8,32.5 530.7,32.4 531.6,32.4 532.5,32.3 533.4,32.3 534.3,32.2 535.2,32.2 536.1,32.1 537,32.1 537.9,32 538.8,32 539.8,32 540.7,31.9 541.6,31.9 542.5,31.9 543.4,31.8 544.3,31.8 545.2,31.8 546.1,31.8 547,31.7 547.9,31.7 548.8,31.7 549.8,31.7 550.7,31.7 551.6,31.6 552.5,31.6 553.4,31.6 554.3,31.6 555.2,31.6 556.1,31.6 557,31.6 557.9,31.5 558.8,31.5 559.8,31.5 560.7,31.5 561.6,31.5 562.5,31.5 563.4,31.5 564.3,31.5 565.2,31.5 566.1,31.5 567,31.5 567.9,31.5 568.8,31.5 569.7,31.5 570.7,31.5 571.6,31.5 572.5,31.5 573.4,31.5 574.3,31.5 575.2,31.5 576.1,31.5 576.1,159.5 413.4,159.5" fill="#007F3F"/>
<polygon points="413.4,157.5 414.3,157.5 415.2,157.3 416.1,156.7 417.1,156 418,155.3 418.9,154.4 419.8,153.3 420.7,152.1 421.6,150.8 422.5,149.2 423.4,147.5 424.3,145.7 425.2,143.6 426.1,141.5 427.1,139.3 428,136.9 428.9,134.5 429.8,132 430.7,129.4 431.6,126.8 432.5,124.2 433.4,121.5 434.3,118.8 435.2,116.1 436.1,113.4 437.1,110.8 438,108.2 438.9,105.7 439.8,103.3 440.7,101 441.6,98.9 442.5,97 443.4,95.2 444.3,93.6 445.2,92.1 446.1,90.7 447,89.4 448,88.3 448.9,87.3 449.8,86.3 450.7,85.5 451.6,84.8 452.5,84.1 453.4,83.5 454.3,83 455.2,82.6 456.1,82.2 457,81.8 458,81.5 458.9,81.2 459.8,80.9 460.7,80.7 461.6,80.5 462.5,80.4 463.4,80.2 464.3,80.1 465.2,80.1 466.1,80.1 467,80.1 468,80.1 468.9,80.2 469.8,80.3 470.7,80.4 471.6,80.6 472.5,80.7 473.4,80.9 474.3,81.2 475.2,81.4 476.1,81.7 477,82 478,82.3 478.9,82.6 479.8,82.9 480.7,83.3 481.6,83.7 482.5,84 483.4,84.4 484.3,84.8 485.2,85.2 486.1,85.7 487,86.1 487.9,86.5 488.9,86.9 489.8,87.4 490.7,87.8 491.6,88.2 492.5,88.6 493.4,89.1 494.3,89.5 495.2,89.9 496.1,90.3 497,90.7 497.9,91.1 498.9,91.4 499.8,91.8 500.7,92.2 501.6,92.5 502.5,92.9 503.4,93.2 504.3,93.6 505.2,93.9 506.1,94.3 507,94.6 507.9,94.9 508.9,95.3 509.8,95.6 510.7,95.9 511.6,96.3 512.5,96.6 513.4,96.9 514.3,97.2 515.2,97.6 516.1,97.9 517,98.2 517.9,98.6 518.9,98.9 519.8,99.2 520.7,99.5 521.6,99.9 522.5,100.2 523.4,100.5 524.3,100.9 525.2,101.2 526.1,101.5 527,101.9 527.9,102.2 528.8,102.5 529.8,102.8 530.7,103.2 531.6,103.5 532.5,103.8 533.4,104.1 534.3,104.4 535.2,104.7 536.1,105 537,105.3 537.9,105.7 538.8,106 539.8,106.3 540.7,106.5 541.6,106.8 542.5,107.1 543.4,107.4 544.3,107.7 545.2,108 546.1,108.3 547,108.5 547.9,108.8 548.8,109.1 549.8,109.3 550.7,109.6 551.6,109.8 552.5,110.1 553.4,110.3 554.3,110.6 555.2,110.8 556.1,111.1 557,111.3 557.9,111.5 558.8,111.8 559.8,112 560.7,112.2 561.6,112.4 562.5,112.6 563.4,112.8 564.3,113 565.2,113.3 566.1,113.5 567,113.7 567.9,113.9 568.8,114 569.7,114.2 570.7,114.4 571.6,114.6 572.5,114.8 573.4,115 574.3,115.2 575.2,115.4 576.1,115.6 576.1,159.5 413.4,159.5" fill="#354FA1"/>
<polyline points="413.4,157.5 414.3,157.5 415.2,157.3 416.1,156.7 417.1,156 418,155.2 418.9,154.3 419.8,153.2 420.7,152 421.6,150.6 422.5,149 423.4,147.3 424.3,145.4 425.2,143.3 426.1,141.1 427.1,138.7 428,136.2 428.9,133.7 429.8,131 430.7,128.3 431.6,125.4 432.5,122.6 433.4,119.7 434.3,116.7 435.2,113.7 436.1,110.8 437.1,107.8 438,104.9 438.9,102.1 439.8,99.3 440.7,96.6 441.6,94.1 442.5,91.6 443.4,89.3 444.3,87.1 445.2,84.9 446.1,82.9 447,81 448,79.1 448.9,77.3 449.8,75.6 450.7,74 451.6,72.5 452.5,71 453.4,69.6 454.3,68.2 455.2,66.9 456.1,65.6 457,64.4 458,63.2 458.9,62 459.8,60.9 460.7,59.8 461.6,58.8 462.5,57.7 463.4,56.7 464.3,55.8 465.2,54.8 466.1,53.9 467,53 468,52.1 468.9,51.2 469.8,50.4 470.7,49.6 471.6,48.8 472.5,48 473.4,47.2 474.3,46.5 475.2,45.8 476.1,45.1 477,44.5 478,43.8 478.9,43.3 479.8,42.7 480.7,42.2 481.6,41.7 482.5,41.3 483.4,40.8 484.3,40.4 485.2,40.1 486.1,39.7 487,39.4 487.9,39.1 488.9,38.8 489.8,38.5 490.7,38.3 491.6,38 492.5,37.8 493.4,37.6 494.3,37.4 495.2,37.2 496.1,37 497,36.8 497.9,36.6 498.9,36.4 499.8,36.2 500.7,36 501.6,35.8 502.5,35.7 503.4,35.5 504.3,35.3 505.2,35.2 506.1,35 507,34.9 507.9,34.7 508.9,34.6 509.8,34.5 510.7,34.3 511.6,34.2 512.5,34.1 513.4,34 514.3,33.9 515.2,33.8 516.1,33.6 517,33.5 517.9,33.4 518.9,33.3 519.8,33.3 520.7,33.2 521.6,33.1 522.5,33 523.4,32.9 524.3,32.9 525.2,32.8 526.1,32.7 527,32.6 527.9,32.6 528.8,32.5 529.8,32.5 530.7,32.4 531.6,32.4 532.5,32.3 533.4,32.3 534.3,32.2 535.2,32.2 536.1,32.1 537,32.1 537.9,32 538.8,32 539.8,32 540.7,31.9 541.6,31.9 542.5,31.9 543.4,31.8 544.3,31.8 545.2,31.8 546.1,31.8 547,31.7 547.9,31.7 548.8,31.7 549.8,31.7 550.7,31.7 551.6,31.6 552.5,31.6 553.4,31.6 554.3,31.6 555.2,31.6 556.1,31.6 557,31.6 557.9,31.5 558.8,31.5 559.8,31.5 560.7,31.5 561.6,31.5 562.5,31.5 563.4,31.5 564.3,31.5 565.2,31.5 566.1,31.5 567,31.5 567.9,31.5 568.8,31.5 569.7,31.5 570.7,31.5 571.6,31.5 572.5,31.5 573.4,31.5 574.3,31.5 575.2,31.5 576.1,31.5" fill="none" stroke="#1a1a1a" stroke-width="0.6"/>
<polyline points="413.4,157.5 414.3,157.5 415.2,157.3 416.1,156.7 417.1,156 418,155.3 418.9,154.4 419.8,153.3 420.7,152.1 421.6,150.8 422.5,149.2 423.4,147.5 424.3,145.7 425.2,143.6 426.1,141.5 427.1,139.3 428,136.9 428.9,134.5 429.8,132 430.7,129.4 431.6,126.8 432.5,124.2 433.4,121.5 434.3,118.8 435.2,116.1 436.1,113.4 437.1,110.8 438,108.2 438.9,105.7 439.8,103.3 440.7,101 441.6,98.9 442.5,97 443.4,95.2 444.3,93.6 445.2,92.1 446.1,90.7 447,89.4 448,88.3 448.9,87.3 449.8,86.3 450.7,85.5 451.6,84.8 452.5,84.1 453.4,83.5 454.3,83 455.2,82.6 456.1,82.2 457,81.8 458,81.5 458.9,81.2 459.8,80.9 460.7,80.7 461.6,80.5 462.5,80.4 463.4,80.2 464.3,80.1 465.2,80.1 466.1,80.1 467,80.1 468,80.1 468.9,80.2 469.8,80.3 470.7,80.4 471.6,80.6 472.5,80.7 473.4,80.9 474.3,81.2 475.2,81.4 476.1,81.7 477,82 478,82.3 478.9,82.6 479.8,82.9 480.7,83.3 481.6,83.7 482.5,84 483.4,84.4 484.3,84.8 485.2,85.2 486.1,85.7 487,86.1 487.9,86.5 488.9,86.9 489.8,87.4 490.7,87.8 491.6,88.2 492.5,88.6 493.4,89.1 494.3,89.5 495.2,89.9 496.1,90.3 497,90.7 497.9,91.1 498.9,91.4 499.8,91.8 500.7,92.2 501.6,92.5 502.5,92.9 503.4,93.2 504.3,93.6 505.2,93.9 506.1,94.3 507,94.6 507.9,94.9 508.9,95.3 509.8,95.6 510.7,95.9 511.6,96.3 512.5,96.6 513.4,96.9 514.3,97.2 515.2,97.6 516.1,97.9 517,98.2 517.9,98.6 518.9,98.9 519.8,99.2 520.7,99.5 521.6,99.9 522.5,100.2 523.4,100.5 524.3,100.9 525.2,101.2 526.1,101.5 527,101.9 527.9,102.2 528.8,102.5 529.8,102.8 530.7,103.2 531.6,103.5 532.5,103.8 533.4,104.1 534.3,104.4 535.2,104.7 536.1,105 537,105.3 537.9,105.7 538.8,106 539.8,106.3 540.7,106.5 541.6,106.8 542.5,107.1 543.4,107.4 544.3,107.7 545.2,108 546.1,108.3 547,108.5 547.9,108.8 548.8,109.1 549.8,109.3 550.7,109.6 551.6,109.8 552.5,110.1 553.4,110.3 554.3,110.6 555.2,110.8 556.1,111.1 557,111.3 557.9,111.5 558.8,111.8 559.8,112 560.7,112.2 561.6,112.4 562.5,112.6 563.4,112.8 564.3,113 565.2,113.3 566.1,113.5 567,113.7 567.9,113.9 568.8,114 569.7,114.2 570.7,114.4 571.6,114.6 572.5,114.8 573.4,115 574.3,115.2 575.2,115.4 576.1,115.6" fill="none" stroke="#1a1a1a" stroke-width="0.6"/>
</g>
<rect x="450.7" y="118.8" width="87.9" height="35.3" fill="#fff" stroke="#333" stroke-width="0.6"/>
<rect x="454" y="122.1" width="28" height="7.8" fill="#F27021"/>
<text x="485" y="129" font-size="8.3" text-anchor="start" font-weight="normal" fill="#262626" stroke="#262626" stroke-width="0.22" >Int. variability</text>
<rect x="454" y="132.8" width="28" height="7.8" fill="#007F3F"/>
<text x="485" y="139.7" font-size="8.3" text-anchor="start" font-weight="normal" fill="#262626" stroke="#262626" stroke-width="0.22" >Scenario</text>
<rect x="454" y="143.5" width="28" height="7.8" fill="#354FA1"/>
<text x="485" y="150.4" font-size="8.3" text-anchor="start" font-weight="normal" fill="#262626" stroke="#262626" stroke-width="0.22" >Response</text>
<text x="555.2" y="149" font-size="9" text-anchor="start" font-weight="normal" fill="#262626" stroke="#262626" stroke-width="0.22" >(c)</text>
<rect x="415.4" y="31.2" width="158.8" height="126.3" fill="none" stroke="#707070" stroke-width="1"/>
<path d="M431.7 157.5v-3.2M431.7 31.2v3.2" stroke="#707070" stroke-width="1"/>
<path d="M468.3 157.5v-3.2M468.3 31.2v3.2" stroke="#707070" stroke-width="1"/>
<path d="M504.8 157.5v-3.2M504.8 31.2v3.2" stroke="#707070" stroke-width="1"/>
<path d="M541.4 157.5v-3.2M541.4 31.2v3.2" stroke="#707070" stroke-width="1"/>
<path d="M415.4 157.5h3.2M574.2 157.5h-3.2" stroke="#707070" stroke-width="1"/>
<path d="M415.4 132.2h3.2M574.2 132.2h-3.2" stroke="#707070" stroke-width="1"/>
<path d="M415.4 107h3.2M574.2 107h-3.2" stroke="#707070" stroke-width="1"/>
<path d="M415.4 81.7h3.2M574.2 81.7h-3.2" stroke="#707070" stroke-width="1"/>
<path d="M415.4 56.5h3.2M574.2 56.5h-3.2" stroke="#707070" stroke-width="1"/>
<path d="M415.4 31.2h3.2M574.2 31.2h-3.2" stroke="#707070" stroke-width="1"/>
<text x="431.7" y="170.7" font-size="9.2" text-anchor="middle" font-weight="normal" fill="#262626" stroke="#262626" stroke-width="0.22" >2020</text>
<text x="468.3" y="170.7" font-size="9.2" text-anchor="middle" font-weight="normal" fill="#262626" stroke="#262626" stroke-width="0.22" >2040</text>
<text x="504.8" y="170.7" font-size="9.2" text-anchor="middle" font-weight="normal" fill="#262626" stroke="#262626" stroke-width="0.22" >2060</text>
<text x="541.4" y="170.7" font-size="9.2" text-anchor="middle" font-weight="normal" fill="#262626" stroke="#262626" stroke-width="0.22" >2080</text>
<text x="411" y="160.8" font-size="9.2" text-anchor="end" font-weight="normal" fill="#262626" stroke="#262626" stroke-width="0.22" >0</text>
<text x="411" y="135.5" font-size="9.2" text-anchor="end" font-weight="normal" fill="#262626" stroke="#262626" stroke-width="0.22" >20</text>
<text x="411" y="110.3" font-size="9.2" text-anchor="end" font-weight="normal" fill="#262626" stroke="#262626" stroke-width="0.22" >40</text>
<text x="411" y="85" font-size="9.2" text-anchor="end" font-weight="normal" fill="#262626" stroke="#262626" stroke-width="0.22" >60</text>
<text x="411" y="59.8" font-size="9.2" text-anchor="end" font-weight="normal" fill="#262626" stroke="#262626" stroke-width="0.22" >80</text>
<text x="411" y="34.5" font-size="9.2" text-anchor="end" font-weight="normal" fill="#262626" stroke="#262626" stroke-width="0.22" >100</text>
<text x="495.8" y="184.6" font-size="10.3" text-anchor="middle" font-weight="normal" fill="#262626" stroke="#262626" stroke-width="0.22" >Time (Year)</text>
<text transform="translate(396,94.3) rotate(-90)" font-size="10.0" text-anchor="middle" fill="#262626" stroke="#262626" stroke-width="0.22">Fraction (%)</text>
<g clip-path="url(#c12)">
<rect x="415.4" y="234.4" width="158.8" height="126.5" fill="#F27021"/>
<polygon points="413.4,360.9 414.3,360.9 415.2,360.8 416.1,360.7 417.1,360.6 418,360.4 418.9,360.2 419.8,360.1 420.7,359.8 421.6,359.6 422.5,359.3 423.4,359.1 424.3,358.8 425.2,358.4 426.1,358.1 427.1,357.7 428,357.3 428.9,356.9 429.8,356.5 430.7,356 431.6,355.5 432.5,355 433.4,354.4 434.3,353.9 435.2,353.3 436.1,352.6 437.1,352 438,351.3 438.9,350.5 439.8,349.8 440.7,349 441.6,348.1 442.5,347.2 443.4,346.3 444.3,345.4 445.2,344.4 446.1,343.4 447,342.4 448,341.3 448.9,340.3 449.8,339.2 450.7,338 451.6,336.9 452.5,335.8 453.4,334.6 454.3,333.4 455.2,332.3 456.1,331.1 457,329.9 458,328.7 458.9,327.5 459.8,326.3 460.7,325.1 461.6,323.9 462.5,322.7 463.4,321.5 464.3,320.3 465.2,319.1 466.1,317.9 467,316.7 468,315.5 468.9,314.3 469.8,313.1 470.7,312 471.6,310.8 472.5,309.6 473.4,308.4 474.3,307.2 475.2,306.1 476.1,304.9 477,303.7 478,302.5 478.9,301.4 479.8,300.3 480.7,299.1 481.6,298 482.5,296.9 483.4,295.9 484.3,294.8 485.2,293.8 486.1,292.8 487,291.8 487.9,290.8 488.9,289.8 489.8,288.9 490.7,287.9 491.6,287 492.5,286.1 493.4,285.3 494.3,284.4 495.2,283.6 496.1,282.7 497,281.9 497.9,281.1 498.9,280.3 499.8,279.5 500.7,278.8 501.6,278 502.5,277.3 503.4,276.5 504.3,275.8 505.2,275.1 506.1,274.4 507,273.7 507.9,273 508.9,272.3 509.8,271.6 510.7,270.9 511.6,270.2 512.5,269.6 513.4,268.9 514.3,268.2 515.2,267.6 516.1,267 517,266.3 517.9,265.7 518.9,265.1 519.8,264.5 520.7,263.9 521.6,263.3 522.5,262.7 523.4,262.2 524.3,261.6 525.2,261.1 526.1,260.5 527,260 527.9,259.5 528.8,259 529.8,258.5 530.7,258 531.6,257.5 532.5,257 533.4,256.5 534.3,256.1 535.2,255.6 536.1,255.2 537,254.8 537.9,254.4 538.8,254 539.8,253.6 540.7,253.2 541.6,252.8 542.5,252.5 543.4,252.1 544.3,251.8 545.2,251.4 546.1,251.1 547,250.8 547.9,250.5 548.8,250.2 549.8,249.9 550.7,249.6 551.6,249.3 552.5,249.1 553.4,248.8 554.3,248.6 555.2,248.3 556.1,248.1 557,247.8 557.9,247.6 558.8,247.4 559.8,247.2 560.7,246.9 561.6,246.7 562.5,246.5 563.4,246.3 564.3,246.1 565.2,245.9 566.1,245.7 567,245.5 567.9,245.4 568.8,245.2 569.7,245 570.7,244.8 571.6,244.6 572.5,244.5 573.4,244.3 574.3,244.2 575.2,244 576.1,243.8 576.1,362.9 413.4,362.9" fill="#007F3F"/>
<polygon points="413.4,360.9 414.3,360.9 415.2,360.8 416.1,360.7 417.1,360.6 418,360.5 418.9,360.3 419.8,360.1 420.7,359.9 421.6,359.7 422.5,359.5 423.4,359.2 424.3,358.9 425.2,358.6 426.1,358.3 427.1,357.9 428,357.5 428.9,357.1 429.8,356.7 430.7,356.2 431.6,355.7 432.5,355.2 433.4,354.7 434.3,354.1 435.2,353.5 436.1,352.9 437.1,352.3 438,351.6 438.9,351 439.8,350.3 440.7,349.6 441.6,348.9 442.5,348.1 443.4,347.3 444.3,346.6 445.2,345.8 446.1,344.9 447,344.1 448,343.3 448.9,342.4 449.8,341.6 450.7,340.7 451.6,339.9 452.5,339 453.4,338.1 454.3,337.3 455.2,336.4 456.1,335.6 457,334.8 458,334 458.9,333.2 459.8,332.4 460.7,331.6 461.6,330.8 462.5,330.1 463.4,329.4 464.3,328.7 465.2,328.1 466.1,327.5 467,326.9 468,326.3 468.9,325.8 469.8,325.3 470.7,324.8 471.6,324.4 472.5,323.9 473.4,323.5 474.3,323 475.2,322.6 476.1,322.2 477,321.7 478,321.3 478.9,320.9 479.8,320.5 480.7,320.1 481.6,319.7 482.5,319.3 483.4,319 484.3,318.6 485.2,318.3 486.1,317.9 487,317.6 487.9,317.2 488.9,316.9 489.8,316.6 490.7,316.2 491.6,315.9 492.5,315.6 493.4,315.2 494.3,314.9 495.2,314.6 496.1,314.3 497,314 497.9,313.7 498.9,313.4 499.8,313.2 500.7,312.9 501.6,312.7 502.5,312.4 503.4,312.2 504.3,312 505.2,311.8 506.1,311.6 507,311.5 507.9,311.4 508.9,311.2 509.8,311.1 510.7,311.1 511.6,311 512.5,311 513.4,310.9 514.3,310.9 515.2,310.9 516.1,311 517,311 517.9,311.1 518.9,311.2 519.8,311.3 520.7,311.4 521.6,311.5 522.5,311.7 523.4,311.8 524.3,312 525.2,312.2 526.1,312.4 527,312.6 527.9,312.8 528.8,313 529.8,313.2 530.7,313.4 531.6,313.6 532.5,313.9 533.4,314.1 534.3,314.3 535.2,314.5 536.1,314.8 537,315 537.9,315.2 538.8,315.4 539.8,315.7 540.7,315.9 541.6,316.1 542.5,316.3 543.4,316.5 544.3,316.7 545.2,316.9 546.1,317.1 547,317.3 547.9,317.5 548.8,317.7 549.8,317.9 550.7,318.1 551.6,318.3 552.5,318.4 553.4,318.6 554.3,318.8 555.2,318.9 556.1,319.1 557,319.2 557.9,319.4 558.8,319.5 559.8,319.6 560.7,319.8 561.6,319.9 562.5,320 563.4,320.1 564.3,320.2 565.2,320.3 566.1,320.5 567,320.6 567.9,320.7 568.8,320.8 569.7,320.9 570.7,321 571.6,321.1 572.5,321.2 573.4,321.3 574.3,321.4 575.2,321.5 576.1,321.6 576.1,362.9 413.4,362.9" fill="#354FA1"/>
<polyline points="413.4,360.9 414.3,360.9 415.2,360.8 416.1,360.7 417.1,360.6 418,360.4 418.9,360.2 419.8,360.1 420.7,359.8 421.6,359.6 422.5,359.3 423.4,359.1 424.3,358.8 425.2,358.4 426.1,358.1 427.1,357.7 428,357.3 428.9,356.9 429.8,356.5 430.7,356 431.6,355.5 432.5,355 433.4,354.4 434.3,353.9 435.2,353.3 436.1,352.6 437.1,352 438,351.3 438.9,350.5 439.8,349.8 440.7,349 441.6,348.1 442.5,347.2 443.4,346.3 444.3,345.4 445.2,344.4 446.1,343.4 447,342.4 448,341.3 448.9,340.3 449.8,339.2 450.7,338 451.6,336.9 452.5,335.8 453.4,334.6 454.3,333.4 455.2,332.3 456.1,331.1 457,329.9 458,328.7 458.9,327.5 459.8,326.3 460.7,325.1 461.6,323.9 462.5,322.7 463.4,321.5 464.3,320.3 465.2,319.1 466.1,317.9 467,316.7 468,315.5 468.9,314.3 469.8,313.1 470.7,312 471.6,310.8 472.5,309.6 473.4,308.4 474.3,307.2 475.2,306.1 476.1,304.9 477,303.7 478,302.5 478.9,301.4 479.8,300.3 480.7,299.1 481.6,298 482.5,296.9 483.4,295.9 484.3,294.8 485.2,293.8 486.1,292.8 487,291.8 487.9,290.8 488.9,289.8 489.8,288.9 490.7,287.9 491.6,287 492.5,286.1 493.4,285.3 494.3,284.4 495.2,283.6 496.1,282.7 497,281.9 497.9,281.1 498.9,280.3 499.8,279.5 500.7,278.8 501.6,278 502.5,277.3 503.4,276.5 504.3,275.8 505.2,275.1 506.1,274.4 507,273.7 507.9,273 508.9,272.3 509.8,271.6 510.7,270.9 511.6,270.2 512.5,269.6 513.4,268.9 514.3,268.2 515.2,267.6 516.1,267 517,266.3 517.9,265.7 518.9,265.1 519.8,264.5 520.7,263.9 521.6,263.3 522.5,262.7 523.4,262.2 524.3,261.6 525.2,261.1 526.1,260.5 527,260 527.9,259.5 528.8,259 529.8,258.5 530.7,258 531.6,257.5 532.5,257 533.4,256.5 534.3,256.1 535.2,255.6 536.1,255.2 537,254.8 537.9,254.4 538.8,254 539.8,253.6 540.7,253.2 541.6,252.8 542.5,252.5 543.4,252.1 544.3,251.8 545.2,251.4 546.1,251.1 547,250.8 547.9,250.5 548.8,250.2 549.8,249.9 550.7,249.6 551.6,249.3 552.5,249.1 553.4,248.8 554.3,248.6 555.2,248.3 556.1,248.1 557,247.8 557.9,247.6 558.8,247.4 559.8,247.2 560.7,246.9 561.6,246.7 562.5,246.5 563.4,246.3 564.3,246.1 565.2,245.9 566.1,245.7 567,245.5 567.9,245.4 568.8,245.2 569.7,245 570.7,244.8 571.6,244.6 572.5,244.5 573.4,244.3 574.3,244.2 575.2,244 576.1,243.8" fill="none" stroke="#1a1a1a" stroke-width="0.6"/>
<polyline points="413.4,360.9 414.3,360.9 415.2,360.8 416.1,360.7 417.1,360.6 418,360.5 418.9,360.3 419.8,360.1 420.7,359.9 421.6,359.7 422.5,359.5 423.4,359.2 424.3,358.9 425.2,358.6 426.1,358.3 427.1,357.9 428,357.5 428.9,357.1 429.8,356.7 430.7,356.2 431.6,355.7 432.5,355.2 433.4,354.7 434.3,354.1 435.2,353.5 436.1,352.9 437.1,352.3 438,351.6 438.9,351 439.8,350.3 440.7,349.6 441.6,348.9 442.5,348.1 443.4,347.3 444.3,346.6 445.2,345.8 446.1,344.9 447,344.1 448,343.3 448.9,342.4 449.8,341.6 450.7,340.7 451.6,339.9 452.5,339 453.4,338.1 454.3,337.3 455.2,336.4 456.1,335.6 457,334.8 458,334 458.9,333.2 459.8,332.4 460.7,331.6 461.6,330.8 462.5,330.1 463.4,329.4 464.3,328.7 465.2,328.1 466.1,327.5 467,326.9 468,326.3 468.9,325.8 469.8,325.3 470.7,324.8 471.6,324.4 472.5,323.9 473.4,323.5 474.3,323 475.2,322.6 476.1,322.2 477,321.7 478,321.3 478.9,320.9 479.8,320.5 480.7,320.1 481.6,319.7 482.5,319.3 483.4,319 484.3,318.6 485.2,318.3 486.1,317.9 487,317.6 487.9,317.2 488.9,316.9 489.8,316.6 490.7,316.2 491.6,315.9 492.5,315.6 493.4,315.2 494.3,314.9 495.2,314.6 496.1,314.3 497,314 497.9,313.7 498.9,313.4 499.8,313.2 500.7,312.9 501.6,312.7 502.5,312.4 503.4,312.2 504.3,312 505.2,311.8 506.1,311.6 507,311.5 507.9,311.4 508.9,311.2 509.8,311.1 510.7,311.1 511.6,311 512.5,311 513.4,310.9 514.3,310.9 515.2,310.9 516.1,311 517,311 517.9,311.1 518.9,311.2 519.8,311.3 520.7,311.4 521.6,311.5 522.5,311.7 523.4,311.8 524.3,312 525.2,312.2 526.1,312.4 527,312.6 527.9,312.8 528.8,313 529.8,313.2 530.7,313.4 531.6,313.6 532.5,313.9 533.4,314.1 534.3,314.3 535.2,314.5 536.1,314.8 537,315 537.9,315.2 538.8,315.4 539.8,315.7 540.7,315.9 541.6,316.1 542.5,316.3 543.4,316.5 544.3,316.7 545.2,316.9 546.1,317.1 547,317.3 547.9,317.5 548.8,317.7 549.8,317.9 550.7,318.1 551.6,318.3 552.5,318.4 553.4,318.6 554.3,318.8 555.2,318.9 556.1,319.1 557,319.2 557.9,319.4 558.8,319.5 559.8,319.6 560.7,319.8 561.6,319.9 562.5,320 563.4,320.1 564.3,320.2 565.2,320.3 566.1,320.5 567,320.6 567.9,320.7 568.8,320.8 569.7,320.9 570.7,321 571.6,321.1 572.5,321.2 573.4,321.3 574.3,321.4 575.2,321.5 576.1,321.6" fill="none" stroke="#1a1a1a" stroke-width="0.6"/>
</g>
<rect x="422" y="241" width="87.6" height="35.3" fill="#fff" stroke="#333" stroke-width="0.6"/>
<rect x="425.3" y="244.3" width="28" height="7.8" fill="#F27021"/>
<text x="456.3" y="251.2" font-size="8.3" text-anchor="start" font-weight="normal" fill="#262626" stroke="#262626" stroke-width="0.22" >Int. variability</text>
<rect x="425.3" y="255" width="28" height="7.8" fill="#007F3F"/>
<text x="456.3" y="261.9" font-size="8.3" text-anchor="start" font-weight="normal" fill="#262626" stroke="#262626" stroke-width="0.22" >Scenario</text>
<rect x="425.3" y="265.7" width="28" height="7.8" fill="#354FA1"/>
<text x="456.3" y="272.6" font-size="8.3" text-anchor="start" font-weight="normal" fill="#262626" stroke="#262626" stroke-width="0.22" >Response</text>
<text x="555.2" y="352.4" font-size="9" text-anchor="start" font-weight="normal" fill="#262626" stroke="#262626" stroke-width="0.22" >(f)</text>
<rect x="415.4" y="234.4" width="158.8" height="126.5" fill="none" stroke="#707070" stroke-width="1"/>
<path d="M431.7 360.9v-3.2M431.7 234.4v3.2" stroke="#707070" stroke-width="1"/>
<path d="M468.3 360.9v-3.2M468.3 234.4v3.2" stroke="#707070" stroke-width="1"/>
<path d="M504.8 360.9v-3.2M504.8 234.4v3.2" stroke="#707070" stroke-width="1"/>
<path d="M541.4 360.9v-3.2M541.4 234.4v3.2" stroke="#707070" stroke-width="1"/>
<path d="M415.4 360.9h3.2M574.2 360.9h-3.2" stroke="#707070" stroke-width="1"/>
<path d="M415.4 335.6h3.2M574.2 335.6h-3.2" stroke="#707070" stroke-width="1"/>
<path d="M415.4 310.3h3.2M574.2 310.3h-3.2" stroke="#707070" stroke-width="1"/>
<path d="M415.4 285h3.2M574.2 285h-3.2" stroke="#707070" stroke-width="1"/>
<path d="M415.4 259.7h3.2M574.2 259.7h-3.2" stroke="#707070" stroke-width="1"/>
<path d="M415.4 234.4h3.2M574.2 234.4h-3.2" stroke="#707070" stroke-width="1"/>
<text x="431.7" y="374.1" font-size="9.2" text-anchor="middle" font-weight="normal" fill="#262626" stroke="#262626" stroke-width="0.22" >2020</text>
<text x="468.3" y="374.1" font-size="9.2" text-anchor="middle" font-weight="normal" fill="#262626" stroke="#262626" stroke-width="0.22" >2040</text>
<text x="504.8" y="374.1" font-size="9.2" text-anchor="middle" font-weight="normal" fill="#262626" stroke="#262626" stroke-width="0.22" >2060</text>
<text x="541.4" y="374.1" font-size="9.2" text-anchor="middle" font-weight="normal" fill="#262626" stroke="#262626" stroke-width="0.22" >2080</text>
<text x="411" y="364.2" font-size="9.2" text-anchor="end" font-weight="normal" fill="#262626" stroke="#262626" stroke-width="0.22" >0</text>
<text x="411" y="338.9" font-size="9.2" text-anchor="end" font-weight="normal" fill="#262626" stroke="#262626" stroke-width="0.22" >20</text>
<text x="411" y="313.6" font-size="9.2" text-anchor="end" font-weight="normal" fill="#262626" stroke="#262626" stroke-width="0.22" >40</text>
<text x="411" y="288.3" font-size="9.2" text-anchor="end" font-weight="normal" fill="#262626" stroke="#262626" stroke-width="0.22" >60</text>
<text x="411" y="263" font-size="9.2" text-anchor="end" font-weight="normal" fill="#262626" stroke="#262626" stroke-width="0.22" >80</text>
<text x="411" y="237.7" font-size="9.2" text-anchor="end" font-weight="normal" fill="#262626" stroke="#262626" stroke-width="0.22" >100</text>
<text x="495.8" y="388" font-size="10.3" text-anchor="middle" font-weight="normal" fill="#262626" stroke="#262626" stroke-width="0.22" >Time (Year)</text>
<text transform="translate(396,297.6) rotate(-90)" font-size="10.0" text-anchor="middle" fill="#262626" stroke="#262626" stroke-width="0.22">Fraction (%)</text>
<g clip-path="url(#c22)">
<rect x="415.4" y="436.4" width="158.8" height="126.6" fill="#F27021"/>
<polygon points="413.4,563 414.3,563 415.2,563 416.1,563 417.1,563 418,563 418.9,563 419.8,563 420.7,563 421.6,563 422.5,563 423.4,563 424.3,563 425.2,563 426.1,562.9 427.1,562.9 428,562.9 428.9,562.8 429.8,562.8 430.7,562.7 431.6,562.6 432.5,562.6 433.4,562.5 434.3,562.4 435.2,562.3 436.1,562.2 437.1,562 438,561.9 438.9,561.8 439.8,561.6 440.7,561.5 441.6,561.4 442.5,561.2 443.4,561.1 444.3,560.9 445.2,560.7 446.1,560.6 447,560.4 448,560.3 448.9,560.1 449.8,559.9 450.7,559.8 451.6,559.6 452.5,559.5 453.4,559.3 454.3,559.2 455.2,559 456.1,558.8 457,558.7 458,558.5 458.9,558.3 459.8,558.2 460.7,558 461.6,557.8 462.5,557.6 463.4,557.4 464.3,557.2 465.2,557 466.1,556.7 467,556.5 468,556.2 468.9,555.9 469.8,555.6 470.7,555.3 471.6,555 472.5,554.7 473.4,554.3 474.3,554 475.2,553.6 476.1,553.2 477,552.8 478,552.4 478.9,551.9 479.8,551.5 480.7,551 481.6,550.6 482.5,550.1 483.4,549.6 484.3,549.1 485.2,548.6 486.1,548.1 487,547.5 487.9,547 488.9,546.4 489.8,545.9 490.7,545.4 491.6,544.8 492.5,544.3 493.4,543.7 494.3,543.2 495.2,542.7 496.1,542.1 497,541.6 497.9,541.1 498.9,540.5 499.8,540 500.7,539.5 501.6,538.9 502.5,538.4 503.4,537.8 504.3,537.3 505.2,536.7 506.1,536.2 507,535.6 507.9,535 508.9,534.4 509.8,533.8 510.7,533.2 511.6,532.6 512.5,532 513.4,531.4 514.3,530.7 515.2,530.1 516.1,529.4 517,528.8 517.9,528.2 518.9,527.5 519.8,526.9 520.7,526.2 521.6,525.6 522.5,525 523.4,524.3 524.3,523.7 525.2,523.1 526.1,522.5 527,522 527.9,521.4 528.8,520.8 529.8,520.3 530.7,519.8 531.6,519.2 532.5,518.7 533.4,518.2 534.3,517.7 535.2,517.2 536.1,516.7 537,516.2 537.9,515.8 538.8,515.3 539.8,514.8 540.7,514.3 541.6,513.8 542.5,513.4 543.4,512.9 544.3,512.4 545.2,511.9 546.1,511.4 547,510.9 547.9,510.4 548.8,509.9 549.8,509.4 550.7,508.9 551.6,508.4 552.5,507.9 553.4,507.3 554.3,506.8 555.2,506.3 556.1,505.8 557,505.3 557.9,504.8 558.8,504.3 559.8,503.8 560.7,503.4 561.6,502.9 562.5,502.4 563.4,501.9 564.3,501.5 565.2,501 566.1,500.6 567,500.1 567.9,499.7 568.8,499.3 569.7,498.9 570.7,498.5 571.6,498 572.5,497.6 573.4,497.3 574.3,496.9 575.2,496.5 576.1,496.1 576.1,565 413.4,565" fill="#007F3F"/>
<polygon points="413.4,563 414.3,563 415.2,563 416.1,563 417.1,563 418,563 418.9,563 419.8,563 420.7,563 421.6,563 422.5,563 423.4,563 424.3,563 425.2,563 426.1,562.9 427.1,562.9 428,562.9 428.9,562.8 429.8,562.8 430.7,562.7 431.6,562.6 432.5,562.6 433.4,562.5 434.3,562.4 435.2,562.3 436.1,562.2 437.1,562.1 438,562 438.9,561.8 439.8,561.7 440.7,561.6 441.6,561.4 442.5,561.3 443.4,561.2 444.3,561 445.2,560.9 446.1,560.7 447,560.5 448,560.4 448.9,560.2 449.8,560.1 450.7,559.9 451.6,559.7 452.5,559.6 453.4,559.4 454.3,559.2 455.2,559.1 456.1,558.9 457,558.7 458,558.6 458.9,558.4 459.8,558.2 460.7,558.1 461.6,557.9 462.5,557.7 463.4,557.5 464.3,557.3 465.2,557.2 466.1,557 467,556.8 468,556.6 468.9,556.4 469.8,556.2 470.7,555.9 471.6,555.7 472.5,555.5 473.4,555.3 474.3,555 475.2,554.8 476.1,554.6 477,554.3 478,554 478.9,553.8 479.8,553.5 480.7,553.2 481.6,552.9 482.5,552.6 483.4,552.3 484.3,552 485.2,551.6 486.1,551.3 487,550.9 487.9,550.5 488.9,550.2 489.8,549.8 490.7,549.4 491.6,549.1 492.5,548.7 493.4,548.4 494.3,548 495.2,547.7 496.1,547.3 497,547 497.9,546.6 498.9,546.3 499.8,546 500.7,545.7 501.6,545.4 502.5,545 503.4,544.7 504.3,544.4 505.2,544.1 506.1,543.8 507,543.5 507.9,543.2 508.9,542.9 509.8,542.6 510.7,542.3 511.6,542 512.5,541.7 513.4,541.4 514.3,541.1 515.2,540.8 516.1,540.5 517,540.2 517.9,540 518.9,539.7 519.8,539.4 520.7,539.1 521.6,538.9 522.5,538.6 523.4,538.4 524.3,538.2 525.2,537.9 526.1,537.7 527,537.5 527.9,537.3 528.8,537.1 529.8,536.9 530.7,536.8 531.6,536.6 532.5,536.4 533.4,536.3 534.3,536.2 535.2,536.1 536.1,536 537,535.9 537.9,535.8 538.8,535.8 539.8,535.7 540.7,535.7 541.6,535.7 542.5,535.7 543.4,535.7 544.3,535.7 545.2,535.8 546.1,535.8 547,535.9 547.9,535.9 548.8,536 549.8,536.1 550.7,536.2 551.6,536.3 552.5,536.5 553.4,536.6 554.3,536.7 555.2,536.9 556.1,537 557,537.1 557.9,537.3 558.8,537.4 559.8,537.6 560.7,537.7 561.6,537.8 562.5,537.9 563.4,538 564.3,538.1 565.2,538.2 566.1,538.3 567,538.3 567.9,538.4 568.8,538.4 569.7,538.4 570.7,538.4 571.6,538.4 572.5,538.4 573.4,538.4 574.3,538.4 575.2,538.3 576.1,538.3 576.1,565 413.4,565" fill="#354FA1"/>
<polyline points="413.4,563 414.3,563 415.2,563 416.1,563 417.1,563 418,563 418.9,563 419.8,563 420.7,563 421.6,563 422.5,563 423.4,563 424.3,563 425.2,563 426.1,562.9 427.1,562.9 428,562.9 428.9,562.8 429.8,562.8 430.7,562.7 431.6,562.6 432.5,562.6 433.4,562.5 434.3,562.4 435.2,562.3 436.1,562.2 437.1,562 438,561.9 438.9,561.8 439.8,561.6 440.7,561.5 441.6,561.4 442.5,561.2 443.4,561.1 444.3,560.9 445.2,560.7 446.1,560.6 447,560.4 448,560.3 448.9,560.1 449.8,559.9 450.7,559.8 451.6,559.6 452.5,559.5 453.4,559.3 454.3,559.2 455.2,559 456.1,558.8 457,558.7 458,558.5 458.9,558.3 459.8,558.2 460.7,558 461.6,557.8 462.5,557.6 463.4,557.4 464.3,557.2 465.2,557 466.1,556.7 467,556.5 468,556.2 468.9,555.9 469.8,555.6 470.7,555.3 471.6,555 472.5,554.7 473.4,554.3 474.3,554 475.2,553.6 476.1,553.2 477,552.8 478,552.4 478.9,551.9 479.8,551.5 480.7,551 481.6,550.6 482.5,550.1 483.4,549.6 484.3,549.1 485.2,548.6 486.1,548.1 487,547.5 487.9,547 488.9,546.4 489.8,545.9 490.7,545.4 491.6,544.8 492.5,544.3 493.4,543.7 494.3,543.2 495.2,542.7 496.1,542.1 497,541.6 497.9,541.1 498.9,540.5 499.8,540 500.7,539.5 501.6,538.9 502.5,538.4 503.4,537.8 504.3,537.3 505.2,536.7 506.1,536.2 507,535.6 507.9,535 508.9,534.4 509.8,533.8 510.7,533.2 511.6,532.6 512.5,532 513.4,531.4 514.3,530.7 515.2,530.1 516.1,529.4 517,528.8 517.9,528.2 518.9,527.5 519.8,526.9 520.7,526.2 521.6,525.6 522.5,525 523.4,524.3 524.3,523.7 525.2,523.1 526.1,522.5 527,522 527.9,521.4 528.8,520.8 529.8,520.3 530.7,519.8 531.6,519.2 532.5,518.7 533.4,518.2 534.3,517.7 535.2,517.2 536.1,516.7 537,516.2 537.9,515.8 538.8,515.3 539.8,514.8 540.7,514.3 541.6,513.8 542.5,513.4 543.4,512.9 544.3,512.4 545.2,511.9 546.1,511.4 547,510.9 547.9,510.4 548.8,509.9 549.8,509.4 550.7,508.9 551.6,508.4 552.5,507.9 553.4,507.3 554.3,506.8 555.2,506.3 556.1,505.8 557,505.3 557.9,504.8 558.8,504.3 559.8,503.8 560.7,503.4 561.6,502.9 562.5,502.4 563.4,501.9 564.3,501.5 565.2,501 566.1,500.6 567,500.1 567.9,499.7 568.8,499.3 569.7,498.9 570.7,498.5 571.6,498 572.5,497.6 573.4,497.3 574.3,496.9 575.2,496.5 576.1,496.1" fill="none" stroke="#1a1a1a" stroke-width="0.6"/>
<polyline points="413.4,563 414.3,563 415.2,563 416.1,563 417.1,563 418,563 418.9,563 419.8,563 420.7,563 421.6,563 422.5,563 423.4,563 424.3,563 425.2,563 426.1,562.9 427.1,562.9 428,562.9 428.9,562.8 429.8,562.8 430.7,562.7 431.6,562.6 432.5,562.6 433.4,562.5 434.3,562.4 435.2,562.3 436.1,562.2 437.1,562.1 438,562 438.9,561.8 439.8,561.7 440.7,561.6 441.6,561.4 442.5,561.3 443.4,561.2 444.3,561 445.2,560.9 446.1,560.7 447,560.5 448,560.4 448.9,560.2 449.8,560.1 450.7,559.9 451.6,559.7 452.5,559.6 453.4,559.4 454.3,559.2 455.2,559.1 456.1,558.9 457,558.7 458,558.6 458.9,558.4 459.8,558.2 460.7,558.1 461.6,557.9 462.5,557.7 463.4,557.5 464.3,557.3 465.2,557.2 466.1,557 467,556.8 468,556.6 468.9,556.4 469.8,556.2 470.7,555.9 471.6,555.7 472.5,555.5 473.4,555.3 474.3,555 475.2,554.8 476.1,554.6 477,554.3 478,554 478.9,553.8 479.8,553.5 480.7,553.2 481.6,552.9 482.5,552.6 483.4,552.3 484.3,552 485.2,551.6 486.1,551.3 487,550.9 487.9,550.5 488.9,550.2 489.8,549.8 490.7,549.4 491.6,549.1 492.5,548.7 493.4,548.4 494.3,548 495.2,547.7 496.1,547.3 497,547 497.9,546.6 498.9,546.3 499.8,546 500.7,545.7 501.6,545.4 502.5,545 503.4,544.7 504.3,544.4 505.2,544.1 506.1,543.8 507,543.5 507.9,543.2 508.9,542.9 509.8,542.6 510.7,542.3 511.6,542 512.5,541.7 513.4,541.4 514.3,541.1 515.2,540.8 516.1,540.5 517,540.2 517.9,540 518.9,539.7 519.8,539.4 520.7,539.1 521.6,538.9 522.5,538.6 523.4,538.4 524.3,538.2 525.2,537.9 526.1,537.7 527,537.5 527.9,537.3 528.8,537.1 529.8,536.9 530.7,536.8 531.6,536.6 532.5,536.4 533.4,536.3 534.3,536.2 535.2,536.1 536.1,536 537,535.9 537.9,535.8 538.8,535.8 539.8,535.7 540.7,535.7 541.6,535.7 542.5,535.7 543.4,535.7 544.3,535.7 545.2,535.8 546.1,535.8 547,535.9 547.9,535.9 548.8,536 549.8,536.1 550.7,536.2 551.6,536.3 552.5,536.5 553.4,536.6 554.3,536.7 555.2,536.9 556.1,537 557,537.1 557.9,537.3 558.8,537.4 559.8,537.6 560.7,537.7 561.6,537.8 562.5,537.9 563.4,538 564.3,538.1 565.2,538.2 566.1,538.3 567,538.3 567.9,538.4 568.8,538.4 569.7,538.4 570.7,538.4 571.6,538.4 572.5,538.4 573.4,538.4 574.3,538.4 575.2,538.3 576.1,538.3" fill="none" stroke="#1a1a1a" stroke-width="0.6"/>
</g>
<rect x="422" y="443" width="89" height="37" fill="#fff" stroke="#333" stroke-width="0.6"/>
<rect x="425.3" y="446.3" width="28" height="7.8" fill="#F27021"/>
<text x="456.3" y="453.2" font-size="8.3" text-anchor="start" font-weight="normal" fill="#262626" stroke="#262626" stroke-width="0.22" >Int. variability</text>
<rect x="425.3" y="457" width="28" height="7.8" fill="#007F3F"/>
<text x="456.3" y="463.9" font-size="8.3" text-anchor="start" font-weight="normal" fill="#262626" stroke="#262626" stroke-width="0.22" >Scenario</text>
<rect x="425.3" y="467.7" width="28" height="7.8" fill="#354FA1"/>
<text x="456.3" y="474.6" font-size="8.3" text-anchor="start" font-weight="normal" fill="#262626" stroke="#262626" stroke-width="0.22" >Response</text>
<text x="555.2" y="554.5" font-size="9" text-anchor="start" font-weight="normal" fill="#262626" stroke="#262626" stroke-width="0.22" >(i)</text>
<rect x="415.4" y="436.4" width="158.8" height="126.6" fill="none" stroke="#707070" stroke-width="1"/>
<path d="M431.7 563v-3.2M431.7 436.4v3.2" stroke="#707070" stroke-width="1"/>
<path d="M468.3 563v-3.2M468.3 436.4v3.2" stroke="#707070" stroke-width="1"/>
<path d="M504.8 563v-3.2M504.8 436.4v3.2" stroke="#707070" stroke-width="1"/>
<path d="M541.4 563v-3.2M541.4 436.4v3.2" stroke="#707070" stroke-width="1"/>
<path d="M415.4 563h3.2M574.2 563h-3.2" stroke="#707070" stroke-width="1"/>
<path d="M415.4 537.7h3.2M574.2 537.7h-3.2" stroke="#707070" stroke-width="1"/>
<path d="M415.4 512.4h3.2M574.2 512.4h-3.2" stroke="#707070" stroke-width="1"/>
<path d="M415.4 487h3.2M574.2 487h-3.2" stroke="#707070" stroke-width="1"/>
<path d="M415.4 461.7h3.2M574.2 461.7h-3.2" stroke="#707070" stroke-width="1"/>
<path d="M415.4 436.4h3.2M574.2 436.4h-3.2" stroke="#707070" stroke-width="1"/>
<text x="431.7" y="576.2" font-size="9.2" text-anchor="middle" font-weight="normal" fill="#262626" stroke="#262626" stroke-width="0.22" >2020</text>
<text x="468.3" y="576.2" font-size="9.2" text-anchor="middle" font-weight="normal" fill="#262626" stroke="#262626" stroke-width="0.22" >2040</text>
<text x="504.8" y="576.2" font-size="9.2" text-anchor="middle" font-weight="normal" fill="#262626" stroke="#262626" stroke-width="0.22" >2060</text>
<text x="541.4" y="576.2" font-size="9.2" text-anchor="middle" font-weight="normal" fill="#262626" stroke="#262626" stroke-width="0.22" >2080</text>
<text x="411" y="566.3" font-size="9.2" text-anchor="end" font-weight="normal" fill="#262626" stroke="#262626" stroke-width="0.22" >0</text>
<text x="411" y="541" font-size="9.2" text-anchor="end" font-weight="normal" fill="#262626" stroke="#262626" stroke-width="0.22" >20</text>
<text x="411" y="515.7" font-size="9.2" text-anchor="end" font-weight="normal" fill="#262626" stroke="#262626" stroke-width="0.22" >40</text>
<text x="411" y="490.3" font-size="9.2" text-anchor="end" font-weight="normal" fill="#262626" stroke="#262626" stroke-width="0.22" >60</text>
<text x="411" y="465" font-size="9.2" text-anchor="end" font-weight="normal" fill="#262626" stroke="#262626" stroke-width="0.22" >80</text>
<text x="411" y="439.7" font-size="9.2" text-anchor="end" font-weight="normal" fill="#262626" stroke="#262626" stroke-width="0.22" >100</text>
<text x="495.8" y="590.1" font-size="10.3" text-anchor="middle" font-weight="normal" fill="#262626" stroke="#262626" stroke-width="0.22" >Time (Year)</text>
<text transform="translate(396,499.7) rotate(-90)" font-size="10.0" text-anchor="middle" fill="#262626" stroke="#262626" stroke-width="0.22">Fraction (%)</text>
<text x="20.4" y="10.9" font-size="14.9" text-anchor="start" font-weight="bold" fill="#000" stroke="#000" stroke-width="0.3" >Global (annual)</text>
<text x="106.5" y="25.7" font-size="10.1" text-anchor="middle" font-weight="bold" fill="#111" stroke="#111" stroke-width="0.3" >CMIP6 projections rel. to 2001-2020</text>
<text x="301.3" y="25.7" font-size="10.1" text-anchor="middle" font-weight="bold" fill="#111" stroke="#111" stroke-width="0.3" >Sources of uncertainty</text>
<text x="494.8" y="25.7" font-size="10.1" text-anchor="middle" font-weight="bold" fill="#111" stroke="#111" stroke-width="0.3" >Contribution to total uncertainty</text>
<text x="20.4" y="213.8" font-size="14.9" text-anchor="start" font-weight="bold" fill="#000" stroke="#000" stroke-width="0.3" >North America (Dec-Feb)</text>
<text x="106.5" y="228.6" font-size="10.1" text-anchor="middle" font-weight="bold" fill="#111" stroke="#111" stroke-width="0.3" >CMIP6 projections rel. to 2001-2020</text>
<text x="301.3" y="228.6" font-size="10.1" text-anchor="middle" font-weight="bold" fill="#111" stroke="#111" stroke-width="0.3" >Sources of uncertainty</text>
<text x="494.8" y="228.6" font-size="10.1" text-anchor="middle" font-weight="bold" fill="#111" stroke="#111" stroke-width="0.3" >Contribution to total uncertainty</text>
<text x="20.4" y="414.9" font-size="14.9" text-anchor="start" font-weight="bold" fill="#000" stroke="#000" stroke-width="0.3" >Anchorage, AK (Dec-Feb)</text>
<text x="106.5" y="430.4" font-size="10.1" text-anchor="middle" font-weight="bold" fill="#111" stroke="#111" stroke-width="0.3" >CMIP6 projections rel. to 2001-2020</text>
<text x="301.3" y="430.4" font-size="10.1" text-anchor="middle" font-weight="bold" fill="#111" stroke="#111" stroke-width="0.3" >Sources of uncertainty</text>
<text x="494.8" y="430.4" font-size="10.1" text-anchor="middle" font-weight="bold" fill="#111" stroke="#111" stroke-width="0.3" >Contribution to total uncertainty</text>
</svg></body></html>
